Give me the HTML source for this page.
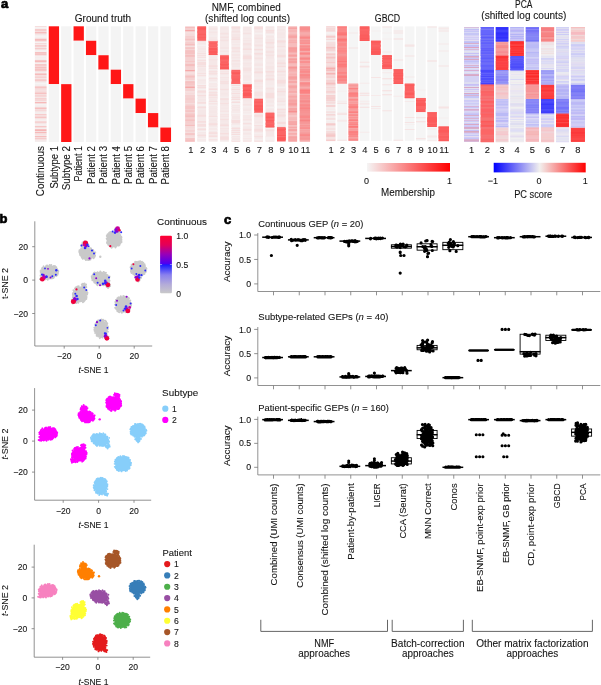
<!DOCTYPE html>
<html><head><meta charset="utf-8"><title>Figure</title>
<style>html,body{margin:0;padding:0;background:#fff;} svg{display:block;} text{font-family:"Liberation Sans", Arial, sans-serif;fill:#151515;stroke:#151515;stroke-width:0.1px;}</style>
</head><body>
<svg width="601" height="685" viewBox="0 0 601 685">
<rect width="601" height="685" fill="#fff"/>
<text x="1" y="7.7" font-size="13" style="stroke:#000;stroke-width:0.7px;fill:#000" font-weight="bold" fill="#000">a</text>
<text x="103" y="22" font-size="10" text-anchor="middle" textLength="56.4" lengthAdjust="spacingAndGlyphs">Ground truth</text>
<rect x="34.9" y="26.3" width="11.6" height="115.7" fill="#f4eded"/>
<rect x="48.75" y="26.3" width="10.3" height="57.85" fill="#ff1616"/>
<rect x="48.75" y="84.15" width="10.3" height="57.85" fill="#f4f4f4"/>
<rect x="61.15" y="26.3" width="10.3" height="57.85" fill="#f4f4f4"/>
<rect x="61.15" y="84.15" width="10.3" height="57.85" fill="#ff1616"/>
<rect x="73.55" y="26.3" width="10.3" height="14.46" fill="#ff1616"/>
<rect x="73.55" y="40.76" width="10.3" height="101.24" fill="#f4f4f4"/>
<rect x="85.95" y="26.3" width="10.3" height="14.46" fill="#f4f4f4"/>
<rect x="85.95" y="40.76" width="10.3" height="14.46" fill="#ff1616"/>
<rect x="85.95" y="55.23" width="10.3" height="86.78" fill="#f4f4f4"/>
<rect x="98.35" y="26.3" width="10.3" height="28.93" fill="#f4f4f4"/>
<rect x="98.35" y="55.23" width="10.3" height="14.46" fill="#ff1616"/>
<rect x="98.35" y="69.69" width="10.3" height="72.31" fill="#f4f4f4"/>
<rect x="110.75" y="26.3" width="10.3" height="43.39" fill="#f4f4f4"/>
<rect x="110.75" y="69.69" width="10.3" height="14.46" fill="#ff1616"/>
<rect x="110.75" y="84.15" width="10.3" height="57.85" fill="#f4f4f4"/>
<rect x="123.15" y="26.3" width="10.3" height="57.85" fill="#f4f4f4"/>
<rect x="123.15" y="84.15" width="10.3" height="14.46" fill="#ff1616"/>
<rect x="123.15" y="98.61" width="10.3" height="43.39" fill="#f4f4f4"/>
<rect x="135.55" y="26.3" width="10.3" height="72.31" fill="#f4f4f4"/>
<rect x="135.55" y="98.61" width="10.3" height="14.46" fill="#ff1616"/>
<rect x="135.55" y="113.08" width="10.3" height="28.92" fill="#f4f4f4"/>
<rect x="147.95" y="26.3" width="10.3" height="86.78" fill="#f4f4f4"/>
<rect x="147.95" y="113.08" width="10.3" height="14.46" fill="#ff1616"/>
<rect x="147.95" y="127.54" width="10.3" height="14.46" fill="#f4f4f4"/>
<rect x="160.35" y="26.3" width="10.7" height="101.24" fill="#f4f4f4"/>
<rect x="160.35" y="127.54" width="10.7" height="14.46" fill="#ff1616"/>
<path d="M34.9 26.8h11.6M34.9 38.8h11.6M34.9 66.8h11.6M34.9 89.8h11.6M34.9 91.8h11.6M34.9 96.8h11.6M34.9 99.8h11.6M34.9 134.8h11.6" stroke="#f6d8d8" stroke-width="1.02"/>
<path d="M34.9 27.8h11.6M34.9 36.8h11.6M34.9 42.8h11.6M34.9 83.8h11.6M34.9 104.8h11.6" stroke="#f6f6f6" stroke-width="1.02"/>
<path d="M34.9 28.8h11.6M34.9 35.8h11.6M34.9 37.8h11.6M34.9 41.8h11.6M34.9 44.8h11.6M34.9 50.8h11.6M34.9 51.8h11.6M34.9 55.8h11.6M34.9 56.8h11.6M34.9 58.8h11.6M34.9 63.8h11.6M34.9 75.8h11.6M34.9 78.8h11.6M34.9 94.8h11.6M34.9 101.8h11.6M34.9 103.8h11.6M34.9 118.8h11.6M34.9 120.8h11.6M34.9 124.8h11.6M34.9 128.8h11.6M34.9 131.8h11.6M34.9 133.8h11.6" stroke="#f6f0f0" stroke-width="1.02"/>
<path d="M34.9 29.8h11.6M34.9 40.8h11.6M34.9 45.8h11.6M34.9 48.8h11.6M34.9 80.8h11.6M34.9 114.8h11.6M34.9 138.8h11.6" stroke="#f6c0c0" stroke-width="1.02"/>
<path d="M34.9 30.8h11.6M34.9 53.8h11.6M34.9 65.8h11.6M34.9 70.8h11.6M34.9 73.8h11.6M34.9 77.8h11.6M34.9 79.8h11.6M34.9 98.8h11.6" stroke="#f6c6c6" stroke-width="1.02"/>
<path d="M34.9 31.8h11.6M34.9 88.8h11.6M34.9 90.8h11.6M34.9 115.8h11.6M34.9 139.8h11.6" stroke="#f6dede" stroke-width="1.02"/>
<path d="M34.9 32.8h11.6M34.9 39.8h11.6M34.9 69.8h11.6M34.9 74.8h11.6M34.9 93.8h11.6M34.9 136.8h11.6" stroke="#f6aeae" stroke-width="1.02"/>
<path d="M34.9 33.8h11.6M34.9 43.8h11.6M34.9 68.8h11.6M34.9 76.8h11.6M34.9 100.8h11.6M34.9 110.8h11.6M34.9 116.8h11.6M34.9 121.8h11.6M34.9 122.8h11.6" stroke="#f6d2d2" stroke-width="1.02"/>
<path d="M34.9 46.8h11.6M34.9 86.8h11.6M34.9 92.8h11.6M34.9 95.8h11.6M34.9 107.8h11.6" stroke="#f6cccc" stroke-width="1.02"/>
<path d="M34.9 52.8h11.6M34.9 67.8h11.6M34.9 108.8h11.6M34.9 129.8h11.6M34.9 130.8h11.6" stroke="#f6b4b4" stroke-width="1.02"/>
<path d="M34.9 54.8h11.6M34.9 60.8h11.6M34.9 61.8h11.6M34.9 64.8h11.6M34.9 87.8h11.6M34.9 117.8h11.6M34.9 126.8h11.6" stroke="#f6baba" stroke-width="1.02"/>
<path d="M34.9 102.8h11.6M34.9 132.8h11.6" stroke="#f6a8a8" stroke-width="1.02"/>
<text x="44.3" y="146" font-size="10" text-anchor="end" textLength="50.3" lengthAdjust="spacingAndGlyphs" transform="rotate(-90 44.3 146)">Continuous</text>
<text x="57.5" y="146" font-size="10" text-anchor="end" textLength="42.6" lengthAdjust="spacingAndGlyphs" transform="rotate(-90 57.5 146)">Subtype 1</text>
<text x="69.9" y="146" font-size="10" text-anchor="end" textLength="44.2" lengthAdjust="spacingAndGlyphs" transform="rotate(-90 69.9 146)">Subtype 2</text>
<text x="82.3" y="146" font-size="10" text-anchor="end" textLength="35.6" lengthAdjust="spacingAndGlyphs" transform="rotate(-90 82.3 146)">Patient 1</text>
<text x="94.7" y="146" font-size="10" text-anchor="end" textLength="38" lengthAdjust="spacingAndGlyphs" transform="rotate(-90 94.7 146)">Patient 2</text>
<text x="107.1" y="146" font-size="10" text-anchor="end" textLength="38" lengthAdjust="spacingAndGlyphs" transform="rotate(-90 107.1 146)">Patient 3</text>
<text x="119.5" y="146" font-size="10" text-anchor="end" textLength="38.4" lengthAdjust="spacingAndGlyphs" transform="rotate(-90 119.5 146)">Patient 4</text>
<text x="131.9" y="146" font-size="10" text-anchor="end" textLength="38" lengthAdjust="spacingAndGlyphs" transform="rotate(-90 131.9 146)">Patient 5</text>
<text x="144.3" y="146" font-size="10" text-anchor="end" textLength="38.4" lengthAdjust="spacingAndGlyphs" transform="rotate(-90 144.3 146)">Patient 6</text>
<text x="156.7" y="146" font-size="10" text-anchor="end" textLength="38" lengthAdjust="spacingAndGlyphs" transform="rotate(-90 156.7 146)">Patient 7</text>
<text x="169.3" y="146" font-size="10" text-anchor="end" textLength="38.4" lengthAdjust="spacingAndGlyphs" transform="rotate(-90 169.3 146)">Patient 8</text>
<text x="246.2" y="10.8" font-size="10" text-anchor="middle" textLength="69" lengthAdjust="spacingAndGlyphs">NMF, combined</text>
<text x="247.5" y="22.1" font-size="10" text-anchor="middle" textLength="85" lengthAdjust="spacingAndGlyphs">(shifted log counts)</text>
<rect x="185.2" y="26.5" width="9.6" height="115" fill="#f5d7d7"/>
<rect x="197.38" y="26.5" width="8.7" height="14.38" fill="#fb6262"/>
<rect x="197.38" y="40.88" width="8.7" height="100.62" fill="#f5e7e7"/>
<rect x="208.75" y="26.5" width="8.7" height="14.38" fill="#f5e7e7"/>
<rect x="208.75" y="40.88" width="8.7" height="14.38" fill="#fb6262"/>
<rect x="208.75" y="55.25" width="8.7" height="86.25" fill="#f5e7e7"/>
<rect x="220.12" y="26.5" width="8.7" height="28.75" fill="#f5e7e7"/>
<rect x="220.12" y="55.25" width="8.7" height="14.38" fill="#fb6262"/>
<rect x="220.12" y="69.62" width="8.7" height="71.88" fill="#f5e7e7"/>
<rect x="231.5" y="26.5" width="8.7" height="43.12" fill="#f5e7e7"/>
<rect x="231.5" y="69.62" width="8.7" height="14.38" fill="#fb6262"/>
<rect x="231.5" y="84" width="8.7" height="57.5" fill="#f5e7e7"/>
<rect x="242.88" y="26.5" width="8.7" height="57.5" fill="#f5e7e7"/>
<rect x="242.88" y="84" width="8.7" height="14.38" fill="#fb6262"/>
<rect x="242.88" y="98.38" width="8.7" height="43.12" fill="#f5e7e7"/>
<rect x="254.25" y="26.5" width="8.7" height="71.88" fill="#f5e7e7"/>
<rect x="254.25" y="98.38" width="8.7" height="14.38" fill="#fb6262"/>
<rect x="254.25" y="112.75" width="8.7" height="28.75" fill="#f5e7e7"/>
<rect x="265.62" y="26.5" width="8.7" height="86.25" fill="#f5e7e7"/>
<rect x="265.62" y="112.75" width="8.7" height="14.38" fill="#fb6262"/>
<rect x="265.62" y="127.12" width="8.7" height="14.38" fill="#f5e7e7"/>
<rect x="277" y="26.5" width="8.7" height="100.62" fill="#f5e7e7"/>
<rect x="277" y="127.12" width="8.7" height="14.38" fill="#fb6262"/>
<rect x="288.38" y="26.5" width="8.7" height="115" fill="#f7b2b2"/>
<rect x="299.75" y="26.5" width="10.3" height="115" fill="#f89c9c"/>
<path d="M185.2 27h9.6M185.2 44h9.6M185.2 50h9.6M185.2 55h9.6M185.2 65h9.6M185.2 75h9.6M185.2 86h9.6M185.2 99h9.6M185.2 104h9.6M185.2 113h9.6M185.2 117h9.6M185.2 126h9.6M185.2 128h9.6M185.2 130h9.6M185.2 131h9.6M185.2 136h9.6M288.38 135h8.7" stroke="#f6d2d2" stroke-width="1.02"/>
<path d="M185.2 28h9.6M185.2 30h9.6M185.2 31h9.6M185.2 39h9.6M185.2 45h9.6M185.2 53h9.6M185.2 56h9.6M185.2 64h9.6M185.2 66h9.6M185.2 70h9.6M185.2 71h9.6M185.2 87h9.6M185.2 88h9.6M185.2 96h9.6M185.2 102h9.6M185.2 116h9.6M185.2 125h9.6M185.2 141h9.6M288.38 38h8.7M288.38 50h8.7M288.38 53h8.7M288.38 71h8.7M288.38 78h8.7M288.38 81h8.7M288.38 83h8.7M288.38 85h8.7M288.38 96h8.7M288.38 102h8.7M288.38 106h8.7M288.38 114h8.7M288.38 139h8.7M288.38 140h8.7M299.75 32h10.3M299.75 36h10.3M299.75 39h10.3M299.75 56h10.3M299.75 79h10.3M299.75 88h10.3M299.75 114h10.3M299.75 124h10.3M299.75 130h10.3" stroke="#f6a8a8" stroke-width="1.02"/>
<path d="M185.2 29h9.6M185.2 32h9.6M185.2 35h9.6M185.2 38h9.6M185.2 46h9.6M185.2 58h9.6M185.2 60h9.6M185.2 67h9.6M185.2 72h9.6M185.2 73h9.6M185.2 74h9.6M185.2 92h9.6M185.2 93h9.6M185.2 110h9.6M185.2 119h9.6M185.2 124h9.6M185.2 127h9.6M185.2 135h9.6M185.2 138h9.6M197.38 41.38h8.7M197.38 53.38h8.7M197.38 55.38h8.7M197.38 57.38h8.7M197.38 60.38h8.7M197.38 62.38h8.7M197.38 63.38h8.7M197.38 64.38h8.7M197.38 66.38h8.7M197.38 73.38h8.7M197.38 75.38h8.7M197.38 85.38h8.7M197.38 87.38h8.7M197.38 91.38h8.7M197.38 92.38h8.7M197.38 95.38h8.7M197.38 102.38h8.7M197.38 103.38h8.7M197.38 107.38h8.7M197.38 115.38h8.7M197.38 116.38h8.7M197.38 121.38h8.7M197.38 122.38h8.7M197.38 124.38h8.7M197.38 125.38h8.7M197.38 126.38h8.7M197.38 129.38h8.7M197.38 135.38h8.7M208.75 29h8.7M208.75 32h8.7M208.75 40h8.7M208.75 59.75h8.7M208.75 65.75h8.7M208.75 66.75h8.7M208.75 68.75h8.7M208.75 71.75h8.7M208.75 73.75h8.7M208.75 78.75h8.7M208.75 88.75h8.7M208.75 89.75h8.7M208.75 92.75h8.7M208.75 94.75h8.7M208.75 95.75h8.7M208.75 97.75h8.7M208.75 101.75h8.7M208.75 103.75h8.7M208.75 116.75h8.7M208.75 123.75h8.7M208.75 124.75h8.7M208.75 132.75h8.7M208.75 133.75h8.7M208.75 135.75h8.7M208.75 136.75h8.7M208.75 139.75h8.7M220.12 34h8.7M220.12 37h8.7M220.12 40h8.7M220.12 48h8.7M220.12 51h8.7M220.12 54.88h8.7M220.12 71.12h8.7M220.12 73.12h8.7M220.12 77.12h8.7M220.12 81.12h8.7M220.12 83.12h8.7M220.12 89.12h8.7M220.12 99.12h8.7M220.12 103.12h8.7M220.12 111.12h8.7M220.12 114.12h8.7M220.12 116.12h8.7M220.12 119.12h8.7M220.12 125.12h8.7M220.12 126.12h8.7M220.12 128.12h8.7M220.12 133.12h8.7M220.12 134.12h8.7M220.12 137.12h8.7M220.12 138.12h8.7M220.12 139.12h8.7M231.5 27h8.7M231.5 28h8.7M231.5 32h8.7M231.5 35h8.7M231.5 37h8.7M231.5 39h8.7M231.5 40h8.7M231.5 42h8.7M231.5 48h8.7M231.5 52h8.7M231.5 55h8.7M231.5 58h8.7M231.5 61h8.7M231.5 64h8.7M231.5 85.5h8.7M231.5 89.5h8.7M231.5 93.5h8.7M231.5 97.5h8.7M231.5 99.5h8.7M231.5 102.5h8.7M231.5 120.5h8.7M231.5 121.5h8.7M231.5 122.5h8.7M231.5 128.5h8.7M231.5 130.5h8.7M231.5 132.5h8.7M231.5 134.5h8.7M231.5 141.25h8.7M242.88 34h8.7M242.88 41h8.7M242.88 43h8.7M242.88 45h8.7M242.88 49h8.7M242.88 50h8.7M242.88 52h8.7M242.88 56h8.7M242.88 57h8.7M242.88 58h8.7M242.88 59h8.7M242.88 63h8.7M242.88 68h8.7M242.88 70h8.7M242.88 104.88h8.7M242.88 115.88h8.7M242.88 119.88h8.7M242.88 123.88h8.7M242.88 129.88h8.7M242.88 138.88h8.7M242.88 140.88h8.7M254.25 27h8.7M254.25 28h8.7M254.25 29h8.7M254.25 38h8.7M254.25 45h8.7M254.25 49h8.7M254.25 50h8.7M254.25 53h8.7M254.25 54h8.7M254.25 58h8.7M254.25 65h8.7M254.25 69h8.7M254.25 72h8.7M254.25 73h8.7M254.25 80h8.7M254.25 81h8.7M254.25 82h8.7M254.25 84h8.7M254.25 86h8.7M254.25 93h8.7M254.25 95h8.7M254.25 115.25h8.7M254.25 116.25h8.7M254.25 125.25h8.7M254.25 129.25h8.7M254.25 130.25h8.7M254.25 131.25h8.7M254.25 136.25h8.7M254.25 141.12h8.7M265.62 30h8.7M265.62 31h8.7M265.62 33h8.7M265.62 40h8.7M265.62 42h8.7M265.62 43h8.7M265.62 47h8.7M265.62 52h8.7M265.62 55h8.7M265.62 67h8.7M265.62 69h8.7M265.62 71h8.7M265.62 72h8.7M265.62 76h8.7M265.62 79h8.7M265.62 80h8.7M265.62 89h8.7M265.62 93h8.7M265.62 94h8.7M265.62 95h8.7M265.62 96h8.7M265.62 97h8.7M265.62 98h8.7M265.62 127.62h8.7M265.62 129.62h8.7M265.62 130.62h8.7M277 27h8.7M277 41h8.7M277 42h8.7M277 47h8.7M277 51h8.7M277 55h8.7M277 56h8.7M277 57h8.7M277 63h8.7M277 64h8.7M277 66h8.7M277 67h8.7M277 71h8.7M277 72h8.7M277 75h8.7M277 80h8.7M277 81h8.7M277 82h8.7M277 83h8.7M277 89h8.7M277 91h8.7M277 92h8.7M277 101h8.7M277 109h8.7M277 110h8.7M277 112h8.7M277 115h8.7M277 116h8.7M277 122h8.7M277 123h8.7M277 124h8.7M277 126h8.7" stroke="#f6dede" stroke-width="1.02"/>
<path d="M185.2 33h9.6M185.2 47h9.6M185.2 63h9.6M185.2 69h9.6M185.2 78h9.6M185.2 80h9.6M185.2 89h9.6M185.2 91h9.6M185.2 95h9.6M185.2 97h9.6M185.2 101h9.6M185.2 103h9.6M185.2 129h9.6M185.2 133h9.6M185.2 137h9.6" stroke="#f6e4e4" stroke-width="1.02"/>
<path d="M185.2 37h9.6M185.2 40h9.6M185.2 43h9.6M185.2 52h9.6M185.2 54h9.6M185.2 57h9.6M185.2 59h9.6M185.2 61h9.6M185.2 62h9.6M185.2 68h9.6M185.2 76h9.6M185.2 79h9.6M185.2 83h9.6M185.2 84h9.6M185.2 85h9.6M185.2 90h9.6M185.2 98h9.6M185.2 100h9.6M185.2 106h9.6M185.2 107h9.6M185.2 108h9.6M185.2 109h9.6M185.2 114h9.6M185.2 115h9.6M185.2 118h9.6M185.2 121h9.6M185.2 123h9.6M288.38 54h8.7M288.38 58h8.7M288.38 64h8.7M288.38 76h8.7M288.38 80h8.7M288.38 113h8.7M288.38 115h8.7M288.38 116h8.7M288.38 117h8.7M288.38 121h8.7" stroke="#f6c6c6" stroke-width="1.02"/>
<path d="M185.2 48h9.6M185.2 51h9.6M185.2 77h9.6M185.2 82h9.6M185.2 111h9.6M185.2 120h9.6M185.2 134h9.6M185.2 139h9.6M299.75 34h10.3M299.75 55h10.3M299.75 81h10.3M299.75 82h10.3M299.75 87h10.3M299.75 97h10.3M299.75 127h10.3M299.75 132h10.3M299.75 141h10.3" stroke="#f6b4b4" stroke-width="1.02"/>
<path d="M197.38 27h8.7M197.38 31h8.7M197.38 32h8.7M197.38 33h8.7M197.38 38h8.7M197.38 40h8.7M208.75 42.38h8.7M208.75 44.38h8.7M208.75 45.38h8.7M208.75 50.38h8.7M220.12 59.75h8.7M220.12 63.75h8.7M220.12 66.75h8.7M220.12 69.44h8.7M231.5 72.12h8.7M231.5 76.12h8.7M231.5 77.12h8.7M231.5 78.12h8.7M231.5 82.12h8.7M231.5 83.12h8.7M242.88 84.5h8.7M242.88 87.5h8.7M242.88 88.5h8.7M242.88 91.5h8.7M242.88 96.5h8.7M242.88 97.5h8.7M242.88 98.19h8.7M254.25 102.88h8.7M254.25 103.88h8.7M254.25 104.88h8.7M254.25 107.88h8.7M254.25 112.56h8.7M265.62 113.25h8.7M265.62 114.25h8.7M265.62 115.25h8.7M265.62 116.25h8.7M265.62 118.25h8.7M265.62 124.25h8.7M265.62 126.25h8.7M277 128.62h8.7M277 131.62h8.7M277 132.62h8.7M277 133.62h8.7M277 134.62h8.7" stroke="#fc6666" stroke-width="1.02"/>
<path d="M197.38 28h8.7M197.38 29h8.7M197.38 35h8.7M197.38 37h8.7M208.75 41.38h8.7M208.75 48.38h8.7M208.75 49.38h8.7M208.75 51.38h8.7M208.75 52.38h8.7M208.75 54.38h8.7M220.12 56.75h8.7M220.12 57.75h8.7M220.12 58.75h8.7M220.12 64.75h8.7M220.12 67.75h8.7M220.12 68.75h8.7M231.5 73.12h8.7M242.88 85.5h8.7M242.88 86.5h8.7M242.88 90.5h8.7M242.88 93.5h8.7M242.88 94.5h8.7M242.88 95.5h8.7M254.25 101.88h8.7M254.25 105.88h8.7M254.25 106.88h8.7M254.25 108.88h8.7M254.25 109.88h8.7M265.62 117.25h8.7M265.62 120.25h8.7M265.62 126.94h8.7M277 129.62h8.7M277 135.62h8.7M277 137.62h8.7M277 138.62h8.7M277 139.62h8.7" stroke="#fc5a5a" stroke-width="1.02"/>
<path d="M197.38 36h8.7M208.75 47.38h8.7M220.12 55.75h8.7M220.12 60.75h8.7M231.5 71.12h8.7M231.5 75.12h8.7M231.5 83.81h8.7M254.25 100.88h8.7M265.62 119.25h8.7M265.62 123.25h8.7M277 136.62h8.7" stroke="#fc6c6c" stroke-width="1.02"/>
<path d="M197.38 42.38h8.7M197.38 44.38h8.7M197.38 46.38h8.7M197.38 47.38h8.7M197.38 50.38h8.7M197.38 52.38h8.7M197.38 54.38h8.7M197.38 56.38h8.7M197.38 59.38h8.7M197.38 61.38h8.7M197.38 67.38h8.7M197.38 71.38h8.7M197.38 72.38h8.7M197.38 74.38h8.7M197.38 76.38h8.7M197.38 79.38h8.7M197.38 81.38h8.7M197.38 82.38h8.7M197.38 83.38h8.7M197.38 93.38h8.7M197.38 94.38h8.7M197.38 98.38h8.7M197.38 101.38h8.7M197.38 109.38h8.7M197.38 117.38h8.7M197.38 118.38h8.7M197.38 119.38h8.7M197.38 120.38h8.7M197.38 123.38h8.7M197.38 133.38h8.7M197.38 139.38h8.7M197.38 140.38h8.7M208.75 27h8.7M208.75 28h8.7M208.75 30h8.7M208.75 33h8.7M208.75 34h8.7M208.75 35h8.7M208.75 37h8.7M208.75 39h8.7M208.75 56.75h8.7M208.75 58.75h8.7M208.75 79.75h8.7M208.75 84.75h8.7M208.75 85.75h8.7M208.75 96.75h8.7M208.75 98.75h8.7M208.75 104.75h8.7M208.75 107.75h8.7M208.75 109.75h8.7M208.75 113.75h8.7M208.75 118.75h8.7M208.75 121.75h8.7M208.75 126.75h8.7M208.75 129.75h8.7M208.75 134.75h8.7M208.75 140.75h8.7M220.12 27h8.7M220.12 30h8.7M220.12 31h8.7M220.12 32h8.7M220.12 35h8.7M220.12 36h8.7M220.12 39h8.7M220.12 42h8.7M220.12 43h8.7M220.12 44h8.7M220.12 45h8.7M220.12 46h8.7M220.12 47h8.7M220.12 49h8.7M220.12 52h8.7M220.12 54h8.7M220.12 72.12h8.7M220.12 75.12h8.7M220.12 78.12h8.7M220.12 80.12h8.7M220.12 85.12h8.7M220.12 86.12h8.7M220.12 87.12h8.7M220.12 88.12h8.7M220.12 91.12h8.7M220.12 92.12h8.7M220.12 95.12h8.7M220.12 102.12h8.7M220.12 106.12h8.7M220.12 107.12h8.7M220.12 109.12h8.7M220.12 110.12h8.7M220.12 112.12h8.7M220.12 115.12h8.7M220.12 117.12h8.7M220.12 118.12h8.7M220.12 122.12h8.7M220.12 129.12h8.7M220.12 132.12h8.7M220.12 135.12h8.7M231.5 33h8.7M231.5 34h8.7M231.5 36h8.7M231.5 44h8.7M231.5 54h8.7M231.5 56h8.7M231.5 57h8.7M231.5 62h8.7M231.5 63h8.7M231.5 65h8.7M231.5 69h8.7M231.5 84.5h8.7M231.5 88.5h8.7M231.5 90.5h8.7M231.5 92.5h8.7M231.5 94.5h8.7M231.5 106.5h8.7M231.5 108.5h8.7M231.5 111.5h8.7M231.5 112.5h8.7M231.5 114.5h8.7M231.5 115.5h8.7M231.5 119.5h8.7M231.5 124.5h8.7M231.5 131.5h8.7M231.5 133.5h8.7M231.5 137.5h8.7M231.5 140.5h8.7M242.88 29h8.7M242.88 31h8.7M242.88 32h8.7M242.88 36h8.7M242.88 39h8.7M242.88 40h8.7M242.88 46h8.7M242.88 60h8.7M242.88 64h8.7M242.88 66h8.7M242.88 67h8.7M242.88 73h8.7M242.88 74h8.7M242.88 75h8.7M242.88 79h8.7M242.88 83.75h8.7M242.88 98.88h8.7M242.88 99.88h8.7M242.88 101.88h8.7M242.88 102.88h8.7M242.88 103.88h8.7M242.88 105.88h8.7M242.88 107.88h8.7M242.88 108.88h8.7M242.88 116.88h8.7M242.88 118.88h8.7M242.88 120.88h8.7M242.88 124.88h8.7M242.88 127.88h8.7M242.88 134.88h8.7M242.88 136.88h8.7M254.25 30h8.7M254.25 31h8.7M254.25 37h8.7M254.25 40h8.7M254.25 43h8.7M254.25 44h8.7M254.25 51h8.7M254.25 56h8.7M254.25 57h8.7M254.25 60h8.7M254.25 61h8.7M254.25 64h8.7M254.25 66h8.7M254.25 68h8.7M254.25 70h8.7M254.25 74h8.7M254.25 75h8.7M254.25 76h8.7M254.25 77h8.7M254.25 79h8.7M254.25 83h8.7M254.25 87h8.7M254.25 97.94h8.7M254.25 113.25h8.7M254.25 118.25h8.7M254.25 119.25h8.7M254.25 120.25h8.7M254.25 121.25h8.7M254.25 123.25h8.7M254.25 132.25h8.7M254.25 134.25h8.7M254.25 135.25h8.7M254.25 140.25h8.7M265.62 27h8.7M265.62 38h8.7M265.62 39h8.7M265.62 41h8.7M265.62 46h8.7M265.62 49h8.7M265.62 50h8.7M265.62 54h8.7M265.62 59h8.7M265.62 60h8.7M265.62 61h8.7M265.62 62h8.7M265.62 64h8.7M265.62 65h8.7M265.62 66h8.7M265.62 68h8.7M265.62 77h8.7M265.62 81h8.7M265.62 82h8.7M265.62 83h8.7M265.62 84h8.7M265.62 85h8.7M265.62 87h8.7M265.62 90h8.7M265.62 92h8.7M265.62 99h8.7M265.62 100h8.7M265.62 103h8.7M265.62 110h8.7M265.62 136.62h8.7M265.62 140.62h8.7M265.62 141.31h8.7M277 31h8.7M277 32h8.7M277 36h8.7M277 45h8.7M277 50h8.7M277 52h8.7M277 54h8.7M277 58h8.7M277 65h8.7M277 70h8.7M277 73h8.7M277 74h8.7M277 76h8.7M277 77h8.7M277 79h8.7M277 90h8.7M277 93h8.7M277 96h8.7M277 98h8.7M277 100h8.7M277 104h8.7M277 111h8.7M277 118h8.7M277 119h8.7M277 120h8.7" stroke="#f6eaea" stroke-width="1.02"/>
<path d="M197.38 45.38h8.7M197.38 58.38h8.7M197.38 77.38h8.7M197.38 78.38h8.7M197.38 84.38h8.7M197.38 89.38h8.7M197.38 104.38h8.7M197.38 105.38h8.7M197.38 127.38h8.7M197.38 131.38h8.7M197.38 138.38h8.7M197.38 141.19h8.7M208.75 31h8.7M208.75 36h8.7M208.75 40.69h8.7M208.75 69.75h8.7M208.75 75.75h8.7M208.75 76.75h8.7M208.75 81.75h8.7M208.75 82.75h8.7M208.75 87.75h8.7M208.75 90.75h8.7M208.75 102.75h8.7M208.75 105.75h8.7M208.75 117.75h8.7M208.75 127.75h8.7M208.75 130.75h8.7M208.75 137.75h8.7M208.75 138.75h8.7M220.12 50h8.7M220.12 53h8.7M220.12 70.12h8.7M220.12 76.12h8.7M220.12 97.12h8.7M220.12 113.12h8.7M220.12 127.12h8.7M220.12 141.06h8.7M231.5 41h8.7M231.5 43h8.7M231.5 46h8.7M231.5 53h8.7M231.5 59h8.7M231.5 68h8.7M231.5 86.5h8.7M231.5 100.5h8.7M231.5 103.5h8.7M231.5 104.5h8.7M231.5 113.5h8.7M231.5 125.5h8.7M231.5 126.5h8.7M231.5 135.5h8.7M242.88 35h8.7M242.88 37h8.7M242.88 42h8.7M242.88 51h8.7M242.88 53h8.7M242.88 62h8.7M242.88 81h8.7M242.88 82h8.7M242.88 106.88h8.7M242.88 111.88h8.7M242.88 113.88h8.7M242.88 114.88h8.7M242.88 121.88h8.7M242.88 125.88h8.7M242.88 131.88h8.7M242.88 135.88h8.7M242.88 137.88h8.7M242.88 139.88h8.7M254.25 33h8.7M254.25 34h8.7M254.25 48h8.7M254.25 52h8.7M254.25 62h8.7M254.25 67h8.7M254.25 78h8.7M254.25 85h8.7M254.25 90h8.7M254.25 124.25h8.7M254.25 133.25h8.7M254.25 139.25h8.7M265.62 29h8.7M265.62 34h8.7M265.62 35h8.7M265.62 70h8.7M265.62 86h8.7M265.62 104h8.7M265.62 107h8.7M265.62 108h8.7M265.62 128.62h8.7M265.62 137.62h8.7M265.62 138.62h8.7M265.62 139.62h8.7M277 28h8.7M277 39h8.7M277 48h8.7M277 59h8.7M277 68h8.7M277 87h8.7M277 88h8.7M277 97h8.7M277 103h8.7M277 106h8.7M277 107h8.7M277 108h8.7M277 121h8.7M277 125h8.7" stroke="#f6f0f0" stroke-width="1.02"/>
<path d="M288.38 27h8.7M288.38 39h8.7M288.38 42h8.7M288.38 57h8.7M288.38 93h8.7M288.38 94h8.7M288.38 99h8.7M288.38 108h8.7M288.38 110h8.7M288.38 120h8.7M288.38 123h8.7M288.38 129h8.7M288.38 133h8.7M288.38 136h8.7" stroke="#f6c0c0" stroke-width="1.02"/>
<path d="M288.38 28h8.7M288.38 36h8.7M288.38 43h8.7M288.38 47h8.7M288.38 69h8.7M288.38 82h8.7M288.38 92h8.7M288.38 97h8.7M288.38 100h8.7M288.38 103h8.7M288.38 105h8.7M288.38 134h8.7M288.38 138h8.7M299.75 40h10.3M299.75 51h10.3M299.75 61h10.3M299.75 68h10.3M299.75 69h10.3M299.75 80h10.3M299.75 89h10.3M299.75 107h10.3M299.75 122h10.3M299.75 131h10.3M299.75 134h10.3M299.75 137h10.3" stroke="#f6a2a2" stroke-width="1.02"/>
<path d="M288.38 29h8.7M288.38 37h8.7M288.38 48h8.7M288.38 55h8.7M288.38 60h8.7M288.38 101h8.7M288.38 127h8.7M288.38 137h8.7M288.38 141h8.7" stroke="#f69c9c" stroke-width="1.02"/>
<path d="M288.38 30h8.7M288.38 32h8.7M288.38 34h8.7M288.38 44h8.7M288.38 46h8.7M288.38 66h8.7M288.38 84h8.7M288.38 126h8.7M288.38 132h8.7" stroke="#f6cccc" stroke-width="1.02"/>
<path d="M288.38 31h8.7M288.38 35h8.7M288.38 41h8.7M288.38 52h8.7M288.38 61h8.7M288.38 63h8.7M288.38 75h8.7M288.38 86h8.7M288.38 89h8.7M288.38 98h8.7M299.75 33h10.3M299.75 42h10.3M299.75 57h10.3M299.75 60h10.3M299.75 64h10.3M299.75 73h10.3M299.75 95h10.3M299.75 99h10.3M299.75 103h10.3M299.75 129h10.3M299.75 140h10.3" stroke="#f6aeae" stroke-width="1.02"/>
<path d="M288.38 45h8.7M288.38 65h8.7M288.38 72h8.7M288.38 73h8.7M288.38 90h8.7M288.38 95h8.7M288.38 107h8.7M288.38 118h8.7M288.38 119h8.7M288.38 131h8.7M299.75 45h10.3M299.75 52h10.3M299.75 66h10.3" stroke="#f6baba" stroke-width="1.02"/>
<path d="M288.38 49h8.7M288.38 51h8.7M288.38 62h8.7M288.38 77h8.7M288.38 104h8.7M288.38 109h8.7M288.38 111h8.7M288.38 112h8.7M288.38 130h8.7M299.75 27h10.3M299.75 28h10.3M299.75 30h10.3M299.75 48h10.3M299.75 77h10.3M299.75 78h10.3M299.75 84h10.3M299.75 85h10.3M299.75 100h10.3M299.75 104h10.3M299.75 110h10.3M299.75 116h10.3M299.75 118h10.3M299.75 123h10.3M299.75 126h10.3M299.75 139h10.3" stroke="#f69090" stroke-width="1.02"/>
<path d="M288.38 56h8.7M288.38 59h8.7M288.38 67h8.7M288.38 68h8.7M288.38 79h8.7M288.38 87h8.7M288.38 122h8.7M288.38 124h8.7M299.75 31h10.3M299.75 47h10.3M299.75 74h10.3M299.75 86h10.3M299.75 133h10.3M299.75 136h10.3M299.75 138h10.3" stroke="#f69696" stroke-width="1.02"/>
<path d="M299.75 29h10.3M299.75 43h10.3M299.75 46h10.3M299.75 49h10.3M299.75 53h10.3M299.75 62h10.3M299.75 105h10.3" stroke="#fc8484" stroke-width="1.02"/>
<path d="M299.75 37h10.3M299.75 41h10.3M299.75 58h10.3M299.75 67h10.3M299.75 70h10.3M299.75 76h10.3M299.75 101h10.3M299.75 109h10.3M299.75 111h10.3M299.75 113h10.3M299.75 115h10.3" stroke="#f68a8a" stroke-width="1.02"/>
<path d="M299.75 38h10.3M299.75 50h10.3M299.75 54h10.3M299.75 59h10.3M299.75 75h10.3M299.75 83h10.3M299.75 90h10.3M299.75 91h10.3M299.75 93h10.3M299.75 96h10.3M299.75 117h10.3M299.75 128h10.3M299.75 135h10.3" stroke="#fc7e7e" stroke-width="1.02"/>
<path d="M299.75 72h10.3M299.75 92h10.3M299.75 108h10.3" stroke="#fc7878" stroke-width="1.02"/>
<path d="M299.75 98h10.3M299.75 102h10.3M299.75 106h10.3M299.75 120h10.3M299.75 121h10.3" stroke="#f68484" stroke-width="1.02"/>
<text x="190.8" y="152.7" font-size="9.3" text-anchor="middle">1</text>
<text x="202.53" y="152.7" font-size="9.3" text-anchor="middle">2</text>
<text x="213.9" y="152.7" font-size="9.3" text-anchor="middle">3</text>
<text x="225.28" y="152.7" font-size="9.3" text-anchor="middle">4</text>
<text x="236.65" y="152.7" font-size="9.3" text-anchor="middle">5</text>
<text x="248.03" y="152.7" font-size="9.3" text-anchor="middle">6</text>
<text x="259.4" y="152.7" font-size="9.3" text-anchor="middle">7</text>
<text x="270.78" y="152.7" font-size="9.3" text-anchor="middle">8</text>
<text x="282.15" y="152.7" font-size="9.3" text-anchor="middle">9</text>
<text x="293.53" y="152.7" font-size="9.3" text-anchor="middle">10</text>
<text x="305.7" y="152.7" font-size="9.3" text-anchor="middle">11</text>
<text x="387.5" y="21.9" font-size="10" text-anchor="middle" textLength="25.4" lengthAdjust="spacingAndGlyphs">GBCD</text>
<rect x="326.1" y="26.4" width="9.3" height="114.5" fill="#f5eeee"/>
<rect x="337.3" y="26.4" width="9.6" height="57.25" fill="#fa8787"/>
<rect x="337.3" y="83.65" width="9.6" height="57.25" fill="#f5f5f5"/>
<rect x="348.55" y="26.4" width="9.6" height="57.25" fill="#f5f5f5"/>
<rect x="348.55" y="83.65" width="9.6" height="57.25" fill="#f99393"/>
<rect x="359.8" y="26.4" width="9.6" height="14.31" fill="#fb6060"/>
<rect x="359.8" y="40.71" width="9.6" height="100.19" fill="#f5f5f5"/>
<rect x="371.05" y="26.4" width="9.6" height="14.31" fill="#f5f5f5"/>
<rect x="371.05" y="40.71" width="9.6" height="14.31" fill="#fb6060"/>
<rect x="371.05" y="55.02" width="9.6" height="85.88" fill="#f5f5f5"/>
<rect x="382.3" y="26.4" width="9.6" height="28.62" fill="#f5f5f5"/>
<rect x="382.3" y="55.02" width="9.6" height="14.31" fill="#fb6060"/>
<rect x="382.3" y="69.34" width="9.6" height="71.56" fill="#f5f5f5"/>
<rect x="393.55" y="26.4" width="9.6" height="42.94" fill="#f5f5f5"/>
<rect x="393.55" y="69.34" width="9.6" height="14.31" fill="#fb6060"/>
<rect x="393.55" y="83.65" width="9.6" height="57.25" fill="#f5f5f5"/>
<rect x="404.8" y="26.4" width="9.6" height="57.25" fill="#f5f5f5"/>
<rect x="404.8" y="83.65" width="9.6" height="14.31" fill="#fb6060"/>
<rect x="404.8" y="97.96" width="9.6" height="42.94" fill="#f5f5f5"/>
<rect x="416.05" y="26.4" width="9.6" height="71.56" fill="#f5f5f5"/>
<rect x="416.05" y="97.96" width="9.6" height="14.31" fill="#fb6060"/>
<rect x="416.05" y="112.28" width="9.6" height="28.62" fill="#f5f5f5"/>
<rect x="427.3" y="26.4" width="9.6" height="85.88" fill="#f5f5f5"/>
<rect x="427.3" y="112.28" width="9.6" height="14.31" fill="#fb6060"/>
<rect x="427.3" y="126.59" width="9.6" height="14.31" fill="#f5f5f5"/>
<rect x="438.55" y="26.4" width="10.4" height="100.19" fill="#f5f5f5"/>
<rect x="438.55" y="126.59" width="10.4" height="14.31" fill="#fb6060"/>
<path d="M326.1 26.9h9.3M326.1 30.9h9.3M326.1 69.9h9.3M326.1 70.9h9.3M326.1 87.9h9.3M326.1 89.9h9.3M326.1 114.9h9.3" stroke="#f6c0c0" stroke-width="1.02"/>
<path d="M326.1 27.9h9.3M326.1 31.9h9.3M326.1 33.9h9.3M326.1 41.9h9.3M326.1 43.9h9.3M326.1 58.9h9.3M326.1 63.9h9.3M326.1 77.9h9.3M326.1 79.9h9.3M326.1 85.9h9.3M326.1 88.9h9.3M326.1 90.9h9.3M326.1 93.9h9.3M326.1 94.9h9.3M326.1 100.9h9.3M326.1 104.9h9.3M326.1 109.9h9.3M326.1 112.9h9.3M326.1 115.9h9.3M326.1 117.9h9.3M326.1 125.9h9.3M326.1 126.9h9.3M326.1 127.9h9.3M326.1 129.9h9.3M326.1 136.9h9.3M326.1 140.65h9.3M337.3 101.15h9.6M337.3 120.15h9.6M337.3 121.15h9.6M348.55 32.9h9.6M359.8 67.21h9.6M359.8 83.21h9.6M359.8 101.21h9.6M359.8 103.21h9.6M359.8 104.21h9.6M359.8 132.21h9.6M371.05 95.53h9.6M371.05 108.53h9.6M382.3 51.9h9.6M382.3 69.84h9.6M382.3 72.84h9.6M393.55 96.15h9.6M404.8 76.9h9.6M404.8 101.46h9.6M427.3 129.09h9.6M427.3 136.09h9.6M427.3 137.09h9.6M427.3 140.74h9.6M438.55 27.9h10.4M438.55 28.9h10.4M438.55 43.9h10.4M438.55 50.9h10.4" stroke="#f6eaea" stroke-width="1.02"/>
<path d="M326.1 28.9h9.3M326.1 38.9h9.3M326.1 46.9h9.3M326.1 74.9h9.3" stroke="#f6c6c6" stroke-width="1.02"/>
<path d="M326.1 32.9h9.3M326.1 37.9h9.3M326.1 52.9h9.3M326.1 96.9h9.3M326.1 110.9h9.3M326.1 119.9h9.3" stroke="#f6f6f6" stroke-width="1.02"/>
<path d="M326.1 35.9h9.3M326.1 42.9h9.3M326.1 54.9h9.3M326.1 64.9h9.3M326.1 102.9h9.3M326.1 118.9h9.3M326.1 134.9h9.3" stroke="#f6d2d2" stroke-width="1.02"/>
<path d="M326.1 36.9h9.3M326.1 57.9h9.3M326.1 72.9h9.3M326.1 73.9h9.3M326.1 83.9h9.3M326.1 95.9h9.3" stroke="#f6b4b4" stroke-width="1.02"/>
<path d="M326.1 44.9h9.3M326.1 59.9h9.3M326.1 61.9h9.3M326.1 62.9h9.3M326.1 84.9h9.3M326.1 124.9h9.3M326.1 131.9h9.3" stroke="#f6cccc" stroke-width="1.02"/>
<path d="M326.1 47.9h9.3M326.1 67.9h9.3M326.1 68.9h9.3M326.1 82.9h9.3M326.1 97.9h9.3M326.1 135.9h9.3M326.1 139.9h9.3M348.55 84.15h9.6M348.55 103.15h9.6M348.55 113.15h9.6M348.55 121.15h9.6M348.55 128.15h9.6" stroke="#f6aeae" stroke-width="1.02"/>
<path d="M326.1 49.9h9.3M326.1 53.9h9.3M326.1 56.9h9.3M326.1 66.9h9.3M326.1 76.9h9.3M326.1 80.9h9.3M326.1 91.9h9.3M326.1 99.9h9.3M326.1 105.9h9.3M326.1 123.9h9.3M326.1 133.9h9.3" stroke="#f6baba" stroke-width="1.02"/>
<path d="M326.1 50.9h9.3M326.1 55.9h9.3M326.1 60.9h9.3M326.1 65.9h9.3M326.1 71.9h9.3M326.1 78.9h9.3M326.1 86.9h9.3M326.1 92.9h9.3M326.1 101.9h9.3M326.1 111.9h9.3M326.1 128.9h9.3M326.1 137.9h9.3" stroke="#f6d8d8" stroke-width="1.02"/>
<path d="M326.1 51.9h9.3M326.1 138.9h9.3M337.3 113.15h9.6M337.3 140.15h9.6M348.55 47.9h9.6M359.8 62.21h9.6M371.05 77.53h9.6M371.05 106.53h9.6M382.3 26.9h9.6M382.3 84.84h9.6M382.3 110.84h9.6M393.55 30.9h9.6M393.55 32.9h9.6M393.55 59.9h9.6M393.55 140.15h9.6M404.8 44.9h9.6M404.8 55.9h9.6M404.8 117.46h9.6M404.8 122.46h9.6M404.8 129.46h9.6M427.3 26.9h9.6M438.55 30.9h10.4M438.55 65.9h10.4M438.55 106.9h10.4M438.55 107.9h10.4" stroke="#f6e4e4" stroke-width="1.02"/>
<path d="M337.3 26.9h9.6M337.3 33.9h9.6M337.3 38.9h9.6M337.3 60.9h9.6M348.55 107.15h9.6M348.55 112.15h9.6M348.55 120.15h9.6M348.55 126.15h9.6M348.55 127.15h9.6M348.55 132.15h9.6" stroke="#fc7878" stroke-width="1.02"/>
<path d="M337.3 31.9h9.6M337.3 37.9h9.6M337.3 42.9h9.6M337.3 45.9h9.6M337.3 47.9h9.6M337.3 59.9h9.6M337.3 66.9h9.6M337.3 82.9h9.6M348.55 99.15h9.6M348.55 100.15h9.6M348.55 104.15h9.6M348.55 111.15h9.6M348.55 117.15h9.6M348.55 122.15h9.6" stroke="#fc8a8a" stroke-width="1.02"/>
<path d="M337.3 32.9h9.6M337.3 50.9h9.6M337.3 56.9h9.6M337.3 61.9h9.6M337.3 65.9h9.6M337.3 75.9h9.6" stroke="#fc7272" stroke-width="1.02"/>
<path d="M337.3 34.9h9.6M337.3 39.9h9.6M337.3 63.9h9.6M337.3 79.9h9.6" stroke="#fc6c6c" stroke-width="1.02"/>
<path d="M337.3 35.9h9.6M337.3 49.9h9.6M337.3 51.9h9.6M337.3 57.9h9.6M337.3 62.9h9.6M337.3 69.9h9.6M337.3 71.9h9.6M337.3 80.9h9.6" stroke="#fc9090" stroke-width="1.02"/>
<path d="M337.3 36.9h9.6M337.3 41.9h9.6M337.3 46.9h9.6M337.3 55.9h9.6M337.3 68.9h9.6M337.3 70.9h9.6M337.3 73.9h9.6M337.3 81.9h9.6M348.55 102.15h9.6M348.55 109.15h9.6M348.55 125.15h9.6M348.55 129.15h9.6" stroke="#f69c9c" stroke-width="1.02"/>
<path d="M337.3 40.9h9.6M337.3 58.9h9.6M337.3 72.9h9.6M337.3 76.9h9.6M337.3 77.9h9.6M348.55 88.15h9.6M348.55 93.15h9.6M348.55 94.15h9.6M348.55 106.15h9.6M348.55 124.15h9.6M348.55 131.15h9.6M348.55 134.15h9.6M348.55 136.15h9.6" stroke="#fc7e7e" stroke-width="1.02"/>
<path d="M337.3 53.9h9.6M337.3 54.9h9.6M337.3 74.9h9.6M337.3 78.9h9.6M348.55 85.15h9.6M348.55 114.15h9.6M348.55 140.15h9.6" stroke="#f69696" stroke-width="1.02"/>
<path d="M337.3 91.15h9.6M371.05 30.9h9.6M382.3 32.9h9.6M382.3 38.9h9.6M404.8 124.46h9.6M416.05 89.9h9.6M438.55 117.9h10.4" stroke="#f6f0f0" stroke-width="1.02"/>
<path d="M337.3 103.15h9.6M337.3 114.15h9.6M359.8 66.21h9.6M359.8 93.21h9.6M359.8 95.21h9.6M359.8 107.21h9.6M382.3 78.84h9.6M382.3 90.84h9.6M382.3 94.84h9.6M393.55 38.9h9.6M404.8 45.9h9.6M416.05 117.78h9.6M416.05 121.78h9.6M416.05 138.78h9.6M427.3 60.9h9.6" stroke="#f6dede" stroke-width="1.02"/>
<path d="M348.55 86.15h9.6M348.55 90.15h9.6M348.55 110.15h9.6M348.55 118.15h9.6M348.55 130.15h9.6M348.55 137.15h9.6" stroke="#f6a2a2" stroke-width="1.02"/>
<path d="M348.55 87.15h9.6M348.55 91.15h9.6M348.55 97.15h9.6M348.55 98.15h9.6M348.55 101.15h9.6M348.55 116.15h9.6M348.55 138.15h9.6" stroke="#f6a8a8" stroke-width="1.02"/>
<path d="M348.55 95.15h9.6M348.55 96.15h9.6M348.55 115.15h9.6M348.55 133.15h9.6M348.55 139.15h9.6" stroke="#fc8484" stroke-width="1.02"/>
<path d="M359.8 26.9h9.6M359.8 28.9h9.6M359.8 29.9h9.6M359.8 30.9h9.6M359.8 32.9h9.6M359.8 36.9h9.6M359.8 39.9h9.6M371.05 45.21h9.6M371.05 46.21h9.6M371.05 50.21h9.6M382.3 60.52h9.6M382.3 61.52h9.6M382.3 63.52h9.6M382.3 67.53h9.6M382.3 68.53h9.6M393.55 74.84h9.6M393.55 80.84h9.6M404.8 84.15h9.6M404.8 91.15h9.6M404.8 92.15h9.6M404.8 95.15h9.6M404.8 96.15h9.6M404.8 97.15h9.6M416.05 98.46h9.6M416.05 99.46h9.6M416.05 106.46h9.6M416.05 107.46h9.6M416.05 108.46h9.6M427.3 123.78h9.6M438.55 133.09h10.4M438.55 135.09h10.4M438.55 136.09h10.4M438.55 138.09h10.4" stroke="#fc6666" stroke-width="1.02"/>
<path d="M359.8 27.9h9.6M359.8 35.9h9.6M359.8 37.9h9.6M359.8 38.9h9.6M359.8 40.56h9.6M371.05 41.21h9.6M371.05 42.21h9.6M371.05 49.21h9.6M371.05 51.21h9.6M371.05 52.21h9.6M371.05 53.21h9.6M382.3 56.52h9.6M382.3 58.52h9.6M382.3 65.53h9.6M382.3 66.53h9.6M393.55 69.84h9.6M393.55 73.84h9.6M393.55 75.84h9.6M393.55 78.84h9.6M393.55 83.49h9.6M404.8 85.15h9.6M404.8 93.15h9.6M404.8 94.15h9.6M404.8 97.81h9.6M416.05 100.46h9.6M416.05 103.46h9.6M416.05 104.46h9.6M416.05 105.46h9.6M427.3 112.78h9.6M427.3 117.78h9.6M427.3 118.78h9.6M427.3 119.78h9.6M427.3 120.78h9.6M427.3 121.78h9.6M427.3 124.78h9.6M427.3 126.43h9.6M438.55 127.09h10.4M438.55 128.09h10.4M438.55 130.09h10.4M438.55 131.09h10.4M438.55 132.09h10.4M438.55 137.09h10.4M438.55 140.74h10.4" stroke="#fc5a5a" stroke-width="1.02"/>
<text x="331.05" y="152.8" font-size="9.3" text-anchor="middle">1</text>
<text x="342.4" y="152.8" font-size="9.3" text-anchor="middle">2</text>
<text x="353.65" y="152.8" font-size="9.3" text-anchor="middle">3</text>
<text x="364.9" y="152.8" font-size="9.3" text-anchor="middle">4</text>
<text x="376.15" y="152.8" font-size="9.3" text-anchor="middle">5</text>
<text x="387.4" y="152.8" font-size="9.3" text-anchor="middle">6</text>
<text x="398.65" y="152.8" font-size="9.3" text-anchor="middle">7</text>
<text x="409.9" y="152.8" font-size="9.3" text-anchor="middle">8</text>
<text x="421.15" y="152.8" font-size="9.3" text-anchor="middle">9</text>
<text x="432.4" y="152.8" font-size="9.3" text-anchor="middle">10</text>
<text x="444.05" y="152.8" font-size="9.3" text-anchor="middle">11</text>
<defs><linearGradient id="gm" x1="0" x2="1" y1="0" y2="0"><stop offset="0" stop-color="#f5f5f5"/><stop offset="1" stop-color="#ff0000"/></linearGradient><linearGradient id="gp" x1="0" x2="1" y1="0" y2="0"><stop offset="0" stop-color="#0000ff"/><stop offset="0.5" stop-color="#f2f0ee"/><stop offset="1" stop-color="#ff0000"/></linearGradient><linearGradient id="gc" x1="0" x2="0" y1="1" y2="0"><stop offset="0" stop-color="#c9c9c9"/><stop offset="0.15" stop-color="#b4acd8"/><stop offset="0.32" stop-color="#8a80ee"/><stop offset="0.495" stop-color="#1a1aff"/><stop offset="0.51" stop-color="#4a00f4"/><stop offset="0.68" stop-color="#9800b8"/><stop offset="0.84" stop-color="#e2005a"/><stop offset="1" stop-color="#ff0030"/></linearGradient></defs>
<rect x="367" y="163" width="83" height="8.6" fill="url(#gm)"/>
<text x="366.4" y="183.6" font-size="9" text-anchor="middle">0</text>
<text x="449.6" y="183.6" font-size="9" text-anchor="middle">1</text>
<text x="408" y="195.6" font-size="10" text-anchor="middle" textLength="54" lengthAdjust="spacingAndGlyphs">Membership</text>
<text x="523.8" y="7.8" font-size="10" text-anchor="middle" textLength="17.4" lengthAdjust="spacingAndGlyphs">PCA</text>
<text x="523.8" y="19.2" font-size="10" text-anchor="middle" textLength="85" lengthAdjust="spacingAndGlyphs">(shifted log counts)</text>
<rect x="464.1" y="27" width="14.9" height="114.8" fill="#d4d2f4"/>
<rect x="480.7" y="27" width="13.3" height="14.35" fill="#6a69f9"/>
<rect x="480.7" y="41.35" width="13.3" height="14.35" fill="#6867f9"/>
<rect x="480.7" y="55.7" width="13.3" height="14.35" fill="#6867f9"/>
<rect x="480.7" y="70.05" width="13.3" height="14.35" fill="#5251fb"/>
<rect x="480.7" y="84.4" width="13.3" height="14.35" fill="#f9696a"/>
<rect x="480.7" y="98.75" width="13.3" height="14.35" fill="#f9696a"/>
<rect x="480.7" y="113.1" width="13.3" height="14.35" fill="#f96466"/>
<rect x="480.7" y="127.45" width="13.3" height="14.35" fill="#f96c6d"/>
<rect x="495.8" y="27" width="12.5" height="14.35" fill="#3c3cfc"/>
<rect x="495.8" y="41.35" width="12.5" height="14.35" fill="#f69496"/>
<rect x="495.8" y="55.7" width="12.5" height="14.35" fill="#fc3c3c"/>
<rect x="495.8" y="70.05" width="12.5" height="14.35" fill="#9594f7"/>
<rect x="495.8" y="84.4" width="12.5" height="14.35" fill="#f3c6c9"/>
<rect x="495.8" y="98.75" width="12.5" height="14.35" fill="#c8c6f4"/>
<rect x="495.8" y="113.1" width="12.5" height="14.35" fill="#c8c6f4"/>
<rect x="495.8" y="127.45" width="12.5" height="14.35" fill="#f3d0d3"/>
<rect x="510.3" y="27" width="13.5" height="14.35" fill="#c1bff5"/>
<rect x="510.3" y="41.35" width="13.5" height="14.35" fill="#fc3535"/>
<rect x="510.3" y="55.7" width="13.5" height="14.35" fill="#5454fa"/>
<rect x="510.3" y="70.05" width="13.5" height="14.35" fill="#e7e5f3"/>
<rect x="510.3" y="84.4" width="13.5" height="14.35" fill="#eae8f2"/>
<rect x="510.3" y="98.75" width="13.5" height="14.35" fill="#e5e3f3"/>
<rect x="510.3" y="113.1" width="13.5" height="14.35" fill="#e7e5f3"/>
<rect x="510.3" y="127.45" width="13.5" height="14.35" fill="#e7e5f3"/>
<rect x="525.8" y="27" width="13.2" height="14.35" fill="#7d7cf8"/>
<rect x="525.8" y="41.35" width="13.2" height="14.35" fill="#c1bff5"/>
<rect x="525.8" y="55.7" width="13.2" height="14.35" fill="#c8c6f4"/>
<rect x="525.8" y="70.05" width="13.2" height="14.35" fill="#fc393a"/>
<rect x="525.8" y="84.4" width="13.2" height="14.35" fill="#f69b9d"/>
<rect x="525.8" y="98.75" width="13.2" height="14.35" fill="#8583f8"/>
<rect x="525.8" y="113.1" width="13.2" height="14.35" fill="#cfcef4"/>
<rect x="525.8" y="127.45" width="13.2" height="14.35" fill="#f4babd"/>
<rect x="541" y="27" width="13.1" height="14.35" fill="#f78b8c"/>
<rect x="541" y="41.35" width="13.1" height="14.35" fill="#f1eaed"/>
<rect x="541" y="55.7" width="13.1" height="14.35" fill="#e0def3"/>
<rect x="541" y="70.05" width="13.1" height="14.35" fill="#a9a7f6"/>
<rect x="541" y="84.4" width="13.1" height="14.35" fill="#fc3c3c"/>
<rect x="541" y="98.75" width="13.1" height="14.35" fill="#4343fb"/>
<rect x="541" y="113.1" width="13.1" height="14.35" fill="#d9d7f3"/>
<rect x="541" y="127.45" width="13.1" height="14.35" fill="#f3ced0"/>
<rect x="556.1" y="27" width="12.8" height="14.35" fill="#dbd9f3"/>
<rect x="556.1" y="41.35" width="12.8" height="14.35" fill="#dbd9f3"/>
<rect x="556.1" y="55.7" width="12.8" height="14.35" fill="#dbd9f3"/>
<rect x="556.1" y="70.05" width="12.8" height="14.35" fill="#dedcf3"/>
<rect x="556.1" y="84.4" width="12.8" height="14.35" fill="#bcbaf5"/>
<rect x="556.1" y="98.75" width="12.8" height="14.35" fill="#7d7cf8"/>
<rect x="556.1" y="113.1" width="12.8" height="14.35" fill="#fc3c3c"/>
<rect x="556.1" y="127.45" width="12.8" height="14.35" fill="#e3e1f3"/>
<rect x="570.9" y="27" width="14" height="14.35" fill="#f3c9cb"/>
<rect x="570.9" y="41.35" width="14" height="14.35" fill="#d9d7f3"/>
<rect x="570.9" y="55.7" width="14" height="14.35" fill="#dedcf3"/>
<rect x="570.9" y="70.05" width="14" height="14.35" fill="#d9d7f3"/>
<rect x="570.9" y="84.4" width="14" height="14.35" fill="#807ff8"/>
<rect x="570.9" y="98.75" width="14" height="14.35" fill="#c6c4f4"/>
<rect x="570.9" y="113.1" width="14" height="14.35" fill="#c8c6f4"/>
<rect x="570.9" y="127.45" width="14" height="14.35" fill="#fc3c3c"/>
<path d="M464.1 27.5h14.9" stroke="#d8c0de" stroke-width="1.02"/>
<path d="M464.1 28.5h14.9M464.1 52.5h14.9M464.1 54.5h14.9M464.1 82.5h14.9M464.1 83.5h14.9M464.1 86.5h14.9M464.1 90.5h14.9M464.1 98.5h14.9M464.1 129.5h14.9M510.3 84.23h13.5M510.3 104.25h13.5M510.3 105.25h13.5M510.3 111.25h13.5M510.3 123.6h13.5M510.3 124.6h13.5M541 117.6h13.1M556.1 28.5h12.8M556.1 45.85h12.8M556.1 50.85h12.8M556.1 54.85h12.8M556.1 60.2h12.8M556.1 75.55h12.8M556.1 131.95h12.8M570.9 42.85h14M570.9 57.2h14M570.9 58.2h14M570.9 60.2h14M570.9 66.2h14M570.9 71.55h14M570.9 72.55h14" stroke="#dedef0" stroke-width="1.02"/>
<path d="M464.1 29.5h14.9M464.1 42.5h14.9M464.1 45.5h14.9M464.1 61.5h14.9M464.1 114.5h14.9M495.8 99.25h12.5M495.8 101.25h12.5M495.8 102.25h12.5M495.8 105.25h12.5M495.8 107.25h12.5M495.8 112.93h12.5M495.8 118.6h12.5M525.8 61.2h13.2M525.8 69.88h13.2M525.8 124.6h13.2M556.1 85.9h12.8M556.1 91.9h12.8M570.9 112.25h14M570.9 126.6h14" stroke="#c0c0f6" stroke-width="1.02"/>
<path d="M464.1 30.5h14.9M464.1 37.5h14.9M464.1 39.5h14.9M464.1 63.5h14.9M464.1 101.5h14.9M464.1 125.5h14.9M464.1 133.5h14.9M464.1 137.5h14.9M495.8 116.6h12.5M495.8 119.6h12.5M541 119.6h13.1M556.1 29.5h12.8M556.1 32.5h12.8M556.1 58.2h12.8M556.1 69.88h12.8M570.9 70.55h14M570.9 114.6h14M570.9 124.6h14M570.9 125.6h14" stroke="#d2ccf6" stroke-width="1.02"/>
<path d="M464.1 31.5h14.9M464.1 33.5h14.9M464.1 34.5h14.9M464.1 41.5h14.9M464.1 55.5h14.9M464.1 58.5h14.9M464.1 94.5h14.9M464.1 96.5h14.9M464.1 97.5h14.9M464.1 107.5h14.9M464.1 135.5h14.9M464.1 138.5h14.9M510.3 28.5h13.5M510.3 40.5h13.5M525.8 48.85h13.2M525.8 49.85h13.2M525.8 53.85h13.2M525.8 55.53h13.2M525.8 122.6h13.2M525.8 125.6h13.2M556.1 87.9h12.8M556.1 94.9h12.8" stroke="#c6c6f6" stroke-width="1.02"/>
<path d="M464.1 32.5h14.9M464.1 38.5h14.9M464.1 44.5h14.9M464.1 50.5h14.9M464.1 69.5h14.9M464.1 71.5h14.9M464.1 73.5h14.9M464.1 102.5h14.9M464.1 105.5h14.9M464.1 111.5h14.9M464.1 134.5h14.9M510.3 79.55h13.5M510.3 112.25h13.5M510.3 116.6h13.5M525.8 115.6h13.2M525.8 123.6h13.2M541 61.2h13.1M541 63.2h13.1M541 69.2h13.1M556.1 47.85h12.8M556.1 48.85h12.8M556.1 57.2h12.8M556.1 61.2h12.8M556.1 67.2h12.8M556.1 69.2h12.8M556.1 70.55h12.8M556.1 71.55h12.8M556.1 77.55h12.8M556.1 78.55h12.8M556.1 82.55h12.8M556.1 129.95h12.8M556.1 138.95h12.8" stroke="#d8d8f6" stroke-width="1.02"/>
<path d="M464.1 36.5h14.9M464.1 64.5h14.9M464.1 108.5h14.9M510.3 90.9h13.5M510.3 113.6h13.5M525.8 118.6h13.2M541 116.6h13.1M556.1 141.62h12.8M570.9 47.85h14M570.9 64.2h14M570.9 75.55h14" stroke="#ded8f6" stroke-width="1.02"/>
<path d="M464.1 40.5h14.9M464.1 88.5h14.9M464.1 99.5h14.9M464.1 122.5h14.9M464.1 136.5h14.9M510.3 98.58h13.5M510.3 103.25h13.5M510.3 110.25h13.5M510.3 117.6h13.5M510.3 128.95h13.5M510.3 135.95h13.5M510.3 136.95h13.5M541 60.2h13.1M541 113.6h13.1M541 120.6h13.1M556.1 31.5h12.8M556.1 37.5h12.8M556.1 40.5h12.8M556.1 44.85h12.8M556.1 51.85h12.8M556.1 59.2h12.8M556.1 63.2h12.8M556.1 79.55h12.8M570.9 62.2h14M570.9 63.2h14M570.9 65.2h14" stroke="#e4def0" stroke-width="1.02"/>
<path d="M464.1 43.5h14.9M464.1 74.5h14.9M464.1 109.5h14.9M464.1 115.5h14.9M464.1 128.5h14.9" stroke="#d8aecc" stroke-width="1.02"/>
<path d="M464.1 46.5h14.9M464.1 53.5h14.9M464.1 84.5h14.9M464.1 130.5h14.9M510.3 29.5h13.5M525.8 60.2h13.2M525.8 117.6h13.2M556.1 84.9h12.8M556.1 97.9h12.8M570.9 117.6h14" stroke="#c6c0f6" stroke-width="1.02"/>
<path d="M464.1 47.5h14.9" stroke="#dea2c0" stroke-width="1.02"/>
<path d="M464.1 49.5h14.9M464.1 57.5h14.9M464.1 141.4h14.9" stroke="#d8bad8" stroke-width="1.02"/>
<path d="M464.1 51.5h14.9M464.1 72.5h14.9M464.1 92.5h14.9M510.3 71.55h13.5M510.3 92.9h13.5M510.3 95.9h13.5M510.3 96.9h13.5M510.3 114.6h13.5M510.3 115.6h13.5M510.3 121.6h13.5M510.3 126.6h13.5M510.3 127.95h13.5M510.3 131.95h13.5M541 56.2h13.1M541 64.2h13.1M541 66.2h13.1M541 115.6h13.1M541 123.6h13.1M556.1 33.5h12.8M556.1 35.5h12.8M556.1 36.5h12.8M556.1 38.5h12.8M556.1 41.17h12.8M556.1 42.85h12.8M556.1 49.85h12.8M556.1 64.2h12.8M556.1 66.2h12.8M556.1 68.2h12.8M556.1 83.55h12.8M556.1 128.95h12.8M556.1 136.95h12.8M556.1 140.95h12.8M570.9 41.85h14M570.9 43.85h14M570.9 50.85h14M570.9 52.85h14M570.9 59.2h14M570.9 61.2h14M570.9 74.55h14M570.9 81.55h14M570.9 82.55h14" stroke="#e4e4f0" stroke-width="1.02"/>
<path d="M464.1 56.5h14.9M464.1 59.5h14.9M464.1 67.5h14.9M464.1 75.5h14.9M464.1 87.5h14.9M464.1 93.5h14.9M464.1 124.5h14.9M464.1 127.5h14.9M464.1 140.5h14.9" stroke="#d8a8c6" stroke-width="1.02"/>
<path d="M464.1 60.5h14.9M464.1 85.5h14.9M464.1 89.5h14.9M464.1 113.5h14.9M464.1 117.5h14.9M464.1 126.5h14.9M495.8 100.25h12.5M495.8 103.25h12.5M495.8 108.25h12.5M495.8 112.25h12.5M495.8 127.28h12.5M510.3 33.5h13.5M510.3 35.5h13.5M510.3 39.5h13.5M525.8 51.85h13.2M525.8 114.6h13.2M556.1 95.9h12.8M570.9 106.25h14M570.9 111.25h14" stroke="#ccc6f6" stroke-width="1.02"/>
<path d="M464.1 62.5h14.9M464.1 66.5h14.9M464.1 100.5h14.9M464.1 103.5h14.9M464.1 121.5h14.9M464.1 123.5h14.9M495.8 111.25h12.5M495.8 117.6h12.5M495.8 125.6h12.5M510.3 32.5h13.5M525.8 50.85h13.2M525.8 64.2h13.2M525.8 113.6h13.2M525.8 116.6h13.2M525.8 121.6h13.2M541 125.6h13.1M541 126.6h13.1M556.1 34.5h12.8M556.1 43.85h12.8M556.1 46.85h12.8M556.1 62.2h12.8M570.9 44.85h14M570.9 45.85h14M570.9 53.85h14M570.9 54.85h14M570.9 76.55h14M570.9 79.55h14M570.9 83.55h14M570.9 100.25h14M570.9 101.25h14M570.9 105.25h14M570.9 109.25h14M570.9 121.6h14M570.9 123.6h14" stroke="#ccccf6" stroke-width="1.02"/>
<path d="M464.1 65.5h14.9M464.1 95.5h14.9M464.1 118.5h14.9M464.1 132.5h14.9M464.1 139.5h14.9" stroke="#d8b4d2" stroke-width="1.02"/>
<path d="M464.1 68.5h14.9M510.3 70.55h13.5M510.3 119.6h13.5M510.3 129.95h13.5M510.3 130.95h13.5M541 62.2h13.1M556.1 53.85h12.8M556.1 55.53h12.8M570.9 55.53h14M570.9 73.55h14M570.9 78.55h14" stroke="#dedef6" stroke-width="1.02"/>
<path d="M464.1 70.5h14.9" stroke="#d8aed2" stroke-width="1.02"/>
<path d="M464.1 91.5h14.9M495.8 106.25h12.5M495.8 109.25h12.5M495.8 123.6h12.5M541 68.2h13.1M541 122.6h13.1M541 127.28h13.1M556.1 41.85h12.8M556.1 56.2h12.8M556.1 65.2h12.8M556.1 76.55h12.8M570.9 51.85h14M570.9 67.2h14" stroke="#d8d2f6" stroke-width="1.02"/>
<path d="M464.1 106.5h14.9" stroke="#d8b4d8" stroke-width="1.02"/>
<path d="M464.1 110.5h14.9M464.1 120.5h14.9" stroke="#d8bade" stroke-width="1.02"/>
<path d="M464.1 131.5h14.9" stroke="#d8a8c0" stroke-width="1.02"/>
<path d="M480.7 27.5h13.3M480.7 34.5h13.3M480.7 40.5h13.3M480.7 42.85h13.3M480.7 43.85h13.3M480.7 52.85h13.3M480.7 53.85h13.3M480.7 55.53h13.3M480.7 61.2h13.3M480.7 65.2h13.3M480.7 66.2h13.3M480.7 69.88h13.3M480.7 73.55h13.3M480.7 77.55h13.3M510.3 58.2h13.5" stroke="#6060fc" stroke-width="1.02"/>
<path d="M480.7 29.5h13.3M525.8 27.5h13.2M556.1 102.25h12.8M556.1 109.25h12.8M570.9 84.9h14M570.9 85.9h14M570.9 88.9h14M570.9 89.9h14M570.9 94.9h14" stroke="#7878f6" stroke-width="1.02"/>
<path d="M480.7 30.5h13.3M480.7 31.5h13.3M480.7 32.5h13.3M480.7 33.5h13.3M480.7 41.17h13.3" stroke="#6666fc" stroke-width="1.02"/>
<path d="M480.7 35.5h13.3M480.7 39.5h13.3M480.7 41.85h13.3M480.7 44.85h13.3M480.7 47.85h13.3M480.7 63.2h13.3M525.8 30.5h13.2M525.8 40.5h13.2M556.1 108.25h12.8M556.1 111.25h12.8M570.9 90.9h14M570.9 91.9h14" stroke="#7272f6" stroke-width="1.02"/>
<path d="M480.7 37.5h13.3M480.7 50.85h13.3M480.7 58.2h13.3M480.7 75.55h13.3M480.7 80.55h13.3M480.7 82.55h13.3M510.3 57.2h13.5M510.3 62.2h13.5M510.3 65.2h13.5M510.3 69.2h13.5M510.3 69.88h13.5" stroke="#5a5afc" stroke-width="1.02"/>
<path d="M480.7 45.85h13.3" stroke="#6c66fc" stroke-width="1.02"/>
<path d="M480.7 46.85h13.3M480.7 51.85h13.3M480.7 60.2h13.3M480.7 64.2h13.3" stroke="#6c6cfc" stroke-width="1.02"/>
<path d="M480.7 48.85h13.3M510.3 60.2h13.5" stroke="#605afc" stroke-width="1.02"/>
<path d="M480.7 54.85h13.3M525.8 31.5h13.2" stroke="#7872f6" stroke-width="1.02"/>
<path d="M480.7 70.55h13.3M480.7 71.55h13.3M480.7 76.55h13.3M510.3 67.2h13.5M541 102.25h13.1M541 103.25h13.1" stroke="#4848fc" stroke-width="1.02"/>
<path d="M480.7 78.55h13.3M480.7 79.55h13.3M510.3 64.2h13.5M510.3 66.2h13.5M541 109.25h13.1M541 110.25h13.1" stroke="#4e4efc" stroke-width="1.02"/>
<path d="M480.7 83.55h13.3M495.8 30.5h12.5M495.8 31.5h12.5M495.8 39.5h12.5M495.8 41.17h12.5" stroke="#4242fc" stroke-width="1.02"/>
<path d="M480.7 84.23h13.3M541 112.93h13.1" stroke="#4842fc" stroke-width="1.02"/>
<path d="M480.7 84.9h13.3M480.7 113.6h13.3" stroke="#fc5a60" stroke-width="1.02"/>
<path d="M480.7 85.9h13.3M480.7 98.58h13.3M480.7 101.25h13.3M480.7 102.25h13.3M480.7 111.25h13.3M480.7 114.6h13.3M480.7 122.6h13.3M480.7 130.95h13.3M480.7 138.95h13.3M480.7 141.62h13.3" stroke="#fc6060" stroke-width="1.02"/>
<path d="M480.7 86.9h13.3M480.7 104.25h13.3M480.7 127.95h13.3" stroke="#f67878" stroke-width="1.02"/>
<path d="M480.7 87.9h13.3M480.7 89.9h13.3M480.7 90.9h13.3M480.7 95.9h13.3M480.7 96.9h13.3M480.7 97.9h13.3M480.7 107.25h13.3M480.7 108.25h13.3M480.7 112.93h13.3M480.7 118.6h13.3M480.7 119.6h13.3M480.7 134.95h13.3M480.7 135.95h13.3M480.7 140.95h13.3" stroke="#f67272" stroke-width="1.02"/>
<path d="M480.7 91.9h13.3M480.7 121.6h13.3M480.7 125.6h13.3M480.7 126.6h13.3" stroke="#fc5a5a" stroke-width="1.02"/>
<path d="M480.7 92.9h13.3M480.7 129.95h13.3M480.7 131.95h13.3M480.7 132.95h13.3M480.7 133.95h13.3" stroke="#fc6666" stroke-width="1.02"/>
<path d="M480.7 94.9h13.3M480.7 105.25h13.3M480.7 106.25h13.3M480.7 109.25h13.3M480.7 110.25h13.3" stroke="#fc6066" stroke-width="1.02"/>
<path d="M480.7 99.25h13.3M480.7 100.25h13.3M480.7 137.95h13.3" stroke="#f67278" stroke-width="1.02"/>
<path d="M480.7 112.25h13.3" stroke="#f6666c" stroke-width="1.02"/>
<path d="M480.7 117.6h13.3M480.7 120.6h13.3" stroke="#f66c6c" stroke-width="1.02"/>
<path d="M480.7 124.6h13.3M480.7 139.95h13.3" stroke="#f66666" stroke-width="1.02"/>
<path d="M480.7 127.28h13.3" stroke="#f66c72" stroke-width="1.02"/>
<path d="M495.8 27.5h12.5M495.8 29.5h12.5M495.8 32.5h12.5M495.8 35.5h12.5M495.8 38.5h12.5M495.8 40.5h12.5M541 104.25h13.1" stroke="#3636fc" stroke-width="1.02"/>
<path d="M495.8 28.5h12.5M495.8 33.5h12.5M495.8 37.5h12.5" stroke="#3030fc" stroke-width="1.02"/>
<path d="M495.8 34.5h12.5" stroke="#3630fc" stroke-width="1.02"/>
<path d="M495.8 36.5h12.5" stroke="#3c36fc" stroke-width="1.02"/>
<path d="M495.8 42.85h12.5M495.8 44.85h12.5M525.8 87.9h13.2M525.8 89.9h13.2M525.8 98.58h13.2" stroke="#f6a2a2" stroke-width="1.02"/>
<path d="M495.8 45.85h12.5M495.8 52.85h12.5M495.8 55.53h12.5" stroke="#f68a90" stroke-width="1.02"/>
<path d="M495.8 46.85h12.5M495.8 47.85h12.5" stroke="#f68a8a" stroke-width="1.02"/>
<path d="M495.8 48.85h12.5M495.8 49.85h12.5M495.8 50.85h12.5M495.8 53.85h12.5" stroke="#f69c9c" stroke-width="1.02"/>
<path d="M495.8 51.85h12.5M525.8 90.9h13.2M525.8 96.9h13.2" stroke="#f69096" stroke-width="1.02"/>
<path d="M495.8 56.2h12.5M525.8 75.55h13.2M525.8 77.55h13.2M525.8 81.55h13.2M541 98.58h13.1M556.1 116.6h12.8M556.1 118.6h12.8M556.1 120.6h12.8M556.1 123.6h12.8M556.1 126.6h12.8M570.9 134.95h14" stroke="#fc3636" stroke-width="1.02"/>
<path d="M495.8 57.2h12.5M510.3 42.85h13.5M510.3 43.85h13.5M510.3 51.85h13.5M525.8 71.55h13.2M525.8 79.55h13.2M541 86.9h13.1M541 90.9h13.1M541 95.9h13.1M556.1 115.6h12.8M556.1 117.6h12.8M556.1 121.6h12.8M556.1 124.6h12.8M556.1 125.6h12.8M570.9 140.95h14" stroke="#fc3030" stroke-width="1.02"/>
<path d="M495.8 59.2h12.5M495.8 65.2h12.5M495.8 67.2h12.5M495.8 69.2h12.5M495.8 69.88h12.5M510.3 44.85h13.5M510.3 45.85h13.5M510.3 47.85h13.5M510.3 50.85h13.5M510.3 52.85h13.5M510.3 54.85h13.5M525.8 70.55h13.2M525.8 74.55h13.2M525.8 78.55h13.2M541 87.9h13.1M541 88.9h13.1M541 96.9h13.1M570.9 129.95h14M570.9 131.95h14M570.9 135.95h14M570.9 136.95h14" stroke="#fc4242" stroke-width="1.02"/>
<path d="M495.8 61.2h12.5M495.8 62.2h12.5M495.8 64.2h12.5M495.8 66.2h12.5M525.8 80.55h13.2M525.8 83.55h13.2M541 91.9h13.1M541 92.9h13.1M541 94.9h13.1M556.1 122.6h12.8M570.9 127.95h14M570.9 133.95h14M570.9 137.95h14M570.9 138.95h14M570.9 139.95h14" stroke="#fc4848" stroke-width="1.02"/>
<path d="M495.8 63.2h12.5" stroke="#fc4248" stroke-width="1.02"/>
<path d="M495.8 70.55h12.5M495.8 76.55h12.5M495.8 77.55h12.5M525.8 36.5h13.2M525.8 100.25h13.2M525.8 104.25h13.2M525.8 106.25h13.2M525.8 112.93h13.2M556.1 100.25h12.8M556.1 106.25h12.8M556.1 110.25h12.8M556.1 112.25h12.8M556.1 112.93h12.8M570.9 97.9h14" stroke="#8a8af6" stroke-width="1.02"/>
<path d="M495.8 71.55h12.5" stroke="#a29cf6" stroke-width="1.02"/>
<path d="M495.8 72.55h12.5M495.8 73.55h12.5M495.8 75.55h12.5M495.8 83.55h12.5M541 71.55h13.1M541 73.55h13.1" stroke="#9c9cf6" stroke-width="1.02"/>
<path d="M495.8 74.55h12.5" stroke="#9690f6" stroke-width="1.02"/>
<path d="M495.8 78.55h12.5M495.8 82.55h12.5M495.8 84.23h12.5M525.8 101.25h13.2M525.8 103.25h13.2M525.8 108.25h13.2M525.8 111.25h13.2" stroke="#9090f6" stroke-width="1.02"/>
<path d="M495.8 79.55h12.5M495.8 80.55h12.5M525.8 29.5h13.2M525.8 102.25h13.2M525.8 110.25h13.2M556.1 101.25h12.8M570.9 93.9h14" stroke="#8a84f6" stroke-width="1.02"/>
<path d="M495.8 84.9h12.5M495.8 93.9h12.5M525.8 128.95h13.2M525.8 136.95h13.2M570.9 32.5h14M570.9 33.5h14" stroke="#f6bac0" stroke-width="1.02"/>
<path d="M495.8 85.9h12.5M495.8 91.9h12.5M495.8 136.95h12.5M541 135.95h13.1" stroke="#f0d2d8" stroke-width="1.02"/>
<path d="M495.8 86.9h12.5M495.8 87.9h12.5M525.8 130.95h13.2M525.8 132.95h13.2M525.8 140.95h13.2M541 127.95h13.1M541 139.95h13.1M570.9 27.5h14" stroke="#f6c0c0" stroke-width="1.02"/>
<path d="M495.8 88.9h12.5M495.8 94.9h12.5M495.8 128.95h12.5M541 134.95h13.1M541 136.95h13.1M541 137.95h13.1M541 141.62h13.1M570.9 30.5h14M570.9 31.5h14M570.9 38.5h14M570.9 40.5h14M570.9 41.17h14" stroke="#f6cccc" stroke-width="1.02"/>
<path d="M495.8 89.9h12.5M495.8 92.9h12.5M541 130.95h13.1M541 140.95h13.1M570.9 34.5h14" stroke="#f6c0c6" stroke-width="1.02"/>
<path d="M495.8 90.9h12.5M495.8 96.9h12.5M495.8 98.58h12.5M541 128.95h13.1M541 132.95h13.1M541 138.95h13.1M570.9 28.5h14" stroke="#f0d2d2" stroke-width="1.02"/>
<path d="M495.8 95.9h12.5M495.8 97.9h12.5" stroke="#f0ccd2" stroke-width="1.02"/>
<path d="M495.8 104.25h12.5M495.8 113.6h12.5M495.8 114.6h12.5M495.8 115.6h12.5M495.8 120.6h12.5M495.8 126.6h12.5M510.3 31.5h13.5M525.8 41.85h13.2M525.8 44.85h13.2M525.8 45.85h13.2M525.8 46.85h13.2M525.8 47.85h13.2M525.8 56.2h13.2M525.8 68.2h13.2M570.9 102.25h14M570.9 104.25h14M570.9 107.25h14M570.9 110.25h14M570.9 116.6h14" stroke="#babaf6" stroke-width="1.02"/>
<path d="M495.8 110.25h12.5M495.8 122.6h12.5M525.8 57.2h13.2M525.8 58.2h13.2M525.8 66.2h13.2M525.8 69.2h13.2M525.8 119.6h13.2M525.8 127.28h13.2M541 58.2h13.1M541 59.2h13.1M541 114.6h13.1M541 118.6h13.1M541 121.6h13.1M541 124.6h13.1M556.1 27.5h12.8M556.1 30.5h12.8M556.1 39.5h12.8M556.1 81.55h12.8M556.1 135.95h12.8M570.9 48.85h14M570.9 56.2h14M570.9 68.2h14M570.9 80.55h14M570.9 84.23h14M570.9 108.25h14M570.9 115.6h14M570.9 120.6h14M570.9 127.28h14" stroke="#d2d2f6" stroke-width="1.02"/>
<path d="M495.8 121.6h12.5M525.8 42.85h13.2M525.8 59.2h13.2M525.8 63.2h13.2M570.9 99.25h14M570.9 112.93h14M570.9 113.6h14M570.9 118.6h14M570.9 119.6h14" stroke="#c0baf6" stroke-width="1.02"/>
<path d="M495.8 127.95h12.5M495.8 140.95h12.5M541 131.95h13.1" stroke="#f0d8de" stroke-width="1.02"/>
<path d="M495.8 129.95h12.5M495.8 130.95h12.5M495.8 138.95h12.5M495.8 141.62h12.5M570.9 29.5h14M570.9 35.5h14M570.9 39.5h14" stroke="#f0d8d8" stroke-width="1.02"/>
<path d="M495.8 131.95h12.5M495.8 133.95h12.5M495.8 134.95h12.5M495.8 139.95h12.5M525.8 129.95h13.2M525.8 137.95h13.2M541 129.95h13.1" stroke="#f6c6cc" stroke-width="1.02"/>
<path d="M495.8 135.95h12.5M495.8 137.95h12.5M541 53.85h13.1" stroke="#f0dede" stroke-width="1.02"/>
<path d="M510.3 27.5h13.5M510.3 34.5h13.5M510.3 36.5h13.5M525.8 52.85h13.2M541 74.55h13.1M541 75.55h13.1M541 79.55h13.1M541 81.55h13.1M556.1 98.58h12.8" stroke="#b4b4f6" stroke-width="1.02"/>
<path d="M510.3 30.5h13.5M510.3 38.5h13.5M510.3 41.17h13.5M570.9 103.25h14" stroke="#bab4f6" stroke-width="1.02"/>
<path d="M510.3 41.85h13.5M510.3 46.85h13.5M510.3 53.85h13.5M525.8 73.55h13.2M525.8 76.55h13.2" stroke="#fc2a2a" stroke-width="1.02"/>
<path d="M510.3 49.85h13.5" stroke="#fc3c3c" stroke-width="1.02"/>
<path d="M510.3 55.53h13.5M541 85.9h13.1" stroke="#fc363c" stroke-width="1.02"/>
<path d="M510.3 72.55h13.5M510.3 76.55h13.5M510.3 77.55h13.5M510.3 78.55h13.5M510.3 99.25h13.5M510.3 101.25h13.5M510.3 125.6h13.5M510.3 139.95h13.5M541 50.85h13.1M541 57.2h13.1M541 67.2h13.1M541 69.88h13.1M556.1 72.55h12.8M556.1 73.55h12.8M556.1 80.55h12.8M556.1 133.95h12.8M556.1 137.95h12.8M556.1 139.95h12.8" stroke="#eaeaf0" stroke-width="1.02"/>
<path d="M510.3 73.55h13.5M510.3 75.55h13.5M510.3 82.55h13.5M510.3 86.9h13.5M510.3 89.9h13.5M510.3 91.9h13.5M510.3 93.9h13.5M510.3 100.25h13.5M510.3 118.6h13.5M510.3 134.95h13.5M510.3 141.62h13.5M556.1 127.95h12.8M556.1 134.95h12.8" stroke="#f0eaf0" stroke-width="1.02"/>
<path d="M510.3 80.55h13.5M510.3 81.55h13.5M510.3 83.55h13.5M510.3 94.9h13.5M510.3 102.25h13.5M510.3 107.25h13.5M510.3 108.25h13.5M510.3 120.6h13.5M510.3 127.28h13.5M510.3 132.95h13.5M510.3 133.95h13.5M510.3 137.95h13.5M510.3 138.95h13.5M510.3 140.95h13.5M541 45.85h13.1M541 47.85h13.1M541 54.85h13.1" stroke="#f0f0f0" stroke-width="1.02"/>
<path d="M510.3 88.9h13.5M510.3 97.9h13.5" stroke="#f0eaea" stroke-width="1.02"/>
<path d="M510.3 106.25h13.5M541 65.2h13.1M556.1 74.55h12.8M556.1 132.95h12.8M570.9 69.88h14" stroke="#eae4f0" stroke-width="1.02"/>
<path d="M525.8 28.5h13.2M556.1 107.25h12.8" stroke="#726cfc" stroke-width="1.02"/>
<path d="M525.8 33.5h13.2M525.8 112.25h13.2M570.9 87.9h14M570.9 98.58h14" stroke="#847ef6" stroke-width="1.02"/>
<path d="M525.8 34.5h13.2M525.8 35.5h13.2M525.8 37.5h13.2M525.8 38.5h13.2M525.8 39.5h13.2M525.8 41.17h13.2M556.1 105.25h12.8M570.9 92.9h14" stroke="#8484f6" stroke-width="1.02"/>
<path d="M525.8 84.23h13.2" stroke="#fc2a30" stroke-width="1.02"/>
<path d="M525.8 84.9h13.2" stroke="#f6969c" stroke-width="1.02"/>
<path d="M525.8 86.9h13.2M525.8 88.9h13.2M525.8 94.9h13.2M541 27.5h13.1" stroke="#f69090" stroke-width="1.02"/>
<path d="M525.8 92.9h13.2M525.8 97.9h13.2" stroke="#f6a8a8" stroke-width="1.02"/>
<path d="M525.8 95.9h13.2" stroke="#f6a2a8" stroke-width="1.02"/>
<path d="M525.8 105.25h13.2M525.8 107.25h13.2" stroke="#7e7ef6" stroke-width="1.02"/>
<path d="M525.8 127.95h13.2M525.8 134.95h13.2" stroke="#f6aeb4" stroke-width="1.02"/>
<path d="M525.8 131.95h13.2M525.8 133.95h13.2" stroke="#f6b4b4" stroke-width="1.02"/>
<path d="M525.8 135.95h13.2" stroke="#f6c6c6" stroke-width="1.02"/>
<path d="M525.8 139.95h13.2" stroke="#f6b4ba" stroke-width="1.02"/>
<path d="M541 28.5h13.1M541 36.5h13.1" stroke="#f67e7e" stroke-width="1.02"/>
<path d="M541 29.5h13.1M541 30.5h13.1" stroke="#f67e84" stroke-width="1.02"/>
<path d="M541 31.5h13.1M541 37.5h13.1M541 38.5h13.1M541 41.17h13.1" stroke="#f69696" stroke-width="1.02"/>
<path d="M541 33.5h13.1M541 34.5h13.1M541 35.5h13.1M541 39.5h13.1M541 40.5h13.1" stroke="#f68484" stroke-width="1.02"/>
<path d="M541 42.85h13.1M541 44.85h13.1M541 48.85h13.1" stroke="#f0dee4" stroke-width="1.02"/>
<path d="M541 43.85h13.1M541 49.85h13.1M541 51.85h13.1" stroke="#f0e4e4" stroke-width="1.02"/>
<path d="M541 70.55h13.1M541 72.55h13.1M541 77.55h13.1" stroke="#a2a2f6" stroke-width="1.02"/>
<path d="M541 76.55h13.1M541 80.55h13.1" stroke="#a8a2f6" stroke-width="1.02"/>
<path d="M541 78.55h13.1M541 82.55h13.1M541 83.55h13.1M556.1 90.9h12.8M556.1 93.9h12.8M556.1 96.9h12.8" stroke="#aeaef6" stroke-width="1.02"/>
<path d="M541 84.23h13.1" stroke="#aea8f6" stroke-width="1.02"/>
<path d="M541 101.25h13.1" stroke="#544efc" stroke-width="1.02"/>
<path d="M541 108.25h13.1M541 112.25h13.1" stroke="#3c3cfc" stroke-width="1.02"/>
<path d="M541 133.95h13.1" stroke="#f6ccd2" stroke-width="1.02"/>
<path d="M556.1 86.9h12.8M556.1 89.9h12.8" stroke="#b4aef6" stroke-width="1.02"/>
<path d="M570.9 96.9h14" stroke="#908af6" stroke-width="1.02"/>
<path d="M570.9 132.95h14" stroke="#fc3036" stroke-width="1.02"/>
<text x="471.55" y="152.8" font-size="9.3" text-anchor="middle">1</text>
<text x="487.35" y="152.8" font-size="9.3" text-anchor="middle">2</text>
<text x="502.05" y="152.8" font-size="9.3" text-anchor="middle">3</text>
<text x="517.05" y="152.8" font-size="9.3" text-anchor="middle">4</text>
<text x="532.4" y="152.8" font-size="9.3" text-anchor="middle">5</text>
<text x="547.55" y="152.8" font-size="9.3" text-anchor="middle">6</text>
<text x="562.5" y="152.8" font-size="9.3" text-anchor="middle">7</text>
<text x="577.9" y="152.8" font-size="9.3" text-anchor="middle">8</text>
<rect x="493.7" y="162.8" width="92" height="9.6" fill="url(#gp)"/>
<text x="492.8" y="183.6" font-size="9" text-anchor="middle">−1</text>
<text x="539" y="183.6" font-size="9" text-anchor="middle">0</text>
<text x="585.2" y="183.6" font-size="9" text-anchor="middle">1</text>
<text x="533.2" y="197.5" font-size="10" text-anchor="middle" textLength="38" lengthAdjust="spacingAndGlyphs">PC score</text>
<text x="-0.6" y="222.8" font-size="13" style="stroke:#000;stroke-width:0.7px;fill:#000" font-weight="bold" fill="#000">b</text>
<path d="M34.8 221.3V346H152.2" fill="none" stroke="#767676" stroke-width="0.8"/>
<text x="64.2" y="359.2" font-size="8.6" text-anchor="middle">−20</text>
<text x="28" y="316.5" font-size="8.6" text-anchor="end">−20</text>
<text x="99.2" y="359.2" font-size="8.6" text-anchor="middle">0</text>
<text x="28" y="283.1" font-size="8.6" text-anchor="end">0</text>
<text x="134.2" y="359.2" font-size="8.6" text-anchor="middle">20</text>
<text x="28" y="249.7" font-size="8.6" text-anchor="end">20</text>
<path d="M64.2 346v2.6M34.8 313.5h-2.6M99.2 346v2.6M34.8 280.1h-2.6M134.2 346v2.6M34.8 246.7h-2.6" stroke="#767676" stroke-width="0.8"/>
<text x="93.5" y="372.9" font-size="9.6" text-anchor="middle" textLength="30" lengthAdjust="spacingAndGlyphs"><tspan font-style="italic">t</tspan>-SNE 1</text>
<text x="8.4" y="283.5" font-size="9.6" text-anchor="middle" textLength="31" lengthAdjust="spacingAndGlyphs" transform="rotate(-90 8.4 283.5)">t-SNE 2</text>
<g transform="translate(99.2 280.1) scale(0.9915 1.0844) translate(-97.9 -597.9)">
<ellipse cx="47.5" cy="590.5" rx="8.37" ry="6.32" transform="rotate(-5 47.5 590.5)" fill="#c9c9c9"/><ellipse cx="42" cy="594.5" rx="3.26" ry="3.26" fill="#c9c9c9"/><ellipse cx="39.5" cy="597" rx="1.3" ry="1.3" fill="#c9c9c9"/><path d="M50.2 596.5h0M38.1 596.8h0M46.0 597.5h0M55.1 588.9h0M56.5 590.5h0M53.5 586.7h0M39.0 593.7h0M38.7 589.6h0M40.9 586.7h0M55.2 593.7h0M40.9 586.5h0M55.9 593.0h0M40.0 588.6h0M48.9 584.2h0M52.6 594.9h0M45.4 596.5h0M55.4 592.4h0M46.0 597.4h0M55.8 588.9h0M39.2 591.0h0M43.2 597.4h0M54.7 586.1h0M52.1 585.0h0M44.9 596.5h0M39.0 590.2h0M48.1 596.5h0M55.3 588.2h0M55.0 592.2h0M40.8 597.6h0M45.1 596.7h0M38.9 589.8h0M38.9 591.2h0M41.7 585.4h0M48.0 584.7h0M55.2 593.1h0M48.8 584.4h0M51.7 596.0h0M51.8 595.9h0M39.7 590.5h0M49.6 583.9h0M47.9 584.0h0M53.0 585.2h0M54.2 593.4h0M53.3 585.7h0M56.6 589.9h0M54.8 592.2h0M48.3 596.4h0M52.2 594.9h0M56.6 589.4h0M54.6 594.2h0M45.5 584.4h0M44.5 584.8h0M38.7 593.8h0M53.5 585.1h0M40.2 587.0h0M44.4 596.6h0M55.6 591.4h0M55.3 587.4h0M54.7 593.9h0M54.0 585.6h0M41.8 585.4h0M40.1 589.2h0M54.8 592.8h0M56.7 589.7h0M47.5 596.4h0M54.6 593.1h0M56.3 592.0h0M54.4 592.9h0M51.1 595.5h0M39.3 588.9h0" stroke="#c9c9c9" stroke-width="1.9" stroke-linecap="round"/>
<ellipse cx="85.8" cy="573.5" rx="8" ry="5.39" transform="rotate(10 85.8 573.5)" fill="#c9c9c9"/><ellipse cx="83.5" cy="566.5" rx="3.35" ry="4.28" fill="#c9c9c9"/><path d="M87.2 579.3h0M84.4 579.3h0M86.4 565.0h0M89.3 578.4h0M79.9 575.9h0M87.2 579.2h0M77.8 571.4h0M80.4 566.3h0M79.9 566.5h0M94.0 572.5h0M80.1 566.3h0M80.5 577.1h0M85.8 563.7h0M91.8 571.0h0M91.9 576.8h0M87.3 578.6h0M80.8 577.0h0M78.6 574.7h0M92.8 576.7h0M80.1 565.3h0M86.9 565.1h0M93.5 572.5h0M79.7 569.9h0M81.1 563.3h0M78.7 574.1h0M78.4 572.4h0M79.1 569.9h0M81.1 577.7h0M78.1 570.8h0M78.6 573.2h0M80.2 565.2h0M91.6 570.2h0M92.8 577.0h0M89.8 568.9h0M88.6 568.4h0M92.2 577.8h0M92.7 576.3h0M79.9 568.6h0M88.3 578.9h0M93.4 573.4h0M89.8 569.6h0M89.3 568.9h0M83.7 578.5h0M92.1 570.8h0M93.6 575.1h0M80.5 577.2h0M91.9 570.4h0M80.3 577.0h0M93.3 576.4h0M86.8 579.3h0M83.0 562.0h0M83.4 578.1h0M88.3 579.2h0M93.8 575.5h0M78.3 573.4h0M81.3 578.2h0M80.6 577.3h0M77.8 572.1h0M79.8 569.6h0M78.5 571.3h0M89.1 578.9h0M85.8 579.2h0M86.8 568.5h0M91.1 570.3h0M81.9 577.4h0M79.7 568.8h0M81.7 578.0h0M81.4 578.3h0M86.6 565.3h0M78.0 570.3h0" stroke="#c9c9c9" stroke-width="1.9" stroke-linecap="round"/>
<ellipse cx="112.8" cy="560.5" rx="7.25" ry="7.25" fill="#c9c9c9"/><ellipse cx="116" cy="552.2" rx="2.7" ry="2.33" fill="#c9c9c9"/><path d="M108.3 554.1h0M118.2 553.6h0M114.1 550.4h0M113.3 551.9h0M119.3 563.3h0M117.8 566.0h0M119.3 556.9h0M118.4 555.2h0M118.5 565.4h0M110.4 554.2h0M105.8 563.8h0M105.7 563.0h0M105.4 559.6h0M119.6 558.2h0M106.4 564.3h0M107.3 565.8h0M120.3 560.8h0M118.7 553.0h0M108.7 566.7h0M116.9 566.0h0M118.7 551.7h0M106.6 563.4h0M118.6 552.9h0M109.2 553.9h0M109.5 554.0h0M107.7 555.1h0M113.3 552.0h0M105.9 560.2h0M117.2 554.9h0M105.5 557.3h0M110.8 567.7h0M108.0 565.6h0M120.2 558.0h0M110.4 568.0h0M117.5 554.4h0M107.4 565.1h0M118.0 553.6h0M118.3 555.0h0M106.3 561.8h0M120.5 562.7h0M108.7 565.9h0M119.2 556.3h0M118.6 564.4h0M106.4 555.7h0M107.4 555.9h0M114.8 567.2h0M107.9 554.3h0M119.6 558.3h0M119.9 559.4h0M105.9 556.5h0M106.4 558.2h0M119.0 564.1h0M109.3 553.6h0M119.6 563.5h0M106.7 564.1h0M119.6 561.3h0M105.9 560.5h0M120.4 561.0h0M108.6 554.3h0M117.7 565.4h0M106.6 556.6h0M114.3 567.8h0M105.8 556.8h0M114.1 550.7h0M119.2 563.2h0M120.3 560.2h0M114.4 567.2h0M105.9 557.3h0M110.2 567.8h0M120.4 558.6h0" stroke="#c9c9c9" stroke-width="1.9" stroke-linecap="round"/>
<ellipse cx="137.5" cy="587.5" rx="7.63" ry="6.51" fill="#c9c9c9"/><ellipse cx="137.2" cy="595" rx="2.79" ry="3.91" fill="#c9c9c9"/><path d="M130.2 590.9h0M133.8 582.3h0M136.8 581.2h0M144.2 589.8h0M143.0 592.3h0M134.8 593.2h0M135.0 581.2h0M143.5 592.2h0M141.0 582.1h0M143.0 591.9h0M129.9 586.5h0M143.5 584.4h0M145.0 590.1h0M145.2 586.7h0M143.3 591.1h0M142.6 592.5h0M130.7 591.3h0M134.2 580.9h0M129.8 588.6h0M129.5 586.1h0M133.9 593.0h0M131.6 583.6h0M137.3 598.8h0M141.1 593.6h0M131.9 583.5h0M145.6 587.5h0M131.3 590.5h0M130.5 591.4h0M133.8 593.6h0M144.0 589.8h0M141.1 581.1h0M134.4 596.0h0M132.1 583.5h0M138.2 580.8h0M130.1 585.4h0M130.2 589.7h0M137.3 599.2h0M143.7 583.4h0M132.8 592.5h0M144.7 588.9h0M143.4 591.4h0M136.0 581.6h0M130.6 584.8h0M132.3 592.4h0M133.0 592.3h0M129.8 588.5h0M142.0 592.5h0M142.4 592.2h0M130.7 590.1h0M141.8 582.4h0M143.5 592.1h0M138.5 598.2h0M130.6 583.8h0M144.0 584.8h0M137.1 581.0h0M143.7 584.7h0M139.3 580.6h0M132.2 582.8h0M131.3 584.5h0M143.3 584.1h0M129.9 590.0h0M131.1 591.2h0M135.4 581.3h0M143.3 591.0h0M142.4 582.0h0M140.1 581.2h0M131.1 590.4h0M144.5 590.6h0M140.2 595.7h0M130.9 590.0h0" stroke="#c9c9c9" stroke-width="1.9" stroke-linecap="round"/>
<ellipse cx="99.5" cy="596.5" rx="8.65" ry="6.14" transform="rotate(8 99.5 596.5)" fill="#c9c9c9"/><ellipse cx="106.6" cy="603.3" rx="2.42" ry="2.05" fill="#c9c9c9"/><path d="M90.4 595.3h0M94.9 601.0h0M91.4 592.9h0M91.6 592.9h0M100.3 602.4h0M103.9 591.4h0M96.3 601.9h0M108.4 601.7h0M107.6 600.3h0M93.6 600.0h0M95.8 602.1h0M95.2 591.5h0M90.6 596.4h0M100.6 590.9h0M100.7 602.3h0M108.4 598.6h0M104.7 591.2h0M102.2 602.3h0M101.0 602.3h0M108.0 597.8h0M92.3 591.8h0M107.3 600.7h0M94.3 591.6h0M98.9 602.5h0M107.8 600.2h0M104.3 592.0h0M105.7 593.2h0M108.4 594.7h0M96.5 602.3h0M93.3 591.0h0M92.9 599.5h0M102.6 590.4h0M106.2 600.3h0M93.3 599.6h0M96.2 590.7h0M91.4 597.9h0M107.6 596.7h0M92.2 593.6h0M92.5 591.4h0M96.3 602.7h0M106.8 599.6h0M104.1 602.4h0M95.4 601.9h0M93.0 600.0h0M99.0 590.1h0M93.1 592.4h0M108.7 602.1h0M102.3 602.7h0M109.0 603.4h0M102.6 602.4h0M92.2 593.0h0M91.0 598.0h0M92.8 599.4h0M91.4 596.5h0M102.5 590.4h0M93.1 591.7h0M92.8 599.2h0M94.3 591.4h0M107.4 601.4h0M90.8 596.5h0M91.1 595.3h0M101.0 602.5h0M106.9 605.2h0M104.4 592.2h0M104.8 601.8h0M106.5 594.1h0M93.0 600.1h0M90.3 594.4h0M93.5 600.3h0M106.6 593.6h0" stroke="#c9c9c9" stroke-width="1.9" stroke-linecap="round"/>
<ellipse cx="78.5" cy="611.2" rx="7.07" ry="7.07" transform="rotate(-30 78.5 611.2)" fill="#c9c9c9"/><ellipse cx="82.5" cy="603.5" rx="2.33" ry="2.79" fill="#c9c9c9"/><ellipse cx="72.6" cy="617.4" rx="2.79" ry="2.14" fill="#c9c9c9"/><path d="M75.3 605.0h0M72.3 614.6h0M83.2 616.8h0M76.8 618.7h0M72.2 614.8h0M74.2 605.5h0M72.1 613.8h0M83.9 615.6h0M81.5 618.3h0M84.7 602.1h0M76.0 603.9h0M75.5 618.1h0M84.6 614.3h0M71.3 611.7h0M75.2 604.4h0M79.6 604.6h0M85.3 611.2h0M76.7 617.8h0M71.3 619.4h0M85.9 609.6h0M85.3 613.4h0M76.6 618.0h0M71.4 610.5h0M74.9 619.0h0M83.8 605.7h0M71.9 611.6h0M74.4 605.6h0M80.9 601.6h0M86.1 609.7h0M84.6 604.5h0M85.8 611.2h0M77.0 604.8h0M76.7 604.6h0M74.1 604.8h0M84.9 604.4h0M85.5 609.6h0M82.4 617.6h0M83.1 601.0h0M71.9 615.5h0M85.2 610.9h0M83.8 607.0h0M71.3 611.2h0M77.3 603.6h0M83.4 606.4h0M85.0 615.2h0M77.1 617.9h0M85.4 607.9h0M81.5 601.2h0M71.3 614.0h0M73.4 605.7h0M83.5 616.4h0M71.9 607.2h0M74.0 605.3h0M71.5 613.3h0M82.8 617.1h0M74.2 606.1h0M72.4 608.9h0M84.3 614.2h0M71.3 610.1h0M81.6 617.1h0M84.9 608.6h0M84.5 604.7h0M83.9 607.3h0M80.3 602.1h0M73.6 605.8h0M70.3 616.0h0M84.7 613.3h0M71.9 610.1h0M71.9 614.3h0M80.5 604.5h0" stroke="#c9c9c9" stroke-width="1.9" stroke-linecap="round"/>
<ellipse cx="122" cy="620.5" rx="7.81" ry="7.44" fill="#c9c9c9"/><path d="M117.2 625.9h0M129.5 619.7h0M124.8 627.6h0M117.2 613.9h0M120.3 613.8h0M117.3 615.1h0M122.2 612.7h0M116.0 626.1h0M115.0 618.8h0M117.8 613.7h0M128.8 624.8h0M115.0 617.7h0M126.1 613.8h0M116.2 626.6h0M115.0 623.3h0M116.2 624.6h0M120.1 627.2h0M127.3 614.2h0M115.3 623.0h0M128.7 617.6h0M115.5 616.1h0M117.5 626.6h0M119.7 612.8h0M130.2 619.4h0M117.7 627.4h0M114.1 618.1h0M124.5 626.9h0M129.6 621.2h0M116.3 625.3h0M116.5 626.6h0M130.1 621.6h0M115.0 624.6h0M126.3 627.2h0M128.6 624.7h0M120.8 628.0h0M123.6 613.0h0M114.7 616.3h0M116.1 615.3h0M118.5 614.0h0M115.1 616.8h0M115.6 616.4h0M117.7 613.9h0M130.3 619.7h0M116.2 614.6h0M128.6 623.9h0M115.1 618.2h0M128.9 618.5h0M126.6 614.9h0M125.1 613.7h0M129.5 618.8h0M126.9 615.1h0M114.0 623.5h0M127.9 616.5h0M113.9 620.5h0M119.8 613.5h0M129.3 616.7h0M114.7 619.4h0M115.9 616.1h0M126.5 614.6h0M127.3 615.4h0M116.9 614.3h0M117.3 626.2h0M114.6 618.6h0M124.1 613.6h0M129.2 622.2h0M118.2 627.6h0M128.0 625.5h0M128.0 614.7h0M127.3 614.4h0M129.5 619.2h0" stroke="#c9c9c9" stroke-width="1.9" stroke-linecap="round"/>
<ellipse cx="100.1" cy="642.8" rx="6.6" ry="8" fill="#c9c9c9"/><ellipse cx="105.2" cy="650.6" rx="2.23" ry="1.86" fill="#c9c9c9"/><path d="M97.1 635.1h0M104.8 637.1h0M95.5 637.5h0M95.3 649.2h0M101.8 634.6h0M100.2 634.2h0M106.7 641.4h0M94.9 638.2h0M105.5 637.8h0M106.5 652.1h0M93.2 644.5h0M106.7 640.8h0M93.9 644.8h0M105.4 647.5h0M99.3 650.6h0M93.8 646.7h0M106.3 641.4h0M102.3 634.9h0M94.9 638.9h0M103.8 648.8h0M101.1 635.5h0M96.1 635.4h0M101.3 650.9h0M95.3 648.0h0M93.9 639.0h0M96.2 636.2h0M105.5 639.0h0M99.0 635.6h0M104.7 648.3h0M105.1 637.0h0M103.1 650.0h0M104.9 636.2h0M97.0 649.9h0M105.5 648.1h0M104.0 635.5h0M95.9 635.7h0M99.7 635.3h0M106.5 641.7h0M106.7 645.6h0M94.3 645.3h0M99.0 650.8h0M105.4 648.1h0M105.8 637.6h0M93.8 642.8h0M93.9 643.6h0M97.5 635.1h0M101.2 650.8h0M96.1 636.3h0M99.1 650.2h0M94.9 637.4h0M106.1 638.1h0M96.3 649.2h0M98.5 651.4h0M94.1 638.5h0M100.1 635.0h0M95.5 636.7h0M99.3 634.8h0M94.2 640.0h0M93.0 643.7h0M107.3 650.1h0M93.4 641.9h0M106.6 643.1h0M104.8 647.5h0M103.0 649.5h0M93.7 645.2h0M93.0 641.8h0M93.1 644.0h0M97.5 635.3h0M93.3 644.2h0M97.3 649.5h0" stroke="#c9c9c9" stroke-width="1.9" stroke-linecap="round"/>
<circle cx="99" cy="576.3" r="1.2" fill="#c9c9c9"/>
</g>
<circle cx="46.37" cy="276.74" r="1.3" fill="#2b2bff"/>
<circle cx="43.97" cy="277.48" r="1.9" fill="#8a00d4"/>
<circle cx="85.06" cy="247.93" r="1.3" fill="#2b2bff"/>
<circle cx="85.89" cy="245.57" r="1.9" fill="#8a00d4"/>
<circle cx="115.01" cy="232.59" r="1.3" fill="#2b2bff"/>
<circle cx="116.84" cy="230.88" r="1.9" fill="#8a00d4"/>
<circle cx="139.11" cy="275.03" r="1.3" fill="#2b2bff"/>
<circle cx="137.72" cy="277.11" r="1.9" fill="#8a00d4"/>
<circle cx="105.23" cy="280.87" r="1.3" fill="#2b2bff"/>
<circle cx="106.09" cy="283.22" r="1.9" fill="#8a00d4"/>
<circle cx="77.41" cy="299.04" r="1.3" fill="#2b2bff"/>
<circle cx="75.03" cy="299.84" r="1.9" fill="#8a00d4"/>
<circle cx="126.06" cy="306.52" r="1.3" fill="#2b2bff"/>
<circle cx="126.44" cy="308.99" r="1.9" fill="#8a00d4"/>
<circle cx="105.63" cy="333.72" r="1.3" fill="#2b2bff"/>
<circle cx="105.7" cy="336.22" r="1.9" fill="#8a00d4"/>
<circle cx="42.3" cy="279.2" r="2.4" fill="#f0003c"/>
<circle cx="44.2" cy="277.2" r="1.6" fill="#c8009a"/>
<circle cx="43.4" cy="275" r="1.3" fill="#8a00d4"/>
<circle cx="42" cy="274.6" r="1.1" fill="#2b2bff"/>
<circle cx="46.5" cy="276.8" r="1.2" fill="#2b2bff"/>
<circle cx="45" cy="268.4" r="0.9" fill="#2b2bff"/>
<circle cx="56.3" cy="270.2" r="1.2" fill="#2b2bff"/>
<circle cx="55.8" cy="274.8" r="1" fill="#2b2bff"/>
<circle cx="50.5" cy="277.5" r="1" fill="#8a00d4"/>
<circle cx="52.3" cy="276.2" r="1" fill="#2b2bff"/>
<circle cx="48" cy="268.8" r="0.9" fill="#8a00d4"/>
<circle cx="85.5" cy="243.2" r="2.6" fill="#f0003c"/>
<circle cx="84" cy="244.8" r="1.4" fill="#c8009a"/>
<circle cx="87.3" cy="244.6" r="1.2" fill="#2b2bff"/>
<circle cx="88.6" cy="246.3" r="1" fill="#2b2bff"/>
<circle cx="92" cy="250.5" r="1.1" fill="#2b2bff"/>
<circle cx="94" cy="253.6" r="1" fill="#2b2bff"/>
<circle cx="89.5" cy="258.4" r="1.1" fill="#8a00d4"/>
<circle cx="81.5" cy="245.5" r="1" fill="#2b2bff"/>
<circle cx="117.6" cy="228.6" r="2.4" fill="#c8009a"/>
<circle cx="115.8" cy="229.8" r="1.5" fill="#8a00d4"/>
<circle cx="119.5" cy="230.2" r="1.2" fill="#f0003c"/>
<circle cx="112.6" cy="231.4" r="1" fill="#2b2bff"/>
<circle cx="121.2" cy="232.3" r="1" fill="#2b2bff"/>
<circle cx="110.3" cy="246.2" r="1.1" fill="#f0003c"/>
<circle cx="137.5" cy="279.5" r="2.3" fill="#f0003c"/>
<circle cx="135.8" cy="277.2" r="1.3" fill="#8a00d4"/>
<circle cx="139.2" cy="277.6" r="1.2" fill="#2b2bff"/>
<circle cx="133.4" cy="264.2" r="1" fill="#f0003c"/>
<circle cx="140.3" cy="266.1" r="1" fill="#2b2bff"/>
<circle cx="145.3" cy="270.4" r="1" fill="#2b2bff"/>
<circle cx="136.4" cy="274" r="1" fill="#2b2bff"/>
<circle cx="141.5" cy="275.2" r="1.1" fill="#2b2bff"/>
<circle cx="131.6" cy="268.5" r="1" fill="#2b2bff"/>
<circle cx="107.9" cy="284.8" r="2.4" fill="#f0003c"/>
<circle cx="105.4" cy="283" r="1.3" fill="#2b2bff"/>
<circle cx="103" cy="283.8" r="1.2" fill="#2b2bff"/>
<circle cx="100" cy="285.2" r="1" fill="#8a00d4"/>
<circle cx="94.2" cy="274.2" r="1" fill="#2b2bff"/>
<circle cx="96.2" cy="278.3" r="1" fill="#8a00d4"/>
<circle cx="109" cy="277.6" r="1" fill="#2b2bff"/>
<circle cx="97.6" cy="282.8" r="1" fill="#2b2bff"/>
<circle cx="73.4" cy="301.6" r="2.5" fill="#f0003c"/>
<circle cx="74.6" cy="298.6" r="1.5" fill="#8a00d4"/>
<circle cx="76.6" cy="296" r="1.3" fill="#2b2bff"/>
<circle cx="75.3" cy="293.8" r="1" fill="#2b2bff"/>
<circle cx="86.3" cy="290" r="1" fill="#2b2bff"/>
<circle cx="76.5" cy="289.4" r="1.1" fill="#f0003c"/>
<circle cx="84.2" cy="287.4" r="1" fill="#2b2bff"/>
<circle cx="127.9" cy="310.9" r="2.4" fill="#f0003c"/>
<circle cx="129.7" cy="307.4" r="1.4" fill="#c8009a"/>
<circle cx="125" cy="308.6" r="1.2" fill="#2b2bff"/>
<circle cx="116.2" cy="305" r="1" fill="#2b2bff"/>
<circle cx="117" cy="300.8" r="1" fill="#8a00d4"/>
<circle cx="130.6" cy="303.4" r="1" fill="#2b2bff"/>
<circle cx="123.5" cy="310.5" r="1" fill="#2b2bff"/>
<circle cx="126.6" cy="296.8" r="1" fill="#8a00d4"/>
<circle cx="106.9" cy="338.3" r="2.4" fill="#f0003c"/>
<circle cx="105.2" cy="336" r="1.3" fill="#8a00d4"/>
<circle cx="104.8" cy="333.3" r="1" fill="#2b2bff"/>
<circle cx="97" cy="322.2" r="1.1" fill="#8a00d4"/>
<circle cx="95.8" cy="325.3" r="1" fill="#2b2bff"/>
<circle cx="100.2" cy="320.6" r="1" fill="#2b2bff"/>
<circle cx="107.4" cy="327.8" r="0.9" fill="#2b2bff"/>
<path d="M34.6 388.1V500.2H151.2" fill="none" stroke="#767676" stroke-width="0.8"/>
<text x="63.2" y="513.8" font-size="8.6" text-anchor="middle">−20</text>
<text x="27.8" y="475.1" font-size="8.6" text-anchor="end">−20</text>
<text x="98.6" y="513.8" font-size="8.6" text-anchor="middle">0</text>
<text x="27.8" y="444.1" font-size="8.6" text-anchor="end">0</text>
<text x="134" y="513.8" font-size="8.6" text-anchor="middle">20</text>
<text x="27.8" y="413.1" font-size="8.6" text-anchor="end">20</text>
<path d="M63.2 500.2v2.6M34.6 472.1h-2.6M98.6 500.2v2.6M34.6 441.1h-2.6M134 500.2v2.6M34.6 410.1h-2.6" stroke="#767676" stroke-width="0.8"/>
<text x="93.5" y="527.9" font-size="9.6" text-anchor="middle" textLength="30" lengthAdjust="spacingAndGlyphs"><tspan font-style="italic">t</tspan>-SNE 1</text>
<text x="8.4" y="444.1" font-size="9.6" text-anchor="middle" textLength="31" lengthAdjust="spacingAndGlyphs" transform="rotate(-90 8.4 444.1)"><tspan font-style="italic">t</tspan>-SNE 2</text>
<g transform="translate(98.6 441.1) scale(1.0028 1.0065) translate(-97.9 -597.9)">
<ellipse cx="47.5" cy="590.5" rx="8.37" ry="6.32" transform="rotate(-5 47.5 590.5)" fill="#ff00ff"/><ellipse cx="42" cy="594.5" rx="3.26" ry="3.26" fill="#ff00ff"/><ellipse cx="39.5" cy="597" rx="1.3" ry="1.3" fill="#ff00ff"/><path d="M50.2 596.5h0M38.1 596.8h0M46.0 597.5h0M55.1 588.9h0M56.5 590.5h0M53.5 586.7h0M39.0 593.7h0M38.7 589.6h0M40.9 586.7h0M55.2 593.7h0M40.9 586.5h0M55.9 593.0h0M40.0 588.6h0M48.9 584.2h0M52.6 594.9h0M45.4 596.5h0M55.4 592.4h0M46.0 597.4h0M55.8 588.9h0M39.2 591.0h0M43.2 597.4h0M54.7 586.1h0M52.1 585.0h0M44.9 596.5h0M39.0 590.2h0M48.1 596.5h0M55.3 588.2h0M55.0 592.2h0M40.8 597.6h0M45.1 596.7h0M38.9 589.8h0M38.9 591.2h0M41.7 585.4h0M48.0 584.7h0M55.2 593.1h0M48.8 584.4h0M51.7 596.0h0M51.8 595.9h0M39.7 590.5h0M49.6 583.9h0M47.9 584.0h0M53.0 585.2h0M54.2 593.4h0M53.3 585.7h0M56.6 589.9h0M54.8 592.2h0M48.3 596.4h0M52.2 594.9h0M56.6 589.4h0M54.6 594.2h0M45.5 584.4h0M44.5 584.8h0M38.7 593.8h0M53.5 585.1h0M40.2 587.0h0M44.4 596.6h0M55.6 591.4h0M55.3 587.4h0M54.7 593.9h0M54.0 585.6h0M41.8 585.4h0M40.1 589.2h0M54.8 592.8h0M56.7 589.7h0M47.5 596.4h0M54.6 593.1h0M56.3 592.0h0M54.4 592.9h0M51.1 595.5h0M39.3 588.9h0" stroke="#ff00ff" stroke-width="1.9" stroke-linecap="round"/>
<ellipse cx="85.8" cy="573.5" rx="8" ry="5.39" transform="rotate(10 85.8 573.5)" fill="#ff00ff"/><ellipse cx="83.5" cy="566.5" rx="3.35" ry="4.28" fill="#ff00ff"/><path d="M87.2 579.3h0M84.4 579.3h0M86.4 565.0h0M89.3 578.4h0M79.9 575.9h0M87.2 579.2h0M77.8 571.4h0M80.4 566.3h0M79.9 566.5h0M94.0 572.5h0M80.1 566.3h0M80.5 577.1h0M85.8 563.7h0M91.8 571.0h0M91.9 576.8h0M87.3 578.6h0M80.8 577.0h0M78.6 574.7h0M92.8 576.7h0M80.1 565.3h0M86.9 565.1h0M93.5 572.5h0M79.7 569.9h0M81.1 563.3h0M78.7 574.1h0M78.4 572.4h0M79.1 569.9h0M81.1 577.7h0M78.1 570.8h0M78.6 573.2h0M80.2 565.2h0M91.6 570.2h0M92.8 577.0h0M89.8 568.9h0M88.6 568.4h0M92.2 577.8h0M92.7 576.3h0M79.9 568.6h0M88.3 578.9h0M93.4 573.4h0M89.8 569.6h0M89.3 568.9h0M83.7 578.5h0M92.1 570.8h0M93.6 575.1h0M80.5 577.2h0M91.9 570.4h0M80.3 577.0h0M93.3 576.4h0M86.8 579.3h0M83.0 562.0h0M83.4 578.1h0M88.3 579.2h0M93.8 575.5h0M78.3 573.4h0M81.3 578.2h0M80.6 577.3h0M77.8 572.1h0M79.8 569.6h0M78.5 571.3h0M89.1 578.9h0M85.8 579.2h0M86.8 568.5h0M91.1 570.3h0M81.9 577.4h0M79.7 568.8h0M81.7 578.0h0M81.4 578.3h0M86.6 565.3h0M78.0 570.3h0" stroke="#ff00ff" stroke-width="1.9" stroke-linecap="round"/>
<ellipse cx="112.8" cy="560.5" rx="7.25" ry="7.25" fill="#ff00ff"/><ellipse cx="116" cy="552.2" rx="2.7" ry="2.33" fill="#ff00ff"/><path d="M108.3 554.1h0M118.2 553.6h0M114.1 550.4h0M113.3 551.9h0M119.3 563.3h0M117.8 566.0h0M119.3 556.9h0M118.4 555.2h0M118.5 565.4h0M110.4 554.2h0M105.8 563.8h0M105.7 563.0h0M105.4 559.6h0M119.6 558.2h0M106.4 564.3h0M107.3 565.8h0M120.3 560.8h0M118.7 553.0h0M108.7 566.7h0M116.9 566.0h0M118.7 551.7h0M106.6 563.4h0M118.6 552.9h0M109.2 553.9h0M109.5 554.0h0M107.7 555.1h0M113.3 552.0h0M105.9 560.2h0M117.2 554.9h0M105.5 557.3h0M110.8 567.7h0M108.0 565.6h0M120.2 558.0h0M110.4 568.0h0M117.5 554.4h0M107.4 565.1h0M118.0 553.6h0M118.3 555.0h0M106.3 561.8h0M120.5 562.7h0M108.7 565.9h0M119.2 556.3h0M118.6 564.4h0M106.4 555.7h0M107.4 555.9h0M114.8 567.2h0M107.9 554.3h0M119.6 558.3h0M119.9 559.4h0M105.9 556.5h0M106.4 558.2h0M119.0 564.1h0M109.3 553.6h0M119.6 563.5h0M106.7 564.1h0M119.6 561.3h0M105.9 560.5h0M120.4 561.0h0M108.6 554.3h0M117.7 565.4h0M106.6 556.6h0M114.3 567.8h0M105.8 556.8h0M114.1 550.7h0M119.2 563.2h0M120.3 560.2h0M114.4 567.2h0M105.9 557.3h0M110.2 567.8h0M120.4 558.6h0" stroke="#ff00ff" stroke-width="1.9" stroke-linecap="round"/>
<ellipse cx="137.5" cy="587.5" rx="7.63" ry="6.51" fill="#87cefa"/><ellipse cx="137.2" cy="595" rx="2.79" ry="3.91" fill="#87cefa"/><path d="M130.2 590.9h0M133.8 582.3h0M136.8 581.2h0M144.2 589.8h0M143.0 592.3h0M134.8 593.2h0M135.0 581.2h0M143.5 592.2h0M141.0 582.1h0M143.0 591.9h0M129.9 586.5h0M143.5 584.4h0M145.0 590.1h0M145.2 586.7h0M143.3 591.1h0M142.6 592.5h0M130.7 591.3h0M134.2 580.9h0M129.8 588.6h0M129.5 586.1h0M133.9 593.0h0M131.6 583.6h0M137.3 598.8h0M141.1 593.6h0M131.9 583.5h0M145.6 587.5h0M131.3 590.5h0M130.5 591.4h0M133.8 593.6h0M144.0 589.8h0M141.1 581.1h0M134.4 596.0h0M132.1 583.5h0M138.2 580.8h0M130.1 585.4h0M130.2 589.7h0M137.3 599.2h0M143.7 583.4h0M132.8 592.5h0M144.7 588.9h0M143.4 591.4h0M136.0 581.6h0M130.6 584.8h0M132.3 592.4h0M133.0 592.3h0M129.8 588.5h0M142.0 592.5h0M142.4 592.2h0M130.7 590.1h0M141.8 582.4h0M143.5 592.1h0M138.5 598.2h0M130.6 583.8h0M144.0 584.8h0M137.1 581.0h0M143.7 584.7h0M139.3 580.6h0M132.2 582.8h0M131.3 584.5h0M143.3 584.1h0M129.9 590.0h0M131.1 591.2h0M135.4 581.3h0M143.3 591.0h0M142.4 582.0h0M140.1 581.2h0M131.1 590.4h0M144.5 590.6h0M140.2 595.7h0M130.9 590.0h0" stroke="#87cefa" stroke-width="1.9" stroke-linecap="round"/>
<ellipse cx="99.5" cy="596.5" rx="8.65" ry="6.14" transform="rotate(8 99.5 596.5)" fill="#87cefa"/><ellipse cx="106.6" cy="603.3" rx="2.42" ry="2.05" fill="#87cefa"/><path d="M90.4 595.3h0M94.9 601.0h0M91.4 592.9h0M91.6 592.9h0M100.3 602.4h0M103.9 591.4h0M96.3 601.9h0M108.4 601.7h0M107.6 600.3h0M93.6 600.0h0M95.8 602.1h0M95.2 591.5h0M90.6 596.4h0M100.6 590.9h0M100.7 602.3h0M108.4 598.6h0M104.7 591.2h0M102.2 602.3h0M101.0 602.3h0M108.0 597.8h0M92.3 591.8h0M107.3 600.7h0M94.3 591.6h0M98.9 602.5h0M107.8 600.2h0M104.3 592.0h0M105.7 593.2h0M108.4 594.7h0M96.5 602.3h0M93.3 591.0h0M92.9 599.5h0M102.6 590.4h0M106.2 600.3h0M93.3 599.6h0M96.2 590.7h0M91.4 597.9h0M107.6 596.7h0M92.2 593.6h0M92.5 591.4h0M96.3 602.7h0M106.8 599.6h0M104.1 602.4h0M95.4 601.9h0M93.0 600.0h0M99.0 590.1h0M93.1 592.4h0M108.7 602.1h0M102.3 602.7h0M109.0 603.4h0M102.6 602.4h0M92.2 593.0h0M91.0 598.0h0M92.8 599.4h0M91.4 596.5h0M102.5 590.4h0M93.1 591.7h0M92.8 599.2h0M94.3 591.4h0M107.4 601.4h0M90.8 596.5h0M91.1 595.3h0M101.0 602.5h0M106.9 605.2h0M104.4 592.2h0M104.8 601.8h0M106.5 594.1h0M93.0 600.1h0M90.3 594.4h0M93.5 600.3h0M106.6 593.6h0" stroke="#87cefa" stroke-width="1.9" stroke-linecap="round"/>
<ellipse cx="78.5" cy="611.2" rx="7.07" ry="7.07" transform="rotate(-30 78.5 611.2)" fill="#ff00ff"/><ellipse cx="82.5" cy="603.5" rx="2.33" ry="2.79" fill="#ff00ff"/><ellipse cx="72.6" cy="617.4" rx="2.79" ry="2.14" fill="#ff00ff"/><path d="M75.3 605.0h0M72.3 614.6h0M83.2 616.8h0M76.8 618.7h0M72.2 614.8h0M74.2 605.5h0M72.1 613.8h0M83.9 615.6h0M81.5 618.3h0M84.7 602.1h0M76.0 603.9h0M75.5 618.1h0M84.6 614.3h0M71.3 611.7h0M75.2 604.4h0M79.6 604.6h0M85.3 611.2h0M76.7 617.8h0M71.3 619.4h0M85.9 609.6h0M85.3 613.4h0M76.6 618.0h0M71.4 610.5h0M74.9 619.0h0M83.8 605.7h0M71.9 611.6h0M74.4 605.6h0M80.9 601.6h0M86.1 609.7h0M84.6 604.5h0M85.8 611.2h0M77.0 604.8h0M76.7 604.6h0M74.1 604.8h0M84.9 604.4h0M85.5 609.6h0M82.4 617.6h0M83.1 601.0h0M71.9 615.5h0M85.2 610.9h0M83.8 607.0h0M71.3 611.2h0M77.3 603.6h0M83.4 606.4h0M85.0 615.2h0M77.1 617.9h0M85.4 607.9h0M81.5 601.2h0M71.3 614.0h0M73.4 605.7h0M83.5 616.4h0M71.9 607.2h0M74.0 605.3h0M71.5 613.3h0M82.8 617.1h0M74.2 606.1h0M72.4 608.9h0M84.3 614.2h0M71.3 610.1h0M81.6 617.1h0M84.9 608.6h0M84.5 604.7h0M83.9 607.3h0M80.3 602.1h0M73.6 605.8h0M70.3 616.0h0M84.7 613.3h0M71.9 610.1h0M71.9 614.3h0M80.5 604.5h0" stroke="#ff00ff" stroke-width="1.9" stroke-linecap="round"/>
<ellipse cx="122" cy="620.5" rx="7.81" ry="7.44" fill="#87cefa"/><path d="M117.2 625.9h0M129.5 619.7h0M124.8 627.6h0M117.2 613.9h0M120.3 613.8h0M117.3 615.1h0M122.2 612.7h0M116.0 626.1h0M115.0 618.8h0M117.8 613.7h0M128.8 624.8h0M115.0 617.7h0M126.1 613.8h0M116.2 626.6h0M115.0 623.3h0M116.2 624.6h0M120.1 627.2h0M127.3 614.2h0M115.3 623.0h0M128.7 617.6h0M115.5 616.1h0M117.5 626.6h0M119.7 612.8h0M130.2 619.4h0M117.7 627.4h0M114.1 618.1h0M124.5 626.9h0M129.6 621.2h0M116.3 625.3h0M116.5 626.6h0M130.1 621.6h0M115.0 624.6h0M126.3 627.2h0M128.6 624.7h0M120.8 628.0h0M123.6 613.0h0M114.7 616.3h0M116.1 615.3h0M118.5 614.0h0M115.1 616.8h0M115.6 616.4h0M117.7 613.9h0M130.3 619.7h0M116.2 614.6h0M128.6 623.9h0M115.1 618.2h0M128.9 618.5h0M126.6 614.9h0M125.1 613.7h0M129.5 618.8h0M126.9 615.1h0M114.0 623.5h0M127.9 616.5h0M113.9 620.5h0M119.8 613.5h0M129.3 616.7h0M114.7 619.4h0M115.9 616.1h0M126.5 614.6h0M127.3 615.4h0M116.9 614.3h0M117.3 626.2h0M114.6 618.6h0M124.1 613.6h0M129.2 622.2h0M118.2 627.6h0M128.0 625.5h0M128.0 614.7h0M127.3 614.4h0M129.5 619.2h0" stroke="#87cefa" stroke-width="1.9" stroke-linecap="round"/>
<ellipse cx="100.1" cy="642.8" rx="6.6" ry="8" fill="#87cefa"/><ellipse cx="105.2" cy="650.6" rx="2.23" ry="1.86" fill="#87cefa"/><path d="M97.1 635.1h0M104.8 637.1h0M95.5 637.5h0M95.3 649.2h0M101.8 634.6h0M100.2 634.2h0M106.7 641.4h0M94.9 638.2h0M105.5 637.8h0M106.5 652.1h0M93.2 644.5h0M106.7 640.8h0M93.9 644.8h0M105.4 647.5h0M99.3 650.6h0M93.8 646.7h0M106.3 641.4h0M102.3 634.9h0M94.9 638.9h0M103.8 648.8h0M101.1 635.5h0M96.1 635.4h0M101.3 650.9h0M95.3 648.0h0M93.9 639.0h0M96.2 636.2h0M105.5 639.0h0M99.0 635.6h0M104.7 648.3h0M105.1 637.0h0M103.1 650.0h0M104.9 636.2h0M97.0 649.9h0M105.5 648.1h0M104.0 635.5h0M95.9 635.7h0M99.7 635.3h0M106.5 641.7h0M106.7 645.6h0M94.3 645.3h0M99.0 650.8h0M105.4 648.1h0M105.8 637.6h0M93.8 642.8h0M93.9 643.6h0M97.5 635.1h0M101.2 650.8h0M96.1 636.3h0M99.1 650.2h0M94.9 637.4h0M106.1 638.1h0M96.3 649.2h0M98.5 651.4h0M94.1 638.5h0M100.1 635.0h0M95.5 636.7h0M99.3 634.8h0M94.2 640.0h0M93.0 643.7h0M107.3 650.1h0M93.4 641.9h0M106.6 643.1h0M104.8 647.5h0M103.0 649.5h0M93.7 645.2h0M93.0 641.8h0M93.1 644.0h0M97.5 635.3h0M93.3 644.2h0M97.3 649.5h0" stroke="#87cefa" stroke-width="1.9" stroke-linecap="round"/>
<circle cx="99" cy="576.3" r="1.2" fill="#ff00ff"/>
</g>
<path d="M34.2 544.7V657.2H150.2" fill="none" stroke="#767676" stroke-width="0.8"/>
<text x="62.6" y="669.9" font-size="8.6" text-anchor="middle">−20</text>
<text x="27.4" y="631.7" font-size="8.6" text-anchor="end">−20</text>
<text x="97.9" y="669.9" font-size="8.6" text-anchor="middle">0</text>
<text x="27.4" y="600.9" font-size="8.6" text-anchor="end">0</text>
<text x="133.2" y="669.9" font-size="8.6" text-anchor="middle">20</text>
<text x="27.4" y="570.1" font-size="8.6" text-anchor="end">20</text>
<path d="M62.6 657.2v2.6M34.2 628.7h-2.6M97.9 657.2v2.6M34.2 597.9h-2.6M133.2 657.2v2.6M34.2 567.1h-2.6" stroke="#767676" stroke-width="0.8"/>
<text x="93.5" y="684.5" font-size="9.6" text-anchor="middle" textLength="30" lengthAdjust="spacingAndGlyphs"><tspan font-style="italic">t</tspan>-SNE 1</text>
<text x="8.4" y="600.5" font-size="9.6" text-anchor="middle" textLength="31" lengthAdjust="spacingAndGlyphs" transform="rotate(-90 8.4 600.5)"><tspan font-style="italic">t</tspan>-SNE 2</text>
<g transform="translate(97.9 597.9) scale(1.0000 1.0000) translate(-97.9 -597.9)">
<ellipse cx="47.5" cy="590.5" rx="8.37" ry="6.32" transform="rotate(-5 47.5 590.5)" fill="#f781bf"/><ellipse cx="42" cy="594.5" rx="3.26" ry="3.26" fill="#f781bf"/><ellipse cx="39.5" cy="597" rx="1.3" ry="1.3" fill="#f781bf"/><path d="M50.2 596.5h0M38.1 596.8h0M46.0 597.5h0M55.1 588.9h0M56.5 590.5h0M53.5 586.7h0M39.0 593.7h0M38.7 589.6h0M40.9 586.7h0M55.2 593.7h0M40.9 586.5h0M55.9 593.0h0M40.0 588.6h0M48.9 584.2h0M52.6 594.9h0M45.4 596.5h0M55.4 592.4h0M46.0 597.4h0M55.8 588.9h0M39.2 591.0h0M43.2 597.4h0M54.7 586.1h0M52.1 585.0h0M44.9 596.5h0M39.0 590.2h0M48.1 596.5h0M55.3 588.2h0M55.0 592.2h0M40.8 597.6h0M45.1 596.7h0M38.9 589.8h0M38.9 591.2h0M41.7 585.4h0M48.0 584.7h0M55.2 593.1h0M48.8 584.4h0M51.7 596.0h0M51.8 595.9h0M39.7 590.5h0M49.6 583.9h0M47.9 584.0h0M53.0 585.2h0M54.2 593.4h0M53.3 585.7h0M56.6 589.9h0M54.8 592.2h0M48.3 596.4h0M52.2 594.9h0M56.6 589.4h0M54.6 594.2h0M45.5 584.4h0M44.5 584.8h0M38.7 593.8h0M53.5 585.1h0M40.2 587.0h0M44.4 596.6h0M55.6 591.4h0M55.3 587.4h0M54.7 593.9h0M54.0 585.6h0M41.8 585.4h0M40.1 589.2h0M54.8 592.8h0M56.7 589.7h0M47.5 596.4h0M54.6 593.1h0M56.3 592.0h0M54.4 592.9h0M51.1 595.5h0M39.3 588.9h0" stroke="#f781bf" stroke-width="1.9" stroke-linecap="round"/>
<ellipse cx="85.8" cy="573.5" rx="8" ry="5.39" transform="rotate(10 85.8 573.5)" fill="#ff7f00"/><ellipse cx="83.5" cy="566.5" rx="3.35" ry="4.28" fill="#ff7f00"/><path d="M87.2 579.3h0M84.4 579.3h0M86.4 565.0h0M89.3 578.4h0M79.9 575.9h0M87.2 579.2h0M77.8 571.4h0M80.4 566.3h0M79.9 566.5h0M94.0 572.5h0M80.1 566.3h0M80.5 577.1h0M85.8 563.7h0M91.8 571.0h0M91.9 576.8h0M87.3 578.6h0M80.8 577.0h0M78.6 574.7h0M92.8 576.7h0M80.1 565.3h0M86.9 565.1h0M93.5 572.5h0M79.7 569.9h0M81.1 563.3h0M78.7 574.1h0M78.4 572.4h0M79.1 569.9h0M81.1 577.7h0M78.1 570.8h0M78.6 573.2h0M80.2 565.2h0M91.6 570.2h0M92.8 577.0h0M89.8 568.9h0M88.6 568.4h0M92.2 577.8h0M92.7 576.3h0M79.9 568.6h0M88.3 578.9h0M93.4 573.4h0M89.8 569.6h0M89.3 568.9h0M83.7 578.5h0M92.1 570.8h0M93.6 575.1h0M80.5 577.2h0M91.9 570.4h0M80.3 577.0h0M93.3 576.4h0M86.8 579.3h0M83.0 562.0h0M83.4 578.1h0M88.3 579.2h0M93.8 575.5h0M78.3 573.4h0M81.3 578.2h0M80.6 577.3h0M77.8 572.1h0M79.8 569.6h0M78.5 571.3h0M89.1 578.9h0M85.8 579.2h0M86.8 568.5h0M91.1 570.3h0M81.9 577.4h0M79.7 568.8h0M81.7 578.0h0M81.4 578.3h0M86.6 565.3h0M78.0 570.3h0" stroke="#ff7f00" stroke-width="1.9" stroke-linecap="round"/>
<ellipse cx="112.8" cy="560.5" rx="7.25" ry="7.25" fill="#a65628"/><ellipse cx="116" cy="552.2" rx="2.7" ry="2.33" fill="#a65628"/><path d="M108.3 554.1h0M118.2 553.6h0M114.1 550.4h0M113.3 551.9h0M119.3 563.3h0M117.8 566.0h0M119.3 556.9h0M118.4 555.2h0M118.5 565.4h0M110.4 554.2h0M105.8 563.8h0M105.7 563.0h0M105.4 559.6h0M119.6 558.2h0M106.4 564.3h0M107.3 565.8h0M120.3 560.8h0M118.7 553.0h0M108.7 566.7h0M116.9 566.0h0M118.7 551.7h0M106.6 563.4h0M118.6 552.9h0M109.2 553.9h0M109.5 554.0h0M107.7 555.1h0M113.3 552.0h0M105.9 560.2h0M117.2 554.9h0M105.5 557.3h0M110.8 567.7h0M108.0 565.6h0M120.2 558.0h0M110.4 568.0h0M117.5 554.4h0M107.4 565.1h0M118.0 553.6h0M118.3 555.0h0M106.3 561.8h0M120.5 562.7h0M108.7 565.9h0M119.2 556.3h0M118.6 564.4h0M106.4 555.7h0M107.4 555.9h0M114.8 567.2h0M107.9 554.3h0M119.6 558.3h0M119.9 559.4h0M105.9 556.5h0M106.4 558.2h0M119.0 564.1h0M109.3 553.6h0M119.6 563.5h0M106.7 564.1h0M119.6 561.3h0M105.9 560.5h0M120.4 561.0h0M108.6 554.3h0M117.7 565.4h0M106.6 556.6h0M114.3 567.8h0M105.8 556.8h0M114.1 550.7h0M119.2 563.2h0M120.3 560.2h0M114.4 567.2h0M105.9 557.3h0M110.2 567.8h0M120.4 558.6h0" stroke="#a65628" stroke-width="1.9" stroke-linecap="round"/>
<ellipse cx="137.5" cy="587.5" rx="7.63" ry="6.51" fill="#377eb8"/><ellipse cx="137.2" cy="595" rx="2.79" ry="3.91" fill="#377eb8"/><path d="M130.2 590.9h0M133.8 582.3h0M136.8 581.2h0M144.2 589.8h0M143.0 592.3h0M134.8 593.2h0M135.0 581.2h0M143.5 592.2h0M141.0 582.1h0M143.0 591.9h0M129.9 586.5h0M143.5 584.4h0M145.0 590.1h0M145.2 586.7h0M143.3 591.1h0M142.6 592.5h0M130.7 591.3h0M134.2 580.9h0M129.8 588.6h0M129.5 586.1h0M133.9 593.0h0M131.6 583.6h0M137.3 598.8h0M141.1 593.6h0M131.9 583.5h0M145.6 587.5h0M131.3 590.5h0M130.5 591.4h0M133.8 593.6h0M144.0 589.8h0M141.1 581.1h0M134.4 596.0h0M132.1 583.5h0M138.2 580.8h0M130.1 585.4h0M130.2 589.7h0M137.3 599.2h0M143.7 583.4h0M132.8 592.5h0M144.7 588.9h0M143.4 591.4h0M136.0 581.6h0M130.6 584.8h0M132.3 592.4h0M133.0 592.3h0M129.8 588.5h0M142.0 592.5h0M142.4 592.2h0M130.7 590.1h0M141.8 582.4h0M143.5 592.1h0M138.5 598.2h0M130.6 583.8h0M144.0 584.8h0M137.1 581.0h0M143.7 584.7h0M139.3 580.6h0M132.2 582.8h0M131.3 584.5h0M143.3 584.1h0M129.9 590.0h0M131.1 591.2h0M135.4 581.3h0M143.3 591.0h0M142.4 582.0h0M140.1 581.2h0M131.1 590.4h0M144.5 590.6h0M140.2 595.7h0M130.9 590.0h0" stroke="#377eb8" stroke-width="1.9" stroke-linecap="round"/>
<ellipse cx="99.5" cy="596.5" rx="8.65" ry="6.14" transform="rotate(8 99.5 596.5)" fill="#984ea3"/><ellipse cx="106.6" cy="603.3" rx="2.42" ry="2.05" fill="#984ea3"/><path d="M90.4 595.3h0M94.9 601.0h0M91.4 592.9h0M91.6 592.9h0M100.3 602.4h0M103.9 591.4h0M96.3 601.9h0M108.4 601.7h0M107.6 600.3h0M93.6 600.0h0M95.8 602.1h0M95.2 591.5h0M90.6 596.4h0M100.6 590.9h0M100.7 602.3h0M108.4 598.6h0M104.7 591.2h0M102.2 602.3h0M101.0 602.3h0M108.0 597.8h0M92.3 591.8h0M107.3 600.7h0M94.3 591.6h0M98.9 602.5h0M107.8 600.2h0M104.3 592.0h0M105.7 593.2h0M108.4 594.7h0M96.5 602.3h0M93.3 591.0h0M92.9 599.5h0M102.6 590.4h0M106.2 600.3h0M93.3 599.6h0M96.2 590.7h0M91.4 597.9h0M107.6 596.7h0M92.2 593.6h0M92.5 591.4h0M96.3 602.7h0M106.8 599.6h0M104.1 602.4h0M95.4 601.9h0M93.0 600.0h0M99.0 590.1h0M93.1 592.4h0M108.7 602.1h0M102.3 602.7h0M109.0 603.4h0M102.6 602.4h0M92.2 593.0h0M91.0 598.0h0M92.8 599.4h0M91.4 596.5h0M102.5 590.4h0M93.1 591.7h0M92.8 599.2h0M94.3 591.4h0M107.4 601.4h0M90.8 596.5h0M91.1 595.3h0M101.0 602.5h0M106.9 605.2h0M104.4 592.2h0M104.8 601.8h0M106.5 594.1h0M93.0 600.1h0M90.3 594.4h0M93.5 600.3h0M106.6 593.6h0" stroke="#984ea3" stroke-width="1.9" stroke-linecap="round"/>
<ellipse cx="78.5" cy="611.2" rx="7.07" ry="7.07" transform="rotate(-30 78.5 611.2)" fill="#ffff33"/><ellipse cx="82.5" cy="603.5" rx="2.33" ry="2.79" fill="#ffff33"/><ellipse cx="72.6" cy="617.4" rx="2.79" ry="2.14" fill="#ffff33"/><path d="M75.3 605.0h0M72.3 614.6h0M83.2 616.8h0M76.8 618.7h0M72.2 614.8h0M74.2 605.5h0M72.1 613.8h0M83.9 615.6h0M81.5 618.3h0M84.7 602.1h0M76.0 603.9h0M75.5 618.1h0M84.6 614.3h0M71.3 611.7h0M75.2 604.4h0M79.6 604.6h0M85.3 611.2h0M76.7 617.8h0M71.3 619.4h0M85.9 609.6h0M85.3 613.4h0M76.6 618.0h0M71.4 610.5h0M74.9 619.0h0M83.8 605.7h0M71.9 611.6h0M74.4 605.6h0M80.9 601.6h0M86.1 609.7h0M84.6 604.5h0M85.8 611.2h0M77.0 604.8h0M76.7 604.6h0M74.1 604.8h0M84.9 604.4h0M85.5 609.6h0M82.4 617.6h0M83.1 601.0h0M71.9 615.5h0M85.2 610.9h0M83.8 607.0h0M71.3 611.2h0M77.3 603.6h0M83.4 606.4h0M85.0 615.2h0M77.1 617.9h0M85.4 607.9h0M81.5 601.2h0M71.3 614.0h0M73.4 605.7h0M83.5 616.4h0M71.9 607.2h0M74.0 605.3h0M71.5 613.3h0M82.8 617.1h0M74.2 606.1h0M72.4 608.9h0M84.3 614.2h0M71.3 610.1h0M81.6 617.1h0M84.9 608.6h0M84.5 604.7h0M83.9 607.3h0M80.3 602.1h0M73.6 605.8h0M70.3 616.0h0M84.7 613.3h0M71.9 610.1h0M71.9 614.3h0M80.5 604.5h0" stroke="#ffff33" stroke-width="1.9" stroke-linecap="round"/>
<ellipse cx="122" cy="620.5" rx="7.81" ry="7.44" fill="#4daf4a"/><path d="M117.2 625.9h0M129.5 619.7h0M124.8 627.6h0M117.2 613.9h0M120.3 613.8h0M117.3 615.1h0M122.2 612.7h0M116.0 626.1h0M115.0 618.8h0M117.8 613.7h0M128.8 624.8h0M115.0 617.7h0M126.1 613.8h0M116.2 626.6h0M115.0 623.3h0M116.2 624.6h0M120.1 627.2h0M127.3 614.2h0M115.3 623.0h0M128.7 617.6h0M115.5 616.1h0M117.5 626.6h0M119.7 612.8h0M130.2 619.4h0M117.7 627.4h0M114.1 618.1h0M124.5 626.9h0M129.6 621.2h0M116.3 625.3h0M116.5 626.6h0M130.1 621.6h0M115.0 624.6h0M126.3 627.2h0M128.6 624.7h0M120.8 628.0h0M123.6 613.0h0M114.7 616.3h0M116.1 615.3h0M118.5 614.0h0M115.1 616.8h0M115.6 616.4h0M117.7 613.9h0M130.3 619.7h0M116.2 614.6h0M128.6 623.9h0M115.1 618.2h0M128.9 618.5h0M126.6 614.9h0M125.1 613.7h0M129.5 618.8h0M126.9 615.1h0M114.0 623.5h0M127.9 616.5h0M113.9 620.5h0M119.8 613.5h0M129.3 616.7h0M114.7 619.4h0M115.9 616.1h0M126.5 614.6h0M127.3 615.4h0M116.9 614.3h0M117.3 626.2h0M114.6 618.6h0M124.1 613.6h0M129.2 622.2h0M118.2 627.6h0M128.0 625.5h0M128.0 614.7h0M127.3 614.4h0M129.5 619.2h0" stroke="#4daf4a" stroke-width="1.9" stroke-linecap="round"/>
<ellipse cx="100.1" cy="642.8" rx="6.6" ry="8" fill="#e41a1c"/><ellipse cx="105.2" cy="650.6" rx="2.23" ry="1.86" fill="#e41a1c"/><path d="M97.1 635.1h0M104.8 637.1h0M95.5 637.5h0M95.3 649.2h0M101.8 634.6h0M100.2 634.2h0M106.7 641.4h0M94.9 638.2h0M105.5 637.8h0M106.5 652.1h0M93.2 644.5h0M106.7 640.8h0M93.9 644.8h0M105.4 647.5h0M99.3 650.6h0M93.8 646.7h0M106.3 641.4h0M102.3 634.9h0M94.9 638.9h0M103.8 648.8h0M101.1 635.5h0M96.1 635.4h0M101.3 650.9h0M95.3 648.0h0M93.9 639.0h0M96.2 636.2h0M105.5 639.0h0M99.0 635.6h0M104.7 648.3h0M105.1 637.0h0M103.1 650.0h0M104.9 636.2h0M97.0 649.9h0M105.5 648.1h0M104.0 635.5h0M95.9 635.7h0M99.7 635.3h0M106.5 641.7h0M106.7 645.6h0M94.3 645.3h0M99.0 650.8h0M105.4 648.1h0M105.8 637.6h0M93.8 642.8h0M93.9 643.6h0M97.5 635.1h0M101.2 650.8h0M96.1 636.3h0M99.1 650.2h0M94.9 637.4h0M106.1 638.1h0M96.3 649.2h0M98.5 651.4h0M94.1 638.5h0M100.1 635.0h0M95.5 636.7h0M99.3 634.8h0M94.2 640.0h0M93.0 643.7h0M107.3 650.1h0M93.4 641.9h0M106.6 643.1h0M104.8 647.5h0M103.0 649.5h0M93.7 645.2h0M93.0 641.8h0M93.1 644.0h0M97.5 635.3h0M93.3 644.2h0M97.3 649.5h0" stroke="#e41a1c" stroke-width="1.9" stroke-linecap="round"/>
<circle cx="99" cy="576.3" r="1.2" fill="#ff7f00"/>
</g>
<text x="157" y="225.4" font-size="9.6" textLength="50" lengthAdjust="spacingAndGlyphs">Continuous</text>
<rect x="160.1" y="235.8" width="11.8" height="57.5" rx="1" fill="url(#gc)"/>
<path d="M160.1 264.55h2M169.9 264.55h2" stroke="#fff" stroke-opacity="0.6" stroke-width="0.8"/>
<text x="176.3" y="238.9" font-size="8.6">1.0</text>
<text x="176.3" y="267.8" font-size="8.6">0.5</text>
<text x="176.3" y="296.6" font-size="8.6">0</text>
<text x="162.1" y="396.3" font-size="9.6" textLength="36.2" lengthAdjust="spacingAndGlyphs">Subtype</text>
<circle cx="165.3" cy="408.7" r="3.1" fill="#87cefa"/>
<text x="172" y="411.8" font-size="8.6">1</text>
<circle cx="165.3" cy="419.9" r="3.1" fill="#ff00ff"/>
<text x="172" y="423" font-size="8.6">2</text>
<text x="162.5" y="555.6" font-size="9.6" textLength="29.3" lengthAdjust="spacingAndGlyphs">Patient</text>
<circle cx="167.2" cy="564.1" r="3.1" fill="#e41a1c"/>
<text x="174.1" y="567.2" font-size="8.6">1</text>
<circle cx="167.2" cy="575.43" r="3.1" fill="#377eb8"/>
<text x="174.1" y="578.53" font-size="8.6">2</text>
<circle cx="167.2" cy="586.76" r="3.1" fill="#4daf4a"/>
<text x="174.1" y="589.86" font-size="8.6">3</text>
<circle cx="167.2" cy="598.09" r="3.1" fill="#984ea3"/>
<text x="174.1" y="601.19" font-size="8.6">4</text>
<circle cx="167.2" cy="609.42" r="3.1" fill="#ff7f00"/>
<text x="174.1" y="612.52" font-size="8.6">5</text>
<circle cx="167.2" cy="620.75" r="3.1" fill="#ffff33"/>
<text x="174.1" y="623.85" font-size="8.6">6</text>
<circle cx="167.2" cy="632.08" r="3.1" fill="#a65628"/>
<text x="174.1" y="635.18" font-size="8.6">7</text>
<circle cx="167.2" cy="643.41" r="3.1" fill="#f781bf"/>
<text x="174.1" y="646.51" font-size="8.6">8</text>
<text x="223.9" y="223.5" font-size="13" style="stroke:#000;stroke-width:0.7px;fill:#000" font-weight="bold" fill="#000">c</text>
<text x="258.3" y="227" font-size="9.2" textLength="105" lengthAdjust="spacingAndGlyphs">Continuous GEP (<tspan font-style="italic">n</tspan> = 20)</text>
<path d="M257.8 233V291.5H600.3" fill="none" stroke="#767676" stroke-width="0.8"/>
<text x="251.2" y="238.1" font-size="8.8" text-anchor="end">1.0</text>
<text x="251.2" y="262.55" font-size="8.8" text-anchor="end">0.5</text>
<text x="251.2" y="287" font-size="8.8" text-anchor="end">0</text>
<path d="M257.8 235h-3.6M257.8 259.45h-3.6M257.8 283.9h-3.6M273.5 291.5v3.8M299.25 291.5v3.8M325 291.5v3.8M350.75 291.5v3.8M376.5 291.5v3.8M402.25 291.5v3.8M428 291.5v3.8M453.75 291.5v3.8M479.5 291.5v3.8M505.25 291.5v3.8M531 291.5v3.8M556.75 291.5v3.8M582.5 291.5v3.8" stroke="#767676" stroke-width="0.8"/>
<text x="230.4" y="261.85" font-size="9.8" text-anchor="middle" textLength="40.5" lengthAdjust="spacingAndGlyphs" transform="rotate(-90 230.4 261.85)">Accuracy</text>
<path d="M262.2 237.2h20.8" stroke="#000" stroke-width="1.5"/>
<path d="M287.95 239.89h20.8" stroke="#000" stroke-width="1.5"/>
<path d="M313.7 237.69h20.8" stroke="#000" stroke-width="1.5"/>
<path d="M339.45 241.11h20.8" stroke="#000" stroke-width="1.5"/>
<path d="M365.2 238.42h20.8" stroke="#000" stroke-width="1.5"/>
<rect x="391.35" y="244.78" width="20" height="3.42" fill="#fff" stroke="#000" stroke-width="0.9"/>
<path d="M390.95 246.49h20.8" stroke="#000" stroke-width="1.5"/>
<rect x="417.1" y="243.8" width="20" height="6.36" fill="#fff" stroke="#000" stroke-width="0.9"/>
<path d="M416.7 246.74h20.8" stroke="#000" stroke-width="1.5"/>
<rect x="442.85" y="242.34" width="20" height="7.33" fill="#fff" stroke="#000" stroke-width="0.9"/>
<path d="M442.45 245.27h20.8" stroke="#000" stroke-width="1.5"/>
<path d="M468.2 236.71h20.8" stroke="#000" stroke-width="1.5"/>
<path d="M493.95 237.69h20.8" stroke="#000" stroke-width="1.5"/>
<path d="M519.7 236.71h20.8" stroke="#000" stroke-width="1.5"/>
<path d="M545.45 236.22h20.8" stroke="#000" stroke-width="1.5"/>
<path d="M571.2 237.44h20.8" stroke="#000" stroke-width="1.5"/>
<path d="M276.2 237.2h0M279.2 237.1h0M278.9 237.2h0M272.1 237.5h0M274.8 237.1h0M266.8 237.1h0M268.8 237.2h0M273.7 237.2h0M268.4 237.5h0M278.8 237.3h0M267.5 237.1h0M267.2 237.1h0M267.0 237.2h0M278.2 237.5h0M268.3 237.3h0M278.2 237.0h0M279.5 237.3h0M275.3 237.2h0M279.2 237.3h0M279.6 237.2h0M271.4 255.5h0M295.3 239.6h0M293.3 240.1h0M291.8 240.3h0M299.9 240.1h0M301.0 240.7h0M295.5 240.1h0M298.1 239.7h0M298.1 240.1h0M291.7 239.8h0M291.2 239.4h0M303.5 239.7h0M302.7 240.6h0M299.5 240.1h0M291.6 240.7h0M305.2 240.3h0M302.2 240.3h0M305.0 239.5h0M296.2 240.1h0M302.5 239.9h0M302.1 240.4h0M297.2 245.3h0M329.5 237.6h0M330.8 237.9h0M321.7 237.9h0M330.4 237.7h0M330.5 237.8h0M321.3 237.7h0M319.3 237.8h0M318.8 237.9h0M331.6 237.7h0M317.3 237.8h0M324.6 237.5h0M320.2 237.7h0M329.0 237.7h0M322.9 237.7h0M330.3 237.9h0M324.0 237.9h0M318.6 237.6h0M330.8 237.6h0M328.4 237.7h0M323.1 237.9h0M355.0 241.8h0M349.1 241.6h0M355.1 240.7h0M349.2 240.8h0M353.3 241.3h0M346.7 241.3h0M344.5 241.4h0M357.2 241.5h0M351.8 240.8h0M347.4 241.3h0M346.4 241.9h0M355.4 241.1h0M354.1 241.5h0M352.8 241.1h0M353.7 241.2h0M352.9 241.5h0M349.6 241.6h0M352.7 241.1h0M356.5 241.6h0M351.1 241.2h0M348.7 244.8h0M348.7 245.8h0M348.7 243.3h0M376.3 238.8h0M378.2 238.6h0M380.4 238.4h0M380.1 238.4h0M377.8 238.5h0M380.5 238.3h0M380.7 238.5h0M378.4 238.2h0M382.4 238.1h0M376.0 238.4h0M380.6 238.6h0M375.3 238.1h0M378.9 238.3h0M370.7 238.3h0M376.8 238.3h0M374.4 238.3h0M379.7 238.4h0M378.9 238.4h0M370.5 238.8h0M377.9 238.4h0M403.6 246.5h0M395.9 245.0h0M398.1 245.6h0M397.0 247.1h0M397.5 246.2h0M395.8 246.5h0M399.9 245.7h0M402.4 245.1h0M406.2 246.4h0M400.2 247.6h0M400.3 246.3h0M405.3 246.8h0M395.8 246.0h0M396.5 245.1h0M399.4 245.4h0M406.8 245.2h0M400.4 244.1h0M403.1 244.1h0M397.1 246.0h0M402.1 245.2h0M400.2 252.1h0M400.2 252.6h0M400.7 255.5h0M404.0 255.5h0M400.2 273.1h0M432.7 241.5h0M425.3 246.7h0M421.1 242.9h0M427.9 253.5h0M422.8 246.6h0M431.8 246.4h0M426.3 249.2h0M424.6 251.3h0M425.7 241.0h0M432.1 241.4h0M424.2 246.8h0M427.1 240.6h0M424.9 248.7h0M427.0 240.5h0M426.8 250.4h0M428.6 253.2h0M424.6 248.4h0M431.0 244.7h0M427.5 256.7h0M432.3 250.5h0M449.8 243.0h0M448.7 247.3h0M450.4 239.5h0M452.5 244.6h0M454.1 244.3h0M448.3 243.4h0M450.5 243.2h0M450.9 245.2h0M453.2 247.0h0M451.2 245.7h0M453.9 243.4h0M449.9 250.7h0M457.8 245.7h0M453.4 241.7h0M456.2 251.4h0M453.8 245.9h0M454.4 243.7h0M457.8 245.5h0M451.6 246.3h0M449.2 242.2h0M483.6 236.8h0M483.6 236.9h0M477.6 236.7h0M482.8 236.8h0M473.2 236.6h0M479.3 236.7h0M476.1 236.7h0M479.9 236.8h0M472.1 236.6h0M483.4 236.8h0M481.1 236.6h0M481.9 236.9h0M486.1 236.5h0M471.8 236.7h0M474.4 236.6h0M485.4 236.7h0M473.1 236.7h0M484.9 236.8h0M480.3 236.8h0M473.5 236.7h0M497.5 237.6h0M502.5 237.9h0M497.7 237.9h0M508.0 237.7h0M498.9 237.5h0M501.6 237.7h0M504.2 237.7h0M502.5 237.5h0M507.3 237.9h0M506.3 237.8h0M510.5 237.7h0M506.2 237.7h0M505.1 237.8h0M508.1 237.8h0M498.9 237.7h0M502.4 237.8h0M499.5 237.6h0M506.7 237.6h0M506.9 237.9h0M498.7 237.9h0M526.2 236.7h0M529.8 236.6h0M534.5 236.8h0M533.5 236.9h0M524.9 236.9h0M532.8 236.6h0M524.3 236.8h0M532.6 236.5h0M524.7 236.6h0M527.9 236.7h0M527.6 236.8h0M527.8 236.7h0M524.6 236.7h0M532.3 236.6h0M529.1 236.6h0M530.4 236.6h0M531.2 236.7h0M528.5 236.7h0M523.1 236.8h0M523.2 236.8h0M555.6 236.0h0M548.4 236.1h0M561.7 236.2h0M554.8 236.2h0M549.8 236.2h0M550.7 236.4h0M554.1 236.3h0M550.6 236.1h0M552.5 236.3h0M552.7 236.4h0M555.6 236.3h0M562.2 236.5h0M562.4 236.3h0M558.5 236.2h0M562.5 236.2h0M558.4 236.4h0M558.5 236.3h0M550.8 236.1h0M548.7 236.3h0M549.5 236.3h0M588.7 237.5h0M578.8 237.5h0M578.3 237.5h0M584.9 237.4h0M577.7 237.6h0M588.2 237.4h0M580.6 237.4h0M574.2 237.2h0M585.8 237.7h0M574.8 237.5h0M588.9 237.4h0M579.4 237.4h0M575.2 237.6h0M581.5 237.3h0M574.9 237.2h0M574.9 237.5h0M575.0 237.5h0M580.2 237.5h0M574.9 237.5h0M588.7 237.7h0" stroke="#000" stroke-width="3.2" stroke-linecap="round"/>
<text x="258.3" y="320" font-size="9.2" textLength="130.2" lengthAdjust="spacingAndGlyphs">Subtype-related GEPs (<tspan font-style="italic">n</tspan> = 40)</text>
<path d="M257.8 327V385.5H600.3" fill="none" stroke="#767676" stroke-width="0.8"/>
<text x="251.2" y="332.5" font-size="8.8" text-anchor="end">1.0</text>
<text x="251.2" y="356.75" font-size="8.8" text-anchor="end">0.5</text>
<text x="251.2" y="381" font-size="8.8" text-anchor="end">0</text>
<path d="M257.8 329.4h-3.6M257.8 353.65h-3.6M257.8 377.9h-3.6M273.5 385.5v3.8M299.25 385.5v3.8M325 385.5v3.8M350.75 385.5v3.8M376.5 385.5v3.8M402.25 385.5v3.8M428 385.5v3.8M453.75 385.5v3.8M479.5 385.5v3.8M505.25 385.5v3.8M531 385.5v3.8M556.75 385.5v3.8M582.5 385.5v3.8" stroke="#767676" stroke-width="0.8"/>
<text x="230.4" y="356.05" font-size="9.8" text-anchor="middle" textLength="40.5" lengthAdjust="spacingAndGlyphs" transform="rotate(-90 230.4 356.05)">Accuracy</text>
<path d="M262.2 357.53h20.8" stroke="#000" stroke-width="1.5"/>
<path d="M287.95 356.8h20.8" stroke="#000" stroke-width="1.5"/>
<path d="M313.7 356.8h20.8" stroke="#000" stroke-width="1.5"/>
<path d="M339.45 376.93h20.8" stroke="#000" stroke-width="1.5"/>
<path d="M365.2 376.44h20.8" stroke="#000" stroke-width="1.5"/>
<path d="M390.95 370.62h20.8" stroke="#000" stroke-width="1.5"/>
<rect x="417.1" y="345.4" width="20" height="4.37" fill="#fff" stroke="#000" stroke-width="0.9"/>
<path d="M416.7 347.83h20.8" stroke="#000" stroke-width="1.5"/>
<path d="M442.45 377.66h20.8" stroke="#000" stroke-width="1.5"/>
<path d="M468.2 350.5h20.8" stroke="#000" stroke-width="1.5"/>
<path d="M469.1 350.5h19" stroke="#000" stroke-width="2.3"/>
<path d="M493.95 349.77h20.8" stroke="#000" stroke-width="1.5"/>
<path d="M494.85 349.77h19" stroke="#000" stroke-width="2.3"/>
<rect x="520.1" y="334.25" width="20" height="19.88" fill="#fff" stroke="#000" stroke-width="0.9"/>
<path d="M519.7 351.71h20.8" stroke="#000" stroke-width="1.5"/>
<rect x="545.85" y="335.22" width="20" height="5.33" fill="#fff" stroke="#000" stroke-width="0.9"/>
<path d="M545.45 337.64h20.8" stroke="#000" stroke-width="1.5"/>
<path d="M571.2 329.88h20.8" stroke="#000" stroke-width="1.5"/>
<path d="M572.1 329.88h19" stroke="#000" stroke-width="2.3"/>
<path d="M272.7 357.7h0M273.1 357.6h0M269.8 357.7h0M273.2 357.7h0M274.1 357.4h0M268.3 357.4h0M273.2 357.8h0M273.7 357.6h0M274.5 357.6h0M278.8 357.5h0M271.8 357.6h0M268.5 357.5h0M269.8 357.7h0M276.7 357.7h0M269.8 357.5h0M266.3 357.7h0M266.4 357.6h0M273.8 357.6h0M266.0 357.6h0M265.8 357.5h0M269.4 357.7h0M266.6 357.6h0M269.8 357.6h0M273.4 357.5h0M274.9 357.4h0M273.7 357.5h0M277.4 357.6h0M279.4 357.5h0M275.6 357.5h0M277.3 357.6h0M267.1 357.6h0M267.6 357.7h0M275.2 357.6h0M266.1 357.6h0M273.5 357.5h0M265.9 357.8h0M270.5 357.7h0M279.3 357.4h0M268.6 357.5h0M270.5 357.6h0M265.3 357.6h0M277.5 357.5h0M266.5 357.5h0M267.7 357.5h0M271.8 357.5h0M277.0 357.4h0M269.9 357.7h0M272.0 357.4h0M271.7 357.6h0M279.1 357.5h0M305.4 356.8h0M292.4 356.8h0M297.1 356.7h0M305.5 357.0h0M299.5 357.0h0M304.1 356.8h0M294.1 356.8h0M293.9 356.9h0M296.2 356.8h0M294.5 356.7h0M294.6 356.8h0M303.5 356.6h0M300.1 356.7h0M293.0 356.8h0M298.2 356.7h0M293.4 357.0h0M301.6 356.9h0M293.8 356.7h0M295.7 356.7h0M303.8 356.8h0M302.9 356.8h0M291.0 356.8h0M299.7 356.8h0M296.7 356.9h0M291.3 356.8h0M296.6 356.8h0M301.4 356.8h0M305.6 356.8h0M304.7 356.7h0M300.9 356.8h0M302.8 356.8h0M299.8 356.8h0M298.7 356.8h0M292.0 356.9h0M296.2 356.9h0M302.2 356.8h0M295.5 356.7h0M295.0 356.7h0M291.9 356.7h0M300.9 356.7h0M304.3 356.6h0M303.4 356.8h0M300.0 356.7h0M298.6 356.9h0M294.4 356.7h0M299.0 356.6h0M290.9 356.8h0M293.5 356.8h0M304.3 356.8h0M300.1 356.7h0M318.2 356.8h0M324.9 356.7h0M322.2 356.7h0M319.8 356.6h0M320.6 356.9h0M330.1 356.8h0M326.1 356.9h0M320.0 356.7h0M325.1 357.0h0M329.8 356.7h0M322.9 356.7h0M324.5 356.8h0M321.1 356.6h0M325.7 356.9h0M319.4 356.6h0M318.3 357.0h0M325.7 356.8h0M319.5 356.9h0M326.3 356.8h0M327.5 356.7h0M323.9 357.0h0M331.0 356.7h0M329.4 356.9h0M330.5 356.8h0M327.1 356.9h0M323.8 356.7h0M319.5 357.0h0M318.0 356.9h0M325.8 356.9h0M328.0 357.0h0M328.8 356.7h0M327.3 356.7h0M331.0 356.6h0M331.1 356.8h0M318.1 357.0h0M319.7 357.0h0M323.5 356.8h0M327.7 356.7h0M322.6 357.0h0M322.2 356.8h0M325.6 357.0h0M326.9 356.8h0M331.0 356.8h0M317.7 356.6h0M327.4 356.7h0M318.4 356.9h0M321.9 356.8h0M330.4 356.7h0M321.0 356.8h0M327.1 356.8h0M351.0 376.7h0M347.4 377.0h0M350.1 376.6h0M348.7 377.2h0M352.3 377.0h0M346.4 377.2h0M349.5 377.2h0M350.5 376.4h0M356.4 376.9h0M347.7 377.2h0M342.4 376.6h0M347.8 376.7h0M346.1 377.3h0M348.1 376.9h0M343.1 376.9h0M357.0 377.0h0M349.4 376.9h0M346.5 377.2h0M352.7 376.5h0M343.1 376.9h0M354.0 376.9h0M351.3 376.9h0M352.0 376.5h0M342.9 376.8h0M353.9 377.3h0M355.5 376.9h0M356.1 376.6h0M357.3 376.9h0M355.7 376.7h0M354.1 377.1h0M356.9 376.9h0M345.6 376.3h0M346.4 376.9h0M346.6 376.9h0M344.2 376.8h0M349.2 377.1h0M348.1 377.2h0M355.6 376.5h0M342.6 377.1h0M356.8 376.6h0M344.4 376.8h0M356.2 377.0h0M342.8 376.5h0M348.8 377.1h0M353.7 377.0h0M354.0 376.9h0M350.1 377.1h0M352.9 376.4h0M344.0 377.2h0M348.0 376.8h0M348.7 374.0h0M348.7 373.5h0M375.3 376.5h0M382.6 376.4h0M376.6 376.6h0M376.3 376.6h0M370.1 376.3h0M378.7 376.5h0M379.7 377.0h0M375.7 376.5h0M380.0 376.4h0M375.6 376.9h0M373.9 376.9h0M368.4 376.6h0M374.9 376.6h0M382.0 376.3h0M376.1 376.5h0M382.2 376.3h0M382.9 376.0h0M370.6 376.6h0M369.3 376.0h0M379.1 376.5h0M373.9 376.4h0M372.6 376.0h0M380.5 376.4h0M373.4 376.8h0M376.6 376.4h0M374.9 376.7h0M369.4 376.9h0M370.3 376.6h0M372.0 376.0h0M379.9 376.6h0M372.0 376.3h0M377.5 376.2h0M377.5 376.5h0M372.1 376.6h0M374.7 376.1h0M370.8 376.1h0M368.9 376.8h0M376.5 376.3h0M368.7 377.0h0M375.5 376.2h0M368.7 376.1h0M369.9 376.4h0M377.3 376.3h0M371.4 376.4h0M369.8 376.0h0M378.4 376.9h0M369.1 376.8h0M377.8 376.5h0M378.9 376.1h0M377.7 376.9h0M374.4 373.0h0M396.8 368.6h0M398.5 369.2h0M395.4 371.4h0M401.5 369.2h0M400.9 368.1h0M397.9 372.3h0M406.7 371.6h0M396.4 371.9h0M396.3 371.1h0M402.8 370.8h0M397.4 369.8h0M401.2 372.4h0M400.7 369.6h0M406.3 370.2h0M398.6 372.4h0M401.8 370.5h0M402.0 368.2h0M400.4 369.7h0M405.4 369.0h0M396.6 371.4h0M399.6 371.6h0M398.5 368.3h0M403.0 369.9h0M396.7 367.5h0M399.4 369.1h0M402.9 372.7h0M402.3 368.6h0M407.0 373.2h0M403.0 371.0h0M398.5 369.4h0M399.3 370.9h0M396.1 372.8h0M400.3 369.5h0M396.1 368.4h0M397.5 371.4h0M404.8 367.7h0M401.4 368.2h0M400.3 372.7h0M395.7 371.8h0M398.8 370.2h0M427.2 350.9h0M432.5 341.7h0M422.3 347.4h0M422.5 344.4h0M422.1 346.7h0M427.6 340.0h0M424.4 347.6h0M432.8 346.6h0M423.6 347.7h0M432.1 346.9h0M428.7 348.0h0M425.0 342.0h0M427.4 343.8h0M421.7 350.4h0M426.7 341.6h0M432.1 347.5h0M427.1 346.4h0M430.0 348.9h0M426.7 349.1h0M428.4 344.5h0M423.5 350.5h0M429.8 345.2h0M433.1 351.0h0M423.1 350.5h0M426.5 351.2h0M431.4 346.0h0M429.5 350.1h0M428.1 350.9h0M425.4 349.2h0M429.7 351.9h0M430.3 350.7h0M428.2 348.4h0M427.0 345.8h0M432.1 342.9h0M425.1 348.9h0M422.7 342.8h0M426.1 347.7h0M422.6 340.5h0M430.2 345.6h0M421.1 344.8h0M450.0 377.5h0M455.3 377.5h0M457.9 377.6h0M450.4 377.6h0M452.9 377.6h0M454.6 377.6h0M447.7 377.6h0M445.4 377.6h0M456.9 377.6h0M446.0 377.5h0M452.5 377.6h0M448.4 377.7h0M458.1 377.5h0M457.8 377.7h0M451.1 377.6h0M448.8 377.6h0M445.5 377.7h0M454.1 377.6h0M452.9 377.6h0M449.9 377.6h0M450.9 377.6h0M456.7 377.6h0M455.6 377.6h0M449.3 377.7h0M447.6 377.5h0M445.6 377.7h0M446.9 377.6h0M451.9 377.6h0M452.5 377.6h0M445.7 377.6h0M456.9 377.6h0M457.9 377.6h0M456.1 377.6h0M454.6 377.5h0M458.6 377.7h0M448.4 377.5h0M450.4 377.7h0M450.9 377.7h0M448.7 377.7h0M451.8 377.8h0M456.3 377.7h0M447.8 377.6h0M458.8 377.5h0M448.6 377.6h0M452.1 377.6h0M445.7 377.6h0M456.9 377.6h0M458.3 377.6h0M456.8 377.6h0M459.1 377.5h0M478.0 360.4h0M481.2 360.4h0M502.1 329.4h0M505.4 329.4h0M508.7 329.4h0M533.9 335.0h0M532.2 334.3h0M535.1 334.1h0M529.4 335.6h0M527.9 335.5h0M532.5 334.0h0M526.1 334.6h0M534.5 335.1h0M524.8 334.4h0M528.2 355.5h0M527.1 356.0h0M525.2 354.4h0M524.6 356.1h0M530.8 352.4h0M534.8 354.8h0M536.0 355.8h0M525.2 356.0h0M523.9 353.7h0M533.7 354.2h0M534.3 354.3h0M536.0 353.7h0M530.6 355.4h0M529.1 354.4h0M534.6 355.2h0M527.2 352.9h0M524.1 354.0h0M526.2 353.5h0M551.0 337.8h0M554.7 337.0h0M560.1 339.7h0M553.6 336.6h0M551.3 337.3h0M550.8 338.3h0M560.8 337.6h0M550.3 337.6h0M555.5 338.3h0M551.7 338.8h0M555.2 340.1h0M557.9 342.5h0M553.3 340.4h0M553.5 342.1h0M553.4 335.2h0M554.0 342.1h0M550.9 335.0h0M552.4 339.5h0M555.4 337.3h0M560.2 342.0h0M558.1 339.6h0M560.3 338.7h0M552.6 342.7h0M553.0 340.0h0M555.9 336.3h0M555.9 339.5h0M556.7 336.1h0M557.7 338.7h0M554.7 337.7h0M551.4 338.9h0M560.4 338.8h0M554.2 339.8h0M556.9 337.8h0M555.2 341.1h0M550.3 337.0h0M558.9 341.9h0M550.7 335.5h0M557.4 342.3h0M557.7 340.0h0M555.3 343.2h0M577.5 330.0h0M583.9 329.9h0M585.8 329.7h0M583.0 329.7h0M577.7 329.9h0M579.4 329.8h0M576.9 329.7h0M580.0 329.7h0" stroke="#000" stroke-width="3.2" stroke-linecap="round"/>
<text x="258.3" y="411" font-size="9.2" textLength="130.6" lengthAdjust="spacingAndGlyphs">Patient-specific GEPs (<tspan font-style="italic">n</tspan> = 160)</text>
<path d="M257.8 416.6V474.9H600.3" fill="none" stroke="#767676" stroke-width="0.8"/>
<text x="251.2" y="422.5" font-size="8.8" text-anchor="end">1.0</text>
<text x="251.2" y="446.45" font-size="8.8" text-anchor="end">0.5</text>
<text x="251.2" y="470.4" font-size="8.8" text-anchor="end">0</text>
<path d="M257.8 419.4h-3.6M257.8 443.35h-3.6M257.8 467.3h-3.6M273.5 474.9v3.8M299.25 474.9v3.8M325 474.9v3.8M350.75 474.9v3.8M376.5 474.9v3.8M402.25 474.9v3.8M428 474.9v3.8M453.75 474.9v3.8M479.5 474.9v3.8M505.25 474.9v3.8M531 474.9v3.8M556.75 474.9v3.8M582.5 474.9v3.8" stroke="#767676" stroke-width="0.8"/>
<text x="230.4" y="445.75" font-size="9.8" text-anchor="middle" textLength="40.5" lengthAdjust="spacingAndGlyphs" transform="rotate(-90 230.4 445.75)">Accuracy</text>
<path d="M262.2 419.64h20.8" stroke="#000" stroke-width="1.5"/>
<path d="M287.95 420.36h20.8" stroke="#000" stroke-width="1.5"/>
<path d="M313.7 421.56h20.8" stroke="#000" stroke-width="1.5"/>
<path d="M339.45 466.34h20.8" stroke="#000" stroke-width="1.5"/>
<path d="M365.2 465.62h20.8" stroke="#000" stroke-width="1.5"/>
<rect x="391.35" y="457.72" width="20" height="6.23" fill="#fff" stroke="#000" stroke-width="0.9"/>
<path d="M390.95 461.07h20.8" stroke="#000" stroke-width="1.5"/>
<rect x="417.1" y="430.42" width="20" height="8.14" fill="#fff" stroke="#000" stroke-width="0.9"/>
<path d="M416.7 434.73h20.8" stroke="#000" stroke-width="1.5"/>
<path d="M442.45 467.3h20.8" stroke="#000" stroke-width="1.5"/>
<path d="M468.2 419.64h20.8" stroke="#000" stroke-width="1.5"/>
<path d="M493.95 419.64h20.8" stroke="#000" stroke-width="1.5"/>
<path d="M519.7 420.6h20.8" stroke="#000" stroke-width="1.5"/>
<path d="M545.45 419.64h20.8" stroke="#000" stroke-width="1.5"/>
<rect x="571.6" y="428.98" width="20" height="7.19" fill="#fff" stroke="#000" stroke-width="0.9"/>
<path d="M571.2 432.33h20.8" stroke="#000" stroke-width="1.5"/>
<path d="M279.2 419.6h0M278.0 419.8h0M267.1 419.5h0M276.0 419.7h0M269.3 419.7h0M271.3 419.9h0M271.1 419.6h0M274.4 419.8h0M274.3 419.8h0M269.4 419.7h0M277.4 420.0h0M268.8 419.7h0M273.8 419.7h0M278.6 419.7h0M269.7 419.6h0M274.3 419.8h0M279.1 419.9h0M272.6 420.0h0M273.0 419.8h0M268.5 420.0h0M276.9 419.6h0M271.9 419.8h0M266.9 420.0h0M279.9 419.9h0M268.8 419.8h0M266.7 419.9h0M276.2 419.5h0M277.6 419.6h0M268.9 419.6h0M269.1 419.9h0M267.7 419.9h0M272.5 419.7h0M269.7 420.0h0M277.9 419.6h0M276.1 419.7h0M273.5 419.6h0M273.7 419.8h0M265.6 419.8h0M272.0 419.8h0M266.3 419.9h0M270.6 419.8h0M272.4 419.6h0M276.3 419.6h0M269.9 419.7h0M269.9 419.8h0M277.9 419.7h0M269.5 419.6h0M265.2 419.9h0M268.5 419.7h0M269.6 420.0h0M293.9 420.5h0M299.6 420.3h0M301.8 420.5h0M304.7 420.5h0M299.7 420.5h0M301.8 420.3h0M303.9 420.4h0M301.2 420.3h0M293.7 420.6h0M299.0 420.4h0M302.0 420.6h0M298.0 420.4h0M303.4 420.4h0M299.2 420.5h0M300.7 420.4h0M295.0 420.4h0M299.9 420.4h0M292.9 420.3h0M299.3 420.4h0M292.4 420.5h0M291.2 420.2h0M295.3 420.4h0M294.9 420.6h0M296.9 420.5h0M292.0 420.2h0M301.3 420.4h0M291.2 420.4h0M295.1 420.5h0M297.5 420.3h0M298.1 420.5h0M293.1 420.4h0M301.7 420.3h0M298.9 420.4h0M305.2 420.3h0M291.5 420.4h0M300.8 420.4h0M301.1 420.4h0M300.1 420.4h0M300.9 420.4h0M301.5 420.2h0M301.4 420.3h0M300.1 420.5h0M291.8 420.4h0M294.3 420.3h0M298.7 420.4h0M302.3 420.3h0M304.9 420.4h0M299.3 420.4h0M295.7 420.2h0M305.2 420.3h0M328.3 421.7h0M324.7 421.5h0M329.5 421.4h0M323.9 421.7h0M327.1 421.5h0M328.6 421.3h0M317.6 421.4h0M330.3 421.6h0M327.9 421.3h0M328.1 421.6h0M326.6 421.5h0M329.6 421.5h0M331.2 421.5h0M324.0 421.6h0M325.0 421.5h0M331.0 421.8h0M324.1 421.6h0M319.5 421.8h0M320.8 421.4h0M328.8 421.6h0M326.6 421.7h0M330.0 421.5h0M321.5 421.6h0M322.1 421.6h0M318.4 421.9h0M321.3 421.7h0M330.7 421.5h0M320.3 421.6h0M326.0 421.6h0M318.4 421.6h0M320.6 421.5h0M328.4 421.7h0M323.2 421.7h0M324.7 421.5h0M321.4 421.4h0M317.3 421.3h0M323.0 421.4h0M320.5 421.9h0M327.3 421.3h0M328.8 421.5h0M321.2 421.8h0M330.2 421.6h0M318.8 421.4h0M324.9 421.3h0M317.8 421.6h0M324.4 421.6h0M321.3 421.6h0M323.7 421.3h0M328.3 421.6h0M322.9 421.7h0M345.9 466.5h0M351.7 465.1h0M352.4 466.1h0M350.2 465.9h0M344.6 466.2h0M344.2 466.6h0M342.5 466.2h0M347.4 465.9h0M347.1 466.4h0M345.5 466.1h0M349.6 465.6h0M343.6 466.5h0M351.0 465.5h0M353.0 466.3h0M355.7 466.6h0M352.3 465.4h0M348.7 466.6h0M351.3 465.7h0M345.9 466.4h0M350.2 466.6h0M349.0 466.4h0M355.9 465.5h0M354.1 466.1h0M356.6 466.5h0M349.6 465.6h0M346.8 465.6h0M347.2 465.3h0M354.9 465.5h0M353.3 465.4h0M346.5 466.5h0M356.0 465.9h0M342.9 465.9h0M347.5 466.3h0M345.7 466.4h0M347.9 466.1h0M348.5 466.3h0M351.3 465.4h0M356.3 465.8h0M355.6 466.6h0M345.3 466.5h0M353.6 465.8h0M349.5 466.0h0M348.8 465.8h0M345.6 466.4h0M342.9 466.5h0M356.6 465.4h0M348.5 466.3h0M354.1 466.3h0M344.9 466.1h0M356.3 465.6h0M348.7 461.1h0M348.7 462.5h0M375.1 466.7h0M377.3 466.0h0M373.2 465.6h0M376.9 465.7h0M375.5 465.2h0M375.3 464.7h0M374.9 463.4h0M380.8 464.3h0M376.7 464.9h0M378.1 464.3h0M374.6 466.1h0M369.9 466.2h0M373.5 464.7h0M369.9 465.9h0M377.7 466.9h0M374.8 465.6h0M380.5 464.7h0M372.2 464.6h0M371.8 462.9h0M377.3 465.0h0M380.3 465.8h0M378.1 464.9h0M379.6 466.2h0M377.0 465.8h0M373.5 464.5h0M373.6 465.8h0M377.5 463.1h0M376.3 465.3h0M372.7 464.8h0M370.9 466.5h0M376.8 465.0h0M377.1 463.1h0M381.4 464.0h0M374.7 465.3h0M374.1 465.3h0M376.5 464.4h0M381.1 466.3h0M378.6 465.2h0M376.7 465.1h0M371.0 465.0h0M378.4 466.3h0M371.1 465.6h0M378.6 464.2h0M374.2 464.4h0M378.7 466.3h0M377.6 466.0h0M372.9 464.6h0M376.7 467.2h0M376.7 464.3h0M372.3 463.0h0M374.8 464.5h0M373.2 465.0h0M376.2 465.9h0M380.5 464.9h0M375.6 464.9h0M377.1 464.8h0M372.8 465.5h0M374.2 464.7h0M371.6 466.8h0M377.8 465.6h0M375.5 464.8h0M373.5 464.2h0M378.6 465.6h0M374.7 464.7h0M369.9 463.8h0M379.9 465.1h0M371.9 463.9h0M376.0 464.2h0M373.5 463.5h0M377.3 464.7h0M373.7 462.9h0M371.1 465.5h0M370.4 464.7h0M371.4 464.0h0M381.0 466.1h0M378.7 465.2h0M372.5 465.6h0M381.4 465.6h0M380.5 466.1h0M377.8 463.8h0M378.4 465.8h0M376.7 463.7h0M376.9 466.0h0M376.7 463.3h0M372.0 466.2h0M370.2 464.9h0M374.1 467.2h0M375.5 465.9h0M376.3 466.5h0M373.4 464.7h0M375.9 465.0h0M376.5 464.3h0M376.4 464.8h0M370.8 464.1h0M380.0 466.3h0M369.7 464.1h0M376.9 463.8h0M378.0 464.0h0M371.0 465.6h0M378.1 464.4h0M372.8 465.3h0M380.8 465.6h0M372.1 465.3h0M381.3 463.0h0M372.0 466.1h0M374.2 464.5h0M377.8 465.3h0M376.7 465.8h0M372.3 466.0h0M374.7 465.1h0M371.3 463.8h0M372.7 463.6h0M370.9 465.6h0M381.4 465.7h0M379.6 465.6h0M377.9 463.1h0M374.8 466.1h0M372.6 466.1h0M371.6 465.7h0M375.9 464.7h0M372.7 465.8h0M371.0 466.2h0M370.5 465.4h0M372.7 465.2h0M372.8 464.4h0M380.9 464.0h0M372.3 463.5h0M375.3 463.5h0M375.2 463.8h0M372.7 465.1h0M374.0 464.4h0M378.1 463.8h0M370.0 465.4h0M374.6 465.8h0M376.6 465.6h0M375.2 467.1h0M381.0 463.8h0M377.8 464.7h0M381.6 464.9h0M375.1 464.3h0M380.9 465.3h0M376.8 465.1h0M377.6 465.7h0M380.9 465.3h0M381.6 462.6h0M370.1 463.4h0M373.7 466.5h0M376.3 464.1h0M370.8 465.9h0M371.1 465.9h0M378.5 466.2h0M371.6 466.1h0M371.2 464.9h0M377.4 464.1h0M378.3 463.9h0M372.8 464.5h0M374.2 465.4h0M380.5 465.5h0M379.2 465.4h0M370.6 464.9h0M374.4 458.7h0M374.4 460.6h0M402.3 462.7h0M398.1 457.1h0M399.9 462.3h0M400.4 460.5h0M402.6 454.9h0M399.5 462.1h0M397.3 460.1h0M396.1 461.1h0M405.8 458.7h0M402.5 455.4h0M402.1 461.1h0M397.5 459.7h0M401.3 459.8h0M400.7 462.9h0M403.0 456.5h0M398.2 461.6h0M402.0 459.0h0M401.0 461.9h0M402.9 461.0h0M399.8 455.8h0M402.1 459.9h0M398.3 458.6h0M406.4 462.4h0M403.5 463.5h0M401.2 462.2h0M398.2 460.6h0M406.8 463.1h0M397.1 465.4h0M399.8 457.8h0M404.7 462.9h0M397.8 453.2h0M400.1 458.2h0M402.5 452.1h0M403.3 455.5h0M400.7 463.7h0M397.2 458.2h0M407.2 464.4h0M403.2 454.9h0M403.8 464.8h0M404.7 452.8h0M400.6 458.1h0M406.5 459.0h0M396.2 460.2h0M406.8 463.5h0M406.6 458.1h0M396.6 463.5h0M400.5 458.4h0M398.1 460.5h0M404.7 457.5h0M400.5 457.9h0M400.1 460.3h0M399.3 460.5h0M406.9 460.5h0M397.0 457.0h0M405.2 458.6h0M406.0 461.5h0M396.2 454.5h0M399.9 459.0h0M401.9 460.5h0M402.9 456.1h0M398.3 455.6h0M400.1 457.0h0M405.0 463.1h0M398.1 459.5h0M401.2 455.5h0M407.2 458.5h0M401.9 461.6h0M398.8 459.8h0M406.9 459.9h0M398.5 458.3h0M402.7 458.4h0M403.4 461.3h0M404.7 461.2h0M405.2 461.1h0M397.4 461.9h0M396.9 461.6h0M407.3 455.8h0M398.2 460.9h0M405.6 455.7h0M399.0 462.4h0M396.9 460.2h0M400.1 462.7h0M397.1 463.9h0M399.0 459.2h0M406.9 455.1h0M398.6 458.6h0M399.4 457.5h0M400.4 455.9h0M404.4 458.3h0M404.4 458.2h0M397.2 461.5h0M406.9 461.3h0M398.7 465.4h0M400.6 461.8h0M397.4 455.9h0M395.6 464.1h0M404.1 461.5h0M403.1 460.6h0M399.7 460.1h0M395.8 461.0h0M404.1 454.2h0M397.8 464.2h0M401.4 457.2h0M404.4 457.7h0M405.2 463.5h0M397.0 462.8h0M405.1 457.7h0M400.0 461.8h0M398.9 457.8h0M407.3 460.7h0M406.7 463.7h0M407.3 455.6h0M397.7 462.4h0M397.4 460.7h0M402.2 454.9h0M401.2 456.4h0M406.8 460.2h0M398.1 463.8h0M402.4 456.2h0M407.3 457.2h0M402.7 457.4h0M401.7 457.6h0M399.3 462.7h0M401.7 454.9h0M403.0 465.5h0M402.9 452.5h0M400.8 460.3h0M402.7 459.0h0M406.2 460.3h0M404.7 455.6h0M404.0 457.9h0M401.2 462.9h0M397.8 462.2h0M398.1 454.2h0M405.4 456.8h0M395.6 461.0h0M403.1 463.1h0M399.6 458.1h0M397.3 459.3h0M404.7 458.7h0M402.1 457.2h0M395.4 459.5h0M400.2 462.2h0M396.2 464.6h0M403.6 454.0h0M403.6 459.6h0M403.0 455.9h0M400.1 460.8h0M406.8 453.6h0M405.2 463.4h0M399.5 458.8h0M398.6 458.3h0M402.1 457.7h0M396.0 459.4h0M406.8 455.3h0M398.9 457.5h0M396.7 458.0h0M399.5 459.8h0M398.8 460.4h0M400.6 464.7h0M423.2 439.3h0M422.6 437.6h0M432.8 445.8h0M431.8 444.1h0M422.5 436.2h0M427.2 436.1h0M427.6 444.1h0M424.7 447.0h0M431.2 432.0h0M426.0 440.5h0M424.9 426.4h0M424.1 442.0h0M425.2 428.9h0M432.4 432.8h0M423.5 433.4h0M425.0 435.4h0M428.5 435.4h0M429.4 425.1h0M430.8 435.0h0M423.4 435.0h0M424.3 432.7h0M425.8 439.8h0M421.5 435.3h0M432.6 437.1h0M425.5 435.0h0M429.5 435.7h0M426.0 435.1h0M424.4 434.0h0M426.2 432.5h0M425.3 432.1h0M423.5 433.2h0M427.0 435.3h0M422.6 446.3h0M430.3 435.6h0M431.2 430.1h0M432.7 430.3h0M422.9 440.2h0M430.6 441.5h0M424.9 440.3h0M432.0 441.5h0M423.9 439.9h0M429.5 433.8h0M428.1 444.9h0M427.8 434.7h0M430.7 434.9h0M431.4 429.9h0M421.6 437.6h0M421.4 435.5h0M426.9 433.2h0M431.1 431.4h0M429.4 431.6h0M429.8 437.6h0M423.7 433.2h0M426.8 428.8h0M423.5 434.7h0M426.8 429.7h0M431.2 431.5h0M428.1 434.8h0M424.0 435.6h0M432.1 430.4h0M421.5 445.1h0M422.1 435.5h0M425.2 436.0h0M430.4 439.2h0M432.2 434.0h0M425.7 440.2h0M430.4 433.5h0M423.3 436.1h0M427.9 436.7h0M428.9 425.5h0M431.1 429.4h0M427.2 436.1h0M429.8 429.7h0M423.4 436.5h0M424.6 431.7h0M424.1 438.8h0M428.9 432.4h0M428.2 426.8h0M431.7 435.3h0M428.2 441.5h0M425.1 424.3h0M422.5 441.2h0M429.9 445.5h0M430.9 436.3h0M421.4 429.6h0M424.3 438.0h0M421.4 438.8h0M425.2 439.0h0M427.5 435.8h0M422.4 424.5h0M431.9 441.6h0M427.6 438.4h0M431.8 438.1h0M427.9 426.9h0M425.6 442.8h0M427.9 432.1h0M425.9 438.5h0M425.9 443.9h0M425.7 429.9h0M423.1 435.6h0M426.1 432.0h0M430.4 436.7h0M422.0 438.2h0M430.0 433.1h0M425.2 444.2h0M427.2 428.4h0M422.7 436.4h0M428.1 438.3h0M429.0 427.6h0M426.0 425.5h0M425.2 443.6h0M421.8 437.0h0M432.0 443.2h0M422.7 428.1h0M432.9 443.1h0M424.7 440.8h0M423.6 439.5h0M426.6 445.2h0M422.0 430.9h0M422.7 435.2h0M432.0 430.6h0M427.5 428.7h0M429.7 441.4h0M430.4 443.6h0M431.8 438.1h0M430.0 438.4h0M424.0 435.2h0M426.3 435.2h0M427.7 441.1h0M429.5 434.7h0M428.5 437.5h0M427.4 440.1h0M430.5 439.3h0M424.6 440.3h0M424.7 443.6h0M423.8 434.5h0M431.8 442.0h0M423.7 438.0h0M431.2 436.5h0M431.9 431.4h0M425.1 434.5h0M421.8 435.1h0M431.2 432.5h0M431.1 427.5h0M430.7 433.0h0M427.8 438.3h0M432.3 440.9h0M423.2 434.9h0M428.5 424.6h0M431.2 439.8h0M428.6 433.3h0M424.9 428.6h0M427.9 438.5h0M429.5 440.0h0M423.5 435.4h0M423.0 441.9h0M432.1 434.1h0M431.3 430.4h0M430.7 434.2h0M425.5 437.6h0M449.2 467.0h0M453.9 467.1h0M453.8 467.3h0M458.7 467.1h0M458.8 467.2h0M459.0 467.3h0M457.5 467.1h0M454.2 467.2h0M448.7 467.0h0M456.6 467.3h0M448.8 467.0h0M453.0 467.2h0M458.0 467.2h0M457.0 467.2h0M447.5 467.2h0M447.6 467.0h0M445.8 467.3h0M445.8 467.2h0M459.5 467.3h0M456.1 467.2h0M445.6 467.3h0M447.2 467.3h0M452.2 467.0h0M446.1 467.2h0M450.1 467.1h0M451.9 467.3h0M450.5 467.1h0M448.2 467.2h0M446.0 467.2h0M459.3 467.0h0M452.5 467.1h0M456.6 467.2h0M456.0 467.1h0M451.3 467.2h0M448.1 467.1h0M449.0 467.2h0M458.3 467.3h0M456.4 467.2h0M459.2 467.3h0M456.5 467.2h0M454.4 467.3h0M449.7 467.1h0M451.1 467.3h0M456.8 467.1h0M450.2 467.3h0M449.7 467.0h0M458.4 467.3h0M452.0 467.1h0M456.6 467.1h0M448.2 467.0h0M485.0 419.6h0M478.9 419.6h0M485.8 419.7h0M483.2 419.5h0M484.5 419.7h0M478.7 419.6h0M480.3 419.8h0M476.1 419.8h0M478.6 419.7h0M483.4 419.6h0M475.8 419.6h0M475.9 419.6h0M482.4 419.7h0M478.7 419.6h0M483.5 419.6h0M480.4 419.7h0M471.4 419.6h0M484.2 419.8h0M477.4 419.7h0M477.8 419.6h0M476.4 419.8h0M480.7 419.6h0M471.3 419.7h0M472.3 419.5h0M483.0 419.7h0M481.4 419.6h0M482.3 419.7h0M479.8 419.6h0M479.4 419.6h0M475.0 419.7h0M472.7 419.6h0M480.5 419.8h0M484.2 419.8h0M478.1 419.7h0M478.3 419.7h0M474.1 419.6h0M485.7 419.7h0M474.4 419.8h0M472.7 419.7h0M485.5 419.8h0M471.7 419.6h0M479.8 419.6h0M484.3 419.7h0M480.7 419.8h0M481.6 419.6h0M473.3 419.7h0M475.5 419.6h0M482.2 419.6h0M482.0 419.8h0M477.1 419.6h0M476.3 434.7h0M479.6 434.7h0M482.9 434.7h0M476.3 456.8h0M479.6 456.8h0M482.9 456.8h0M501.8 419.7h0M500.2 419.6h0M504.4 419.8h0M505.4 419.7h0M510.8 419.7h0M502.7 419.7h0M497.4 419.6h0M509.4 419.6h0M503.6 419.7h0M508.7 419.8h0M505.8 419.6h0M503.9 419.6h0M509.5 419.6h0M503.7 419.6h0M497.4 419.7h0M498.2 419.6h0M505.9 419.7h0M502.1 419.7h0M497.0 419.7h0M502.6 419.7h0M507.3 419.6h0M509.9 419.6h0M506.0 419.7h0M508.7 419.6h0M501.8 419.8h0M501.6 419.6h0M503.1 419.6h0M497.9 419.6h0M511.4 419.6h0M502.0 419.6h0M511.6 419.6h0M498.0 419.8h0M511.7 419.6h0M509.4 419.8h0M504.0 419.6h0M504.5 419.8h0M499.9 419.7h0M507.9 419.6h0M506.2 419.7h0M510.9 419.7h0M510.2 419.6h0M503.2 419.8h0M508.1 419.8h0M509.3 419.8h0M506.5 419.6h0M509.9 419.6h0M506.3 419.6h0M504.6 419.7h0M499.8 419.8h0M503.1 419.6h0M503.2 433.8h0M502.1 435.2h0M505.4 435.2h0M508.7 435.2h0M502.1 445.7h0M505.4 445.7h0M508.7 445.7h0M503.7 456.8h0M507.0 456.8h0M535.3 420.7h0M533.5 420.7h0M535.1 420.5h0M531.7 420.8h0M531.4 420.7h0M525.4 420.9h0M534.4 420.8h0M528.3 420.6h0M529.2 420.6h0M526.6 420.6h0M537.0 420.7h0M524.4 420.5h0M535.6 420.8h0M532.2 420.7h0M531.7 420.6h0M524.9 420.5h0M526.5 420.5h0M527.1 420.9h0M534.6 420.6h0M537.2 420.6h0M528.3 420.8h0M531.5 420.6h0M530.2 420.6h0M534.3 420.9h0M523.7 420.6h0M522.7 420.5h0M531.9 420.6h0M523.9 420.7h0M532.0 420.8h0M534.8 420.6h0M531.9 420.8h0M523.2 420.7h0M524.3 420.8h0M523.2 420.8h0M528.0 420.4h0M528.9 420.6h0M526.4 420.7h0M525.8 420.5h0M534.3 420.5h0M524.1 420.5h0M532.4 420.4h0M531.1 420.6h0M536.9 420.7h0M536.9 420.4h0M530.5 420.8h0M525.4 420.6h0M533.9 420.5h0M527.1 420.8h0M535.8 420.6h0M526.7 420.4h0M557.1 419.6h0M552.0 419.7h0M548.9 419.8h0M550.2 419.7h0M553.2 419.7h0M551.4 419.8h0M563.0 419.7h0M557.6 419.7h0M562.7 419.7h0M562.2 419.6h0M559.4 419.6h0M553.3 419.6h0M553.3 419.6h0M552.4 419.6h0M551.9 419.5h0M559.5 419.7h0M551.6 419.7h0M561.5 419.8h0M556.0 419.7h0M555.6 419.6h0M550.8 419.7h0M557.4 419.6h0M554.3 419.6h0M554.0 419.6h0M553.7 419.7h0M561.3 419.6h0M558.2 419.7h0M558.1 419.6h0M552.1 419.6h0M559.6 419.6h0M557.2 419.7h0M548.6 419.7h0M561.7 419.8h0M557.4 419.7h0M561.5 419.7h0M554.0 419.6h0M551.6 419.6h0M550.8 419.6h0M556.4 419.6h0M563.1 419.8h0M558.5 419.7h0M550.4 419.7h0M561.7 419.6h0M558.4 419.6h0M550.7 419.6h0M553.3 419.5h0M548.7 419.6h0M556.2 419.7h0M554.6 419.7h0M548.6 419.7h0M579.9 431.1h0M580.0 438.3h0M584.5 430.8h0M577.0 433.6h0M582.8 431.3h0M587.2 432.9h0M581.9 434.2h0M577.2 440.7h0M577.8 436.7h0M576.9 437.1h0M582.6 426.7h0M582.3 432.8h0M586.0 435.3h0M580.7 430.0h0M575.6 441.1h0M584.3 440.5h0M581.0 440.7h0M580.0 432.5h0M586.9 435.1h0M584.7 425.8h0M587.0 432.3h0M578.4 430.4h0M577.3 437.7h0M580.3 438.5h0M578.1 431.6h0M579.6 439.1h0M586.2 433.2h0M585.5 427.4h0M585.5 435.7h0M582.6 435.4h0M578.4 432.3h0M578.8 432.3h0M578.4 429.1h0M577.9 429.3h0M580.9 441.9h0M583.2 427.6h0M581.7 435.8h0M583.5 434.7h0M577.6 435.3h0M576.1 423.2h0M579.4 437.8h0M582.2 434.7h0M577.5 432.8h0M584.1 428.5h0M577.6 436.9h0M581.7 438.3h0M584.2 431.2h0M586.0 436.0h0M581.3 427.2h0M577.7 438.1h0M576.4 430.2h0M584.2 431.4h0M577.4 441.2h0M580.9 436.0h0M585.2 428.2h0M575.7 434.0h0M577.9 432.3h0M586.8 435.2h0M580.3 435.3h0M586.8 430.8h0M582.7 439.6h0M577.1 430.9h0M579.6 438.5h0M584.0 434.6h0M583.5 425.2h0M587.6 433.5h0M580.9 426.4h0M581.8 433.0h0M583.3 438.5h0M581.3 430.3h0M586.5 431.8h0M583.9 431.4h0M584.4 427.6h0M587.1 433.2h0M576.6 426.0h0M577.6 422.9h0M583.3 427.6h0M579.8 429.3h0M577.7 435.3h0M577.0 438.1h0M585.4 437.1h0M585.9 432.3h0M580.9 424.4h0M586.4 437.0h0M581.8 438.3h0M577.1 428.3h0M583.4 435.6h0M586.0 438.6h0M582.3 429.8h0M577.3 429.4h0M582.1 428.2h0M585.4 434.0h0M576.1 433.2h0M576.0 430.5h0M578.2 432.0h0M580.6 433.7h0M583.3 430.5h0M578.3 434.4h0M576.4 429.4h0M584.3 431.8h0M575.9 431.3h0M583.3 439.0h0M583.2 429.2h0M584.0 424.5h0M587.1 433.5h0M576.9 436.0h0M575.9 433.9h0M582.0 432.0h0M582.9 436.8h0M584.0 433.0h0M585.2 429.2h0M576.8 430.7h0M583.6 431.9h0M580.1 436.7h0M578.9 432.5h0M579.0 439.0h0M584.9 433.7h0M585.8 424.4h0M587.4 427.4h0M583.0 432.6h0M584.2 440.8h0M579.7 428.4h0M576.8 431.5h0M580.7 426.3h0M578.3 433.2h0M587.0 427.8h0M581.9 433.7h0M584.0 435.3h0M585.8 431.4h0M581.6 441.3h0M575.9 425.2h0M580.1 431.4h0M579.2 438.2h0M578.2 425.5h0M586.0 433.0h0M575.9 438.4h0M583.1 431.6h0M585.7 440.4h0M582.7 429.5h0M586.7 435.9h0M587.6 436.3h0M586.5 432.2h0M582.9 432.2h0M580.9 426.1h0M587.2 434.9h0M577.1 423.8h0M584.7 428.0h0M578.4 436.4h0M585.6 439.7h0M585.6 439.1h0M587.4 429.1h0M585.3 438.3h0M576.9 439.0h0M577.3 428.3h0M587.4 430.0h0M580.7 432.9h0M583.2 427.3h0M583.9 424.5h0M576.1 433.3h0M584.7 427.4h0" stroke="#000" stroke-width="3.1" stroke-linecap="round"/>
<text x="276.9" y="483.4" font-size="9.6" text-anchor="end" textLength="102" lengthAdjust="spacingAndGlyphs" transform="rotate(-90 276.9 483.4)">Combined (UMI counts)</text>
<text x="302.65" y="483.4" font-size="9.6" text-anchor="end" textLength="104.3" lengthAdjust="spacingAndGlyphs" transform="rotate(-90 302.65 483.4)">Consensus (UMI counts)</text>
<text x="328.4" y="483.4" font-size="9.6" text-anchor="end" textLength="132.2" lengthAdjust="spacingAndGlyphs" transform="rotate(-90 328.4 483.4)">Combined (shifted log counts)</text>
<text x="354.15" y="483.4" font-size="9.6" text-anchor="end" textLength="76.3" lengthAdjust="spacingAndGlyphs" transform="rotate(-90 354.15 483.4)">Patient-by-patient</text>
<text x="379.9" y="483.4" font-size="9.6" text-anchor="end" textLength="23.8" lengthAdjust="spacingAndGlyphs" transform="rotate(-90 379.9 483.4)">LIGER</text>
<text x="405.65" y="483.4" font-size="9.6" text-anchor="end" textLength="55.2" lengthAdjust="spacingAndGlyphs" transform="rotate(-90 405.65 483.4)">CCA (Seurat)</text>
<text x="431.4" y="483.4" font-size="9.6" text-anchor="end" textLength="55.7" lengthAdjust="spacingAndGlyphs" transform="rotate(-90 431.4 483.4)">MNN Correct</text>
<text x="457.15" y="483.4" font-size="9.6" text-anchor="end" textLength="27" lengthAdjust="spacingAndGlyphs" transform="rotate(-90 457.15 483.4)">Conos</text>
<text x="482.9" y="483.4" font-size="9.6" text-anchor="end" textLength="108.6" lengthAdjust="spacingAndGlyphs" transform="rotate(-90 482.9 483.4)">EB-SNMF, point-exp prior</text>
<text x="508.65" y="483.4" font-size="9.6" text-anchor="end" textLength="79.7" lengthAdjust="spacingAndGlyphs" transform="rotate(-90 508.65 483.4)">EB-SNMF, GB prior</text>
<text x="534.4" y="483.4" font-size="9.6" text-anchor="end" textLength="82.4" lengthAdjust="spacingAndGlyphs" transform="rotate(-90 534.4 483.4)">CD, point-exp prior</text>
<text x="560.15" y="483.4" font-size="9.6" text-anchor="end" textLength="24.8" lengthAdjust="spacingAndGlyphs" transform="rotate(-90 560.15 483.4)">GBCD</text>
<text x="585.9" y="483.4" font-size="9.6" text-anchor="end" textLength="17" lengthAdjust="spacingAndGlyphs" transform="rotate(-90 585.9 483.4)">PCA</text>
<path d="M260.8 619.8V631.4H387.5V619.8" fill="none" stroke="#555" stroke-width="0.9"/>
<text x="324.2" y="647" font-size="10" text-anchor="middle" textLength="19.8" lengthAdjust="spacingAndGlyphs">NMF</text>
<text x="324.2" y="657" font-size="10" text-anchor="middle" textLength="51.7" lengthAdjust="spacingAndGlyphs">approaches</text>
<path d="M392.2 619.8V631.4H463.4V619.8" fill="none" stroke="#555" stroke-width="0.9"/>
<text x="427.8" y="647" font-size="10" text-anchor="middle" textLength="73.4" lengthAdjust="spacingAndGlyphs">Batch-correction</text>
<text x="427.8" y="657" font-size="10" text-anchor="middle" textLength="51.7" lengthAdjust="spacingAndGlyphs">approaches</text>
<path d="M472.3 619.8V631.4H592.4V619.8" fill="none" stroke="#555" stroke-width="0.9"/>
<text x="532.4" y="647" font-size="10" text-anchor="middle" textLength="112.2" lengthAdjust="spacingAndGlyphs">Other matrix factorization</text>
<text x="532.4" y="657" font-size="10" text-anchor="middle" textLength="51.7" lengthAdjust="spacingAndGlyphs">approaches</text>
</svg>
</body></html>
